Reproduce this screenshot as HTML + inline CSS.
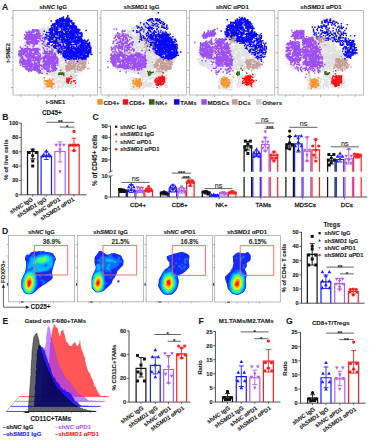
<!DOCTYPE html>
<html><head><meta charset="utf-8"><style>
html,body{margin:0;padding:0;background:#fff;width:373px;height:440px;overflow:hidden}
svg{display:block}
text{font-family:"Liberation Sans", sans-serif}
</style></head><body>
<svg width="373" height="440" viewBox="0 0 373 440">
<rect width="373" height="440" fill="#fff"/>
<text x="2.00" y="10.20" font-size="8.6" text-anchor="start" font-weight="bold" fill="#1a1a1a" stroke="#1a1a1a" stroke-width="0.1">A</text>
<text x="53.10" y="8.70" font-size="6.1" text-anchor="middle" font-weight="bold" fill="#1a1a1a" stroke="#1a1a1a" stroke-width="0.1">sh<tspan font-style="italic">NC</tspan> IgG</text>
<text x="141.50" y="8.70" font-size="6.1" text-anchor="middle" font-weight="bold" fill="#1a1a1a" stroke="#1a1a1a" stroke-width="0.1">sh<tspan font-style="italic">SMD1</tspan> IgG</text>
<text x="232.30" y="8.70" font-size="6.1" text-anchor="middle" font-weight="bold" fill="#1a1a1a" stroke="#1a1a1a" stroke-width="0.1">sh<tspan font-style="italic">NC</tspan> αPD1</text>
<text x="321.00" y="8.70" font-size="6.1" text-anchor="middle" font-weight="bold" fill="#1a1a1a" stroke="#1a1a1a" stroke-width="0.1">sh<tspan font-style="italic">SMD1</tspan> αPD1</text>
<rect x="13.00" y="10.50" width="84.60" height="84.50" fill="none" stroke="#a0a0a0" stroke-width="0.7"/>
<line x1="10.80" y1="18.00" x2="13.00" y2="18.00" stroke="#666" stroke-width="0.5"/>
<line x1="11.90" y1="22.35" x2="13.00" y2="22.35" stroke="#999" stroke-width="0.4"/>
<line x1="11.90" y1="26.70" x2="13.00" y2="26.70" stroke="#999" stroke-width="0.4"/>
<line x1="11.90" y1="31.05" x2="13.00" y2="31.05" stroke="#999" stroke-width="0.4"/>
<line x1="10.80" y1="35.40" x2="13.00" y2="35.40" stroke="#666" stroke-width="0.5"/>
<line x1="11.90" y1="39.75" x2="13.00" y2="39.75" stroke="#999" stroke-width="0.4"/>
<line x1="11.90" y1="44.10" x2="13.00" y2="44.10" stroke="#999" stroke-width="0.4"/>
<line x1="11.90" y1="48.45" x2="13.00" y2="48.45" stroke="#999" stroke-width="0.4"/>
<line x1="10.80" y1="52.80" x2="13.00" y2="52.80" stroke="#666" stroke-width="0.5"/>
<line x1="11.90" y1="57.15" x2="13.00" y2="57.15" stroke="#999" stroke-width="0.4"/>
<line x1="11.90" y1="61.50" x2="13.00" y2="61.50" stroke="#999" stroke-width="0.4"/>
<line x1="11.90" y1="65.85" x2="13.00" y2="65.85" stroke="#999" stroke-width="0.4"/>
<line x1="10.80" y1="70.20" x2="13.00" y2="70.20" stroke="#666" stroke-width="0.5"/>
<line x1="11.90" y1="74.55" x2="13.00" y2="74.55" stroke="#999" stroke-width="0.4"/>
<line x1="11.90" y1="78.90" x2="13.00" y2="78.90" stroke="#999" stroke-width="0.4"/>
<line x1="11.90" y1="83.25" x2="13.00" y2="83.25" stroke="#999" stroke-width="0.4"/>
<line x1="10.80" y1="87.60" x2="13.00" y2="87.60" stroke="#666" stroke-width="0.5"/>
<line x1="11.90" y1="91.95" x2="13.00" y2="91.95" stroke="#999" stroke-width="0.4"/>
<line x1="20.70" y1="95.00" x2="20.70" y2="97.00" stroke="#666" stroke-width="0.5"/>
<line x1="25.05" y1="95.00" x2="25.05" y2="96.00" stroke="#999" stroke-width="0.4"/>
<line x1="29.40" y1="95.00" x2="29.40" y2="96.00" stroke="#999" stroke-width="0.4"/>
<line x1="33.75" y1="95.00" x2="33.75" y2="96.00" stroke="#999" stroke-width="0.4"/>
<line x1="38.10" y1="95.00" x2="38.10" y2="97.00" stroke="#666" stroke-width="0.5"/>
<line x1="42.45" y1="95.00" x2="42.45" y2="96.00" stroke="#999" stroke-width="0.4"/>
<line x1="46.80" y1="95.00" x2="46.80" y2="96.00" stroke="#999" stroke-width="0.4"/>
<line x1="51.15" y1="95.00" x2="51.15" y2="96.00" stroke="#999" stroke-width="0.4"/>
<line x1="55.50" y1="95.00" x2="55.50" y2="97.00" stroke="#666" stroke-width="0.5"/>
<line x1="59.85" y1="95.00" x2="59.85" y2="96.00" stroke="#999" stroke-width="0.4"/>
<line x1="64.20" y1="95.00" x2="64.20" y2="96.00" stroke="#999" stroke-width="0.4"/>
<line x1="68.55" y1="95.00" x2="68.55" y2="96.00" stroke="#999" stroke-width="0.4"/>
<line x1="72.90" y1="95.00" x2="72.90" y2="97.00" stroke="#666" stroke-width="0.5"/>
<line x1="77.25" y1="95.00" x2="77.25" y2="96.00" stroke="#999" stroke-width="0.4"/>
<line x1="81.60" y1="95.00" x2="81.60" y2="96.00" stroke="#999" stroke-width="0.4"/>
<line x1="85.95" y1="95.00" x2="85.95" y2="96.00" stroke="#999" stroke-width="0.4"/>
<line x1="90.30" y1="95.00" x2="90.30" y2="97.00" stroke="#666" stroke-width="0.5"/>
<line x1="94.65" y1="95.00" x2="94.65" y2="96.00" stroke="#999" stroke-width="0.4"/>
<rect x="101.00" y="10.50" width="85.40" height="84.50" fill="none" stroke="#a0a0a0" stroke-width="0.7"/>
<line x1="98.80" y1="18.00" x2="101.00" y2="18.00" stroke="#666" stroke-width="0.5"/>
<line x1="99.90" y1="22.35" x2="101.00" y2="22.35" stroke="#999" stroke-width="0.4"/>
<line x1="99.90" y1="26.70" x2="101.00" y2="26.70" stroke="#999" stroke-width="0.4"/>
<line x1="99.90" y1="31.05" x2="101.00" y2="31.05" stroke="#999" stroke-width="0.4"/>
<line x1="98.80" y1="35.40" x2="101.00" y2="35.40" stroke="#666" stroke-width="0.5"/>
<line x1="99.90" y1="39.75" x2="101.00" y2="39.75" stroke="#999" stroke-width="0.4"/>
<line x1="99.90" y1="44.10" x2="101.00" y2="44.10" stroke="#999" stroke-width="0.4"/>
<line x1="99.90" y1="48.45" x2="101.00" y2="48.45" stroke="#999" stroke-width="0.4"/>
<line x1="98.80" y1="52.80" x2="101.00" y2="52.80" stroke="#666" stroke-width="0.5"/>
<line x1="99.90" y1="57.15" x2="101.00" y2="57.15" stroke="#999" stroke-width="0.4"/>
<line x1="99.90" y1="61.50" x2="101.00" y2="61.50" stroke="#999" stroke-width="0.4"/>
<line x1="99.90" y1="65.85" x2="101.00" y2="65.85" stroke="#999" stroke-width="0.4"/>
<line x1="98.80" y1="70.20" x2="101.00" y2="70.20" stroke="#666" stroke-width="0.5"/>
<line x1="99.90" y1="74.55" x2="101.00" y2="74.55" stroke="#999" stroke-width="0.4"/>
<line x1="99.90" y1="78.90" x2="101.00" y2="78.90" stroke="#999" stroke-width="0.4"/>
<line x1="99.90" y1="83.25" x2="101.00" y2="83.25" stroke="#999" stroke-width="0.4"/>
<line x1="98.80" y1="87.60" x2="101.00" y2="87.60" stroke="#666" stroke-width="0.5"/>
<line x1="99.90" y1="91.95" x2="101.00" y2="91.95" stroke="#999" stroke-width="0.4"/>
<line x1="108.70" y1="95.00" x2="108.70" y2="97.00" stroke="#666" stroke-width="0.5"/>
<line x1="113.05" y1="95.00" x2="113.05" y2="96.00" stroke="#999" stroke-width="0.4"/>
<line x1="117.40" y1="95.00" x2="117.40" y2="96.00" stroke="#999" stroke-width="0.4"/>
<line x1="121.75" y1="95.00" x2="121.75" y2="96.00" stroke="#999" stroke-width="0.4"/>
<line x1="126.10" y1="95.00" x2="126.10" y2="97.00" stroke="#666" stroke-width="0.5"/>
<line x1="130.45" y1="95.00" x2="130.45" y2="96.00" stroke="#999" stroke-width="0.4"/>
<line x1="134.80" y1="95.00" x2="134.80" y2="96.00" stroke="#999" stroke-width="0.4"/>
<line x1="139.15" y1="95.00" x2="139.15" y2="96.00" stroke="#999" stroke-width="0.4"/>
<line x1="143.50" y1="95.00" x2="143.50" y2="97.00" stroke="#666" stroke-width="0.5"/>
<line x1="147.85" y1="95.00" x2="147.85" y2="96.00" stroke="#999" stroke-width="0.4"/>
<line x1="152.20" y1="95.00" x2="152.20" y2="96.00" stroke="#999" stroke-width="0.4"/>
<line x1="156.55" y1="95.00" x2="156.55" y2="96.00" stroke="#999" stroke-width="0.4"/>
<line x1="160.90" y1="95.00" x2="160.90" y2="97.00" stroke="#666" stroke-width="0.5"/>
<line x1="165.25" y1="95.00" x2="165.25" y2="96.00" stroke="#999" stroke-width="0.4"/>
<line x1="169.60" y1="95.00" x2="169.60" y2="96.00" stroke="#999" stroke-width="0.4"/>
<line x1="173.95" y1="95.00" x2="173.95" y2="96.00" stroke="#999" stroke-width="0.4"/>
<line x1="178.30" y1="95.00" x2="178.30" y2="97.00" stroke="#666" stroke-width="0.5"/>
<line x1="182.65" y1="95.00" x2="182.65" y2="96.00" stroke="#999" stroke-width="0.4"/>
<rect x="189.40" y="10.50" width="85.40" height="84.50" fill="none" stroke="#a0a0a0" stroke-width="0.7"/>
<line x1="187.20" y1="18.00" x2="189.40" y2="18.00" stroke="#666" stroke-width="0.5"/>
<line x1="188.30" y1="22.35" x2="189.40" y2="22.35" stroke="#999" stroke-width="0.4"/>
<line x1="188.30" y1="26.70" x2="189.40" y2="26.70" stroke="#999" stroke-width="0.4"/>
<line x1="188.30" y1="31.05" x2="189.40" y2="31.05" stroke="#999" stroke-width="0.4"/>
<line x1="187.20" y1="35.40" x2="189.40" y2="35.40" stroke="#666" stroke-width="0.5"/>
<line x1="188.30" y1="39.75" x2="189.40" y2="39.75" stroke="#999" stroke-width="0.4"/>
<line x1="188.30" y1="44.10" x2="189.40" y2="44.10" stroke="#999" stroke-width="0.4"/>
<line x1="188.30" y1="48.45" x2="189.40" y2="48.45" stroke="#999" stroke-width="0.4"/>
<line x1="187.20" y1="52.80" x2="189.40" y2="52.80" stroke="#666" stroke-width="0.5"/>
<line x1="188.30" y1="57.15" x2="189.40" y2="57.15" stroke="#999" stroke-width="0.4"/>
<line x1="188.30" y1="61.50" x2="189.40" y2="61.50" stroke="#999" stroke-width="0.4"/>
<line x1="188.30" y1="65.85" x2="189.40" y2="65.85" stroke="#999" stroke-width="0.4"/>
<line x1="187.20" y1="70.20" x2="189.40" y2="70.20" stroke="#666" stroke-width="0.5"/>
<line x1="188.30" y1="74.55" x2="189.40" y2="74.55" stroke="#999" stroke-width="0.4"/>
<line x1="188.30" y1="78.90" x2="189.40" y2="78.90" stroke="#999" stroke-width="0.4"/>
<line x1="188.30" y1="83.25" x2="189.40" y2="83.25" stroke="#999" stroke-width="0.4"/>
<line x1="187.20" y1="87.60" x2="189.40" y2="87.60" stroke="#666" stroke-width="0.5"/>
<line x1="188.30" y1="91.95" x2="189.40" y2="91.95" stroke="#999" stroke-width="0.4"/>
<line x1="197.10" y1="95.00" x2="197.10" y2="97.00" stroke="#666" stroke-width="0.5"/>
<line x1="201.45" y1="95.00" x2="201.45" y2="96.00" stroke="#999" stroke-width="0.4"/>
<line x1="205.80" y1="95.00" x2="205.80" y2="96.00" stroke="#999" stroke-width="0.4"/>
<line x1="210.15" y1="95.00" x2="210.15" y2="96.00" stroke="#999" stroke-width="0.4"/>
<line x1="214.50" y1="95.00" x2="214.50" y2="97.00" stroke="#666" stroke-width="0.5"/>
<line x1="218.85" y1="95.00" x2="218.85" y2="96.00" stroke="#999" stroke-width="0.4"/>
<line x1="223.20" y1="95.00" x2="223.20" y2="96.00" stroke="#999" stroke-width="0.4"/>
<line x1="227.55" y1="95.00" x2="227.55" y2="96.00" stroke="#999" stroke-width="0.4"/>
<line x1="231.90" y1="95.00" x2="231.90" y2="97.00" stroke="#666" stroke-width="0.5"/>
<line x1="236.25" y1="95.00" x2="236.25" y2="96.00" stroke="#999" stroke-width="0.4"/>
<line x1="240.60" y1="95.00" x2="240.60" y2="96.00" stroke="#999" stroke-width="0.4"/>
<line x1="244.95" y1="95.00" x2="244.95" y2="96.00" stroke="#999" stroke-width="0.4"/>
<line x1="249.30" y1="95.00" x2="249.30" y2="97.00" stroke="#666" stroke-width="0.5"/>
<line x1="253.65" y1="95.00" x2="253.65" y2="96.00" stroke="#999" stroke-width="0.4"/>
<line x1="258.00" y1="95.00" x2="258.00" y2="96.00" stroke="#999" stroke-width="0.4"/>
<line x1="262.35" y1="95.00" x2="262.35" y2="96.00" stroke="#999" stroke-width="0.4"/>
<line x1="266.70" y1="95.00" x2="266.70" y2="97.00" stroke="#666" stroke-width="0.5"/>
<line x1="271.05" y1="95.00" x2="271.05" y2="96.00" stroke="#999" stroke-width="0.4"/>
<rect x="278.00" y="10.50" width="85.50" height="84.50" fill="none" stroke="#a0a0a0" stroke-width="0.7"/>
<line x1="275.80" y1="18.00" x2="278.00" y2="18.00" stroke="#666" stroke-width="0.5"/>
<line x1="276.90" y1="22.35" x2="278.00" y2="22.35" stroke="#999" stroke-width="0.4"/>
<line x1="276.90" y1="26.70" x2="278.00" y2="26.70" stroke="#999" stroke-width="0.4"/>
<line x1="276.90" y1="31.05" x2="278.00" y2="31.05" stroke="#999" stroke-width="0.4"/>
<line x1="275.80" y1="35.40" x2="278.00" y2="35.40" stroke="#666" stroke-width="0.5"/>
<line x1="276.90" y1="39.75" x2="278.00" y2="39.75" stroke="#999" stroke-width="0.4"/>
<line x1="276.90" y1="44.10" x2="278.00" y2="44.10" stroke="#999" stroke-width="0.4"/>
<line x1="276.90" y1="48.45" x2="278.00" y2="48.45" stroke="#999" stroke-width="0.4"/>
<line x1="275.80" y1="52.80" x2="278.00" y2="52.80" stroke="#666" stroke-width="0.5"/>
<line x1="276.90" y1="57.15" x2="278.00" y2="57.15" stroke="#999" stroke-width="0.4"/>
<line x1="276.90" y1="61.50" x2="278.00" y2="61.50" stroke="#999" stroke-width="0.4"/>
<line x1="276.90" y1="65.85" x2="278.00" y2="65.85" stroke="#999" stroke-width="0.4"/>
<line x1="275.80" y1="70.20" x2="278.00" y2="70.20" stroke="#666" stroke-width="0.5"/>
<line x1="276.90" y1="74.55" x2="278.00" y2="74.55" stroke="#999" stroke-width="0.4"/>
<line x1="276.90" y1="78.90" x2="278.00" y2="78.90" stroke="#999" stroke-width="0.4"/>
<line x1="276.90" y1="83.25" x2="278.00" y2="83.25" stroke="#999" stroke-width="0.4"/>
<line x1="275.80" y1="87.60" x2="278.00" y2="87.60" stroke="#666" stroke-width="0.5"/>
<line x1="276.90" y1="91.95" x2="278.00" y2="91.95" stroke="#999" stroke-width="0.4"/>
<line x1="285.70" y1="95.00" x2="285.70" y2="97.00" stroke="#666" stroke-width="0.5"/>
<line x1="290.05" y1="95.00" x2="290.05" y2="96.00" stroke="#999" stroke-width="0.4"/>
<line x1="294.40" y1="95.00" x2="294.40" y2="96.00" stroke="#999" stroke-width="0.4"/>
<line x1="298.75" y1="95.00" x2="298.75" y2="96.00" stroke="#999" stroke-width="0.4"/>
<line x1="303.10" y1="95.00" x2="303.10" y2="97.00" stroke="#666" stroke-width="0.5"/>
<line x1="307.45" y1="95.00" x2="307.45" y2="96.00" stroke="#999" stroke-width="0.4"/>
<line x1="311.80" y1="95.00" x2="311.80" y2="96.00" stroke="#999" stroke-width="0.4"/>
<line x1="316.15" y1="95.00" x2="316.15" y2="96.00" stroke="#999" stroke-width="0.4"/>
<line x1="320.50" y1="95.00" x2="320.50" y2="97.00" stroke="#666" stroke-width="0.5"/>
<line x1="324.85" y1="95.00" x2="324.85" y2="96.00" stroke="#999" stroke-width="0.4"/>
<line x1="329.20" y1="95.00" x2="329.20" y2="96.00" stroke="#999" stroke-width="0.4"/>
<line x1="333.55" y1="95.00" x2="333.55" y2="96.00" stroke="#999" stroke-width="0.4"/>
<line x1="337.90" y1="95.00" x2="337.90" y2="97.00" stroke="#666" stroke-width="0.5"/>
<line x1="342.25" y1="95.00" x2="342.25" y2="96.00" stroke="#999" stroke-width="0.4"/>
<line x1="346.60" y1="95.00" x2="346.60" y2="96.00" stroke="#999" stroke-width="0.4"/>
<line x1="350.95" y1="95.00" x2="350.95" y2="96.00" stroke="#999" stroke-width="0.4"/>
<line x1="355.30" y1="95.00" x2="355.30" y2="97.00" stroke="#666" stroke-width="0.5"/>
<line x1="359.65" y1="95.00" x2="359.65" y2="96.00" stroke="#999" stroke-width="0.4"/>
<path transform="scale(0.1)" d="M444 246h14m-35 7h14m71 2h14m-48 12h14m21 -1h14m-3 1h14m-6 1h14m-129 13h14m-4 -1h14m0 -3h14m20 4h14m0 2h14m8 0h14m-5 -4h14m4 4h14m-6 -2h14m-159 12h14m3 0h14m-3 1h14m-3 -3h14m-2 -2h14m-5 2h14m-3 1h14m4 0h14m-4 1h14m-6 -2h14m2 3h14m-3 0h14m-3 -2h14m-183 14h14m0 -2h14m1 3h14m-8 -6h14m2 4h14m-4 0h14m1 0h14m-1 1h14m-7 1h14m3 -5h14m-5 4h14m-4 0h14m-2 -1h14m2 0h14m-2 -4h14m-211 16h14m3 1h14m-1 -3h14m-8 4h14m-1 -6h14m-1 5h14m-1 1h14m-4 -4h14m-3 1h14m3 -2h14m-4 2h14m-2 1h14m22 -3h14m-4 1h14m10 2h14m-253 14h14m-4 0h14m-2 0h14m4 -2h14m-3 -4h14m-7 0h14m-2 0h14m16 6h14m-4 0h14m-3 0h14m-1 -5h14m-1 1h14m-3 -1h14m18 1h14m1 4h14m1 -5h14m-6 1h14m2 -1h14m-8 2h14m-287 15h14m-5 -6h14m-1 5h14m3 1h14m-7 -5h14m-2 2h14m-3 -3h14m1 3h14m0 1h14m-3 -3h14m-5 -1h14m3 6h14m-7 -2h14m-2 -2h14m-3 -2h14m-1 1h14m-2 -1h14m0 2h14m1 4h14m-4 -2h14m-4 -2h14m-4 4h14m-1 -4h14m3 0h14m-6 4h14m-314 11h14m2 -3h14m-2 2h14m7 -2h14m-1 3h14m-3 -1h14m-1 1h14m-3 -4h14m0 2h14m-6 2h14m-2 1h14m-1 -6h14m-4 4h14m1 0h14m-1 -4h14m-2 0h14m-2 1h14m-6 1h14m2 -1h14m-1 1h14m-3 -2h14m-6 6h14m11 -3h14m-1 0h14m-315 15h14m2 -5h14m-3 0h14m-2 0h14m-3 3h14m1 -1h14m-4 2h14m-3 -2h14m10 0h14m-2 3h14m-2 -6h14m-1 2h14m-6 2h14m1 -4h14m8 0h14m-1 2h14m1 3h14m-6 -4h14m0 1h14m0 0h14m-5 2h14m2 -3h14m7 4h14m-324 9h14m9 -1h14m-6 2h14m-1 0h14m-2 -3h14m-3 0h14m2 5h14m-5 -1h14m-1 -4h14m2 0h14m-4 5h14m0 0h14m-4 0h14m-4 1h14m-4 -4h14m15 -1h14m7 1h14m0 4h14m0 -2h14m-4 1h14m-6 -1h14m1 0h14m-3 -1h14m-3 0h14m2 3h14m-340 10h14m1 -1h14m-2 -3h14m-3 6h14m-7 -2h14m-1 2h14m10 -4h14m0 -1h14m8 1h14m-1 -1h14m2 4h14m-4 -4h14m0 3h14m4 0h14m3 -2h14m-3 1h14m-3 1h14m-1 -1h14m11 3h14m-7 0h14m2 -1h14m11 -4h14m-1 1h14m-351 13h14m-4 2h14m-2 0h14m-3 1h14m1 -1h14m-5 -5h14m9 3h14m25 -1h14m-4 1h14m-2 -3h14m0 6h14m-2 -6h14m-4 3h14m0 2h14m6 -4h14m14 1h14m-5 -1h14m3 -1h14m-2 5h14m21 0h14m-6 0h14m0 -2h14m-5 -3h14m-361 15h14m3 2h14m-7 -5h14m-3 5h14m-1 0h14m11 -1h14m32 -2h14m-1 3h14m-1 -5h14m0 1h14m0 4h14m-3 -4h14m-6 4h14m-2 1h14m1 -6h14m0 0h14m-6 0h14m-4 6h14m25 -1h14m-4 -1h14m-3 -1h14m2 -2h14m-2 5h14m-364 9h14m0 0h14m-3 -3h14m-4 1h14m0 5h14m-1 0h14m-5 -1h14m0 -3h14m1 2h14m6 1h14m9 0h14m26 -3h14m-6 4h14m1 0h14m-2 -4h14m-1 1h14m-1 1h14m4 -3h14m2 4h14m8 0h14m-4 -2h14m1 1h14m-1 -2h14m0 4h14m-376 12h14m-4 -3h14m-3 1h14m0 2h14m-1 -5h14m-6 0h14m-2 5h14m3 -1h14m-2 -4h14m5 4h14m-2 -3h14m3 2h14m-4 -1h14m-2 -1h14m-5 3h14m0 -5h14m1 2h14m-5 4h14m-4 -4h14m13 -1h14m22 4h14m-4 1h14m-3 -6h14m1 0h14m1 0h14m-7 4h14m3 -2h14m4 -1h14m-395 15h14m-4 -4h14m1 5h14m-4 1h14m0 -5h14m-1 -1h14m-7 5h14m-2 1h14m-2 -2h14m15 -4h14m9 3h14m-1 2h14m-2 -5h14m-5 3h14m1 -3h14m-6 2h14m11 0h14m-4 1h14m-2 1h14m4 2h14m-3 -2h14m-6 1h14m2 -2h14m-1 1h14m-7 2h14m9 0h14m2 -2h14m-6 -4h14m-384 12h14m-4 3h14m0 -3h14m-1 6h14m-5 -1h14m-2 -4h14m-2 3h14m-1 -1h14m2 3h14m-3 -6h14m-1 4h14m21 0h14m-6 -1h14m1 2h14m1 0h14m-6 -4h14m-4 0h14m1 -1h14m0 5h14m-6 1h14m0 -4h14m-4 4h14m-3 -5h14m2 2h14m-5 2h14m2 -1h14m-4 -2h14m-2 -1h14m1 5h14m-6 -1h14m-396 12h14m-1 -1h14m21 -2h14m-6 3h14m-2 -4h14m-1 5h14m-2 -6h14m-3 1h14m-2 1h14m3 4h14m-1 -5h14m4 5h14m1 -6h14m1 5h14m-3 -3h14m-7 0h14m1 -2h14m0 3h14m8 0h14m1 -2h14m-5 4h14m-2 -3h14m-4 -2h14m-2 5h14m15 1h14m-8 -3h14m2 1h14m-1 -2h14m-5 3h14m-2 -3h14m-419 14h14m-7 -4h14m0 5h14m26 -3h14m-6 -1h14m-4 3h14m3 -1h14m-2 1h14m-1 -3h14m-6 2h14m-1 -1h14m-1 2h14m0 -3h14m34 2h14m-3 2h14m-5 -5h14m2 6h14m-6 -2h14m-4 2h14m0 -3h14m0 3h14m-4 -4h14m20 1h14m4 -2h14m-5 5h14m1 -2h14m-5 -1h14m-5 3h14m-419 8h14m-2 -2h14m-5 2h14m3 3h14m-4 -4h14m-2 2h14m-4 -1h14m-3 -2h14m0 4h14m0 -1h14m-3 -3h14m-2 3h14m-1 3h14m-5 -2h14m-3 0h14m2 -2h14m45 -1h14m-5 2h14m0 3h14m-3 -2h14m2 -4h14m-7 5h14m-2 1h14m1 0h14m-5 -5h14m-2 1h14m16 -2h14m-5 6h14m-4 -1h14m0 0h14m-1 -1h14m-448 8h14m-2 3h14m-4 1h14m0 2h14m8 -3h14m-2 2h14m-2 -4h14m-1 2h14m0 2h14m-1 -4h14m-4 3h14m2 -4h14m-3 2h14m18 1h14m15 -2h14m-2 -1h14m8 5h14m-1 -4h14m-1 0h14m-7 0h14m-2 5h14m3 -6h14m-4 6h14m-4 -3h14m-4 -1h14m1 1h14m-4 0h14m24 -3h14m1 2h14m-8 0h14m-445 11h14m2 -1h14m-4 0h14m-2 5h14m7 1h14m3 -1h14m-4 -2h14m1 3h14m-2 -5h14m-2 0h14m-3 4h14m-7 0h14m3 -2h14m46 -2h14m-7 2h14m-1 -1h14m-2 -1h14m-2 2h14m1 -3h14m-3 2h14m-4 2h14m-3 -2h14m-2 -2h14m-1 1h14m-1 3h14m-4 2h14m1 -6h14m1 0h14m-5 4h14m12 1h14m-2 -4h14m-445 13h14m-6 1h14m1 -2h14m-6 5h14m-3 -4h14m4 0h14m-7 2h14m-1 -4h14m-3 0h14m-3 2h14m3 1h14m11 3h14m-7 -1h14m-3 -3h14m-2 3h14m2 -1h14m7 -1h14m3 -3h14m-5 5h14m-2 -4h14m1 5h14m-7 -4h14m1 0h14m-5 2h14m0 -2h14m-1 1h14m-2 0h14m-5 1h14m3 -3h14m-2 4h14m-2 1h14m-2 -2h14m-2 -3h14m6 1h14m-4 1h14m-469 14h14m3 1h14m-4 -5h14m-1 2h14m-6 -1h14m1 -2h14m0 0h14m6 5h14m-3 1h14m3 -3h14m-8 -1h14m4 2h14m-4 2h14m-3 -4h14m0 4h14m-6 0h14m-3 -4h14m13 0h14m-1 3h14m-2 -3h14m7 3h14m-2 1h14m3 -2h14m-5 2h14m-3 -6h14m0 5h14m-1 1h14m-2 -6h14m6 4h14m3 -1h14m-3 1h14m-2 -3h14m-1 1h14m-5 -1h14m0 4h14m-3 -4h14m-483 11h14m-2 1h14m0 5h14m-3 0h14m-4 -6h14m-2 5h14m-3 -5h14m-3 0h14m3 4h14m7 1h14m0 -1h14m-1 2h14m-4 -3h14m-5 3h14m-1 -3h14m-1 0h14m1 1h14m-6 2h14m-1 -2h14m0 -3h14m-5 4h14m24 0h14m0 -3h14m-2 3h14m-2 -5h14m-4 4h14m-2 0h14m-3 2h14m11 0h14m-1 -4h14m-6 0h14m14 0h14m-6 1h14m1 1h14m-5 -1h14m0 -1h14m-2 0h14m44 3h14m-549 13h14m11 -5h14m-5 3h14m-5 2h14m-1 -2h14m-1 0h14m-1 -3h14m12 3h14m-3 2h14m-5 -4h14m0 0h14m11 0h14m-5 0h14m-3 1h14m-2 -2h14m4 0h14m-5 2h14m-2 0h14m-1 -2h14m-1 3h14m-6 -3h14m-2 1h14m0 -2h14m0 0h14m-7 0h14m3 3h14m-6 -3h14m45 5h14m4 -2h14m-6 -3h14m-2 6h14m-2 0h14m-1 -6h14m-1 3h14m-3 -3h14m-2 5h14m-3 -1h14m0 0h14m-558 13h14m12 -5h14m2 3h14m-2 2h14m-3 -2h14m-7 3h14m0 0h14m9 -3h14m9 -2h14m0 0h14m-1 4h14m-4 -1h14m-2 0h14m3 -3h14m-8 1h14m4 2h14m-5 -1h14m-3 -2h14m2 -1h14m-6 0h14m-4 6h14m-2 -4h14m2 1h14m-3 -1h14m1 -2h14m-6 0h14m13 2h14m-7 -2h14m1 2h14m-3 -1h14m0 2h14m-6 3h14m4 -4h14m-5 3h14m-3 -4h14m24 3h14m-5 -3h14m-3 3h14m-1 -1h14m3 3h14m-8 0h14m2 -2h14m-2 2h14m69 0h14m-663 12h14m9 -3h14m2 3h14m-2 -6h14m-2 5h14m-5 -3h14m-3 3h14m-1 -1h14m-4 0h14m2 -2h14m-2 -1h14m-2 2h14m6 3h14m14 -2h14m-3 0h14m-4 2h14m3 -4h14m-4 0h14m10 3h14m12 -3h14m-6 4h14m-3 -4h14m11 3h14m13 -1h14m-5 0h14m1 -3h14m-2 4h14m-5 0h14m8 -3h14m0 1h14m-4 3h14m10 -4h14m-1 -1h14m3 0h14m-4 0h14m-5 0h14m-3 3h14m4 -2h14m-4 -1h14m-3 -1h14m23 3h14m-4 -1h14m-2 -2h14m1 1h14m-7 2h14m-661 14h14m1 -2h14m-6 -3h14m1 6h14m-4 0h14m0 -3h14m8 -3h14m1 1h14m-4 5h14m26 -4h14m6 4h14m2 -5h14m-8 5h14m-2 -1h14m-1 -2h14m-3 -2h14m-2 0h14m1 5h14m1 -5h14m-3 3h14m-3 -1h14m-6 0h14m0 3h14m-1 -6h14m11 1h14m-6 0h14m2 1h14m-4 2h14m-3 -1h14m-2 -2h14m1 2h14m-6 0h14m-2 -3h14m28 1h14m10 2h14m-7 2h14m-1 -3h14m14 0h14m-3 1h14m5 1h14m16 0h14m-7 2h14m1 -1h14m6 1h14m-661 8h14m2 2h14m-1 -2h14m-2 3h14m7 -1h14m20 2h14m-3 -4h14m15 2h14m-7 1h14m2 -1h14m-3 2h14m-1 0h14m-3 -3h14m-2 2h14m1 0h14m-3 0h14m19 -4h14m-3 4h14m-1 -1h14m-2 -3h14m2 5h14m7 -6h14m9 4h14m-2 -4h14m1 0h14m11 6h14m-7 0h14m0 -4h14m-2 1h14m-3 -3h14m-3 2h14m0 2h14m0 -4h14m8 4h14m-3 2h14m-4 -5h14m0 5h14m-4 -1h14m-2 -3h14m4 1h14m-8 -1h14m-2 0h14m2 1h14m-617 11h14m2 4h14m-4 -6h14m-5 4h14m0 0h14m2 0h14m-5 -4h14m0 2h14m8 -2h14m-4 4h14m0 -1h14m1 1h14m-5 -1h14m1 -2h14m-6 2h14m-1 3h14m-4 -5h14m-1 1h14m13 0h14m-2 2h14m-6 -1h14m-1 -3h14m-2 4h14m14 -3h14m-4 3h14m-2 2h14m18 -1h14m3 1h14m-1 -4h14m-5 -2h14m-3 1h14m-1 -1h14m-1 4h14m-3 0h14m9 -4h14m-4 0h14m1 3h14m-1 -1h14m-5 -2h14m2 5h14m-4 -4h14m9 4h14m1 -4h14m-3 4h14m-662 8h14m-6 3h14m15 -1h14m-5 0h14m0 -3h14m-3 0h14m0 5h14m-3 -3h14m9 4h14m8 -4h14m2 -1h14m-2 5h14m-4 -3h14m-4 -2h14m-1 -1h14m14 3h14m-4 0h14m0 3h14m-3 -4h14m-6 2h14m3 -3h14m-2 5h14m-3 -6h14m22 5h14m-2 -5h14m-3 3h14m-5 2h14m15 -2h14m31 2h14m1 -4h14m-2 2h14m-2 -1h14m-4 2h14m9 -3h14m-1 3h14m-5 -3h14m3 1h14m-6 2h14m1 -3h14m18 -1h14m11 0h14m-627 13h14m-1 4h14m1 -1h14m-7 -3h14m-1 2h14m1 1h14m-6 -1h14m3 0h14m-1 0h14m-8 -2h14m-1 3h14m0 0h14m-1 1h14m0 -5h14m-8 3h14m4 3h14m-7 -4h14m-1 -1h14m-2 2h14m2 -2h14m-8 4h14m11 -4h14m0 3h14m-1 2h14m0 -6h14m-4 6h14m8 0h14m1 -3h14m-1 1h14m10 -4h14m-7 1h14m3 2h14m6 -2h14m20 2h14m12 0h14m2 0h14m-5 -2h14m-1 2h14m-6 -1h14m3 0h14m-3 3h14m0 1h14m-6 -6h14m0 3h14m-2 2h14m-617 7h14m2 5h14m-2 -4h14m-5 4h14m0 1h14m6 -6h14m3 2h14m-1 -2h14m-5 1h14m-4 4h14m10 1h14m-1 -4h14m10 3h14m9 0h14m-2 -3h14m2 4h14m-7 -2h14m-2 -1h14m3 2h14m-5 -5h14m-2 1h14m-1 -1h14m12 6h14m-4 -5h14m11 5h14m-5 -2h14m3 -4h14m-7 6h14m-2 -5h14m0 -1h14m-4 0h14m-1 5h14m-2 -2h14m2 -3h14m-8 4h14m0 0h14m-4 1h14m-2 -4h14m-1 2h14m3 3h14m-8 -6h14m4 2h14m-7 0h14m-1 2h14m-2 0h14m-567 14h14m1 -5h14m-4 -1h14m1 5h14m-1 -1h14m-3 2h14m6 -6h14m2 4h14m-5 2h14m2 -1h14m-3 -4h14m-6 1h14m0 4h14m-2 -5h14m-3 1h14m-1 -2h14m-1 0h14m-5 6h14m3 0h14m-3 -5h14m-7 2h14m15 0h14m-1 1h14m-6 -3h14m-4 1h14m-1 1h14m-2 3h14m-1 -1h14m1 -4h14m-5 2h14m0 -2h14m-3 2h14m-5 -2h14m10 -1h14m2 2h14m-5 -2h14m0 0h14m-4 6h14m3 -1h14m-7 -1h14m-2 2h14m-1 -1h14m-1 -4h14m-540 14h14m-4 1h14m0 1h14m-4 -1h14m1 -3h14m-6 4h14m2 1h14m7 -2h14m-4 0h14m1 2h14m-4 -3h14m9 2h14m2 -2h14m-2 2h14m-7 -2h14m3 0h14m5 -3h14m-2 6h14m4 0h14m19 -5h14m0 0h14m-5 0h14m-4 3h14m1 -3h14m-2 3h14m0 0h14m-7 1h14m3 -5h14m-1 5h14m-6 -2h14m-4 -2h14m1 5h14m-3 -3h14m2 1h14m-4 -1h14m-2 3h14m0 -1h14m-3 1h14m-3 -3h14m-495 13h14m-2 -2h14m-2 3h14m-1 -3h14m-5 -1h14m-2 3h14m-2 -2h14m0 -2h14m1 3h14m-2 2h14m-7 -3h14m-1 -1h14m-4 1h14m-2 -1h14m4 1h14m-7 4h14m2 -6h14m8 3h14m-4 2h14m10 -2h14m3 2h14m-2 -5h14m-8 5h14m-2 -1h14m1 1h14m0 0h14m-1 -2h14m-8 -3h14m-2 1h14m2 0h14m-3 -1h14m-5 5h14m-2 -2h14m-1 1h14m-2 -4h14m-1 0h14m-2 6h14m-2 -4h14m-482 10h14m-1 1h14m-1 1h14m-3 1h14m-1 3h14m-6 -6h14m0 0h14m-1 4h14m13 1h14m-8 -4h14m-1 5h14m0 -5h14m1 -1h14m-8 4h14m3 -2h14m-2 3h14m-7 -2h14m28 2h14m-4 1h14m0 -1h14m-6 0h14m12 1h14m-6 -1h14m14 -2h14m-5 1h14m2 -1h14m-5 0h14m-3 3h14m2 -3h14m-2 0h14m-7 1h14m4 0h14m-5 -3h14m-5 1h14m-2 0h14m-422 11h14m4 3h14m-4 0h14m7 -3h14m2 4h14m5 -4h14m2 -1h14m-4 5h14m-2 1h14m-4 -3h14m3 3h14m21 -1h14m-3 1h14m-4 -3h14m12 3h14m-3 0h14m9 -3h14m14 -2h14m-6 2h14m12 3h14m-2 -6h14m-5 1h14m0 0h14m9 3h14m-385 10h14m10 4h14m-3 -5h14m15 3h14m7 -1h14m-1 2h14m0 -2h14m-2 -2h14m-6 5h14m11 -4h14m-4 3h14m3 0h14m-3 -3h14m-7 -1h14m24 4h14m0 -4h14m6 4h14m2 -3h14m-5 4h14m-2 -5h14m-273 14h14m-2 -2h14m-7 5h14m0 -3h14m0 -1h14m-5 -1h14m1 0h14m-4 0h14m11 4h14m-5 -1h14m13 0h14m-4 0h14m-3 0h14m2 1h14m-3 -2h14m-5 -3h14m3 1h14m-3 1h14m-1 0h14m-4 4h14m8 -4h14m-251 11h14m-5 -1h14m0 1h14m-5 5h14m14 -3h14m6 -3h14m2 4h14m-3 -3h14m-1 3h14m-7 -3h14m-2 -1h14m3 4h14m6 1h14m3 -4h14m-135 12h14m-2 -1h14m-3 0h14m-1 4h14m-1 0h14m30 1h14" stroke="#e0e0e0" stroke-width="14" fill="none"/>
<path transform="scale(0.1)" d="M457 753h14m79 15h14m-121 8h14m36 3h14m9 -2h14m7 4h14m12 -6h14m-161 16h14m11 -1h14m14 3h14m-4 0h14m0 -1h14m-6 -1h14m-3 -3h14m3 5h14m-5 -1h14m-2 -2h14m-4 -1h14m-111 14h14m3 -2h14m-6 3h14m-1 0h14m1 -1h14m-3 2h14m-3 -2h14m-121 10h14m9 3h14m11 -3h14m8 -2h14m-1 6h14m10 -4h14m7 1h14m-142 12h14m22 -1h14m12 -1h14m22 0h14m5 3h14m-3 2h14m-129 12h14m5 -3h14m25 -3h14m1 1h14m6 3h14m21 -4h14m-147 17h14m46 1h14m58 -3h14m-93 10h14m-3 1h14m-3 4h14m19 -5h14m-129 15h14m-7 1h14m-1 -3h14m13 -1h14m0 -1h14m-7 1h14m12 0h14m-2 1h14m-5 0h14m22 -2h14m-168 12h14m2 3h14m52 0h14m0 1h14m36 -4h14m-97 14h14m45 1h14m6 -1h14" stroke="#e0e0e0" stroke-width="14" fill="none"/>
<path transform="scale(0.1)" d="M570 747h14m22 4h14m19 0h14m-2 -5h14m24 4h14m21 0h14m-1 0h14m7 -3h14m-189 13h14m-5 2h14m1 -4h14m-3 0h14m-4 3h14m-1 -1h14m-5 -1h14m12 -2h14m31 4h14m0 0h14m-4 1h14m-2 -1h14m-1 -2h14m-202 11h14m-2 1h14m-7 -2h14m14 2h14m-4 4h14m0 0h14m31 -5h14m9 5h14m-2 -5h14m-2 4h14m-167 12h14m-4 -2h14m3 -1h14m-3 -1h14m10 1h14m-4 3h14m10 -1h14m1 1h14m21 -4h14m-7 2h14m0 -3h14m-180 17h14m10 0h14m7 0h14m0 -3h14m0 -1h14m-2 3h14m-7 2h14m3 -5h14m9 -1h14m24 3h14m-212 12h14m4 0h14m-2 -2h14m-8 2h14m14 3h14m12 -4h14m6 2h14m20 -3h14m-145 17h14m3 -2h14m-8 -2h14m4 1h14m9 0h14m-2 2h14m-1 -3h14m40 -2h14m-2 4h14m16 -1h14m-199 15h14m12 -1h14m-5 1h14m3 -6h14m-6 5h14m34 1h14m25 -6h14m6 3h14m-1 -3h14m-155 13h14m-2 3h14m20 0h14m-4 1h14m13 -1h14m1 0h14m-8 -1h14m3 0h14m-1 0h14m-182 12h14m5 3h14m-1 0h14m-1 0h14m25 0h14m-6 -1h14m-4 -2h14m0 0h14m-4 2h14m14 -3h14m-3 4h14m24 -1h14m-229 11h14m-2 1h14m8 -3h14m31 4h14m12 -2h14m1 1h14m17 -5h14m13 5h14m-5 -2h14m-201 9h14m18 2h14m2 1h14m93 -2h14" stroke="#e0e0e0" stroke-width="14" fill="none"/>
<path transform="scale(0.1)" d="M783 575h14m-81 9h14m6 1h14m-35 16h14m-3 -2h14m-1 1h14m22 -1h14m5 0h14m-118 11h14m-2 -3h14m-2 6h14m7 -4h14m14 3h14m-6 -5h14m9 3h14m11 -2h14m3 5h14m-4 -4h14m-5 2h14m-215 13h14m11 -4h14m-7 3h14m3 1h14m9 -1h14m-2 -4h14m20 3h14m-3 3h14m3 -4h14m-2 4h14m-7 -6h14m1 0h14m-4 5h14m-192 11h14m0 -1h14m-3 3h14m-3 -1h14m-6 0h14m3 0h14m8 1h14m-4 -3h14m9 3h14m2 -2h14m-4 -3h14m-3 2h14m-3 1h14m4 -2h14m18 -2h14m-218 14h14m-2 3h14m-4 -1h14m13 1h14m-3 -5h14m-3 5h14m12 1h14m-5 -3h14m11 -1h14m-3 2h14m11 -4h14m-206 18h14m-1 -5h14m-2 5h14m-4 -3h14m-1 0h14m-2 -2h14m0 2h14m-5 -3h14m3 4h14m7 0h14m-4 -3h14m28 -1h14m-7 4h14m-3 -4h14m-202 17h14m-6 -3h14m-2 3h14m0 -5h14m2 0h14m-2 1h14m-2 5h14m-4 -1h14m-6 -3h14m4 1h14m-6 1h14m2 2h14m-8 -4h14m3 4h14m-1 -5h14m-6 2h14m2 2h14m-207 7h14m-4 5h14m0 -5h14m-4 5h14m0 -1h14m-4 -2h14m-3 -1h14m-3 4h14m21 1h14m16 -1h14m10 -4h14m-4 1h14m23 3h14m-2 0h14m-242 11h14m-3 -3h14m-5 1h14m-3 0h14m0 1h14m1 -1h14m10 4h14m-6 -6h14m2 0h14m-7 1h14m2 5h14m-5 -6h14m-3 0h14m13 0h14m-244 12h14m45 6h14m1 -5h14m-4 2h14m75 -3h14m4 0h14m3 0h14m-160 12h14m67 5h14" stroke="#c59c92" stroke-width="14" fill="none"/>
<path transform="scale(0.1)" d="M363 310h14m4 25h14m-2 0h14m-42 8h14m0 2h14m33 -4h14m-36 16h14m-6 2h14m-38 6h14m15 17h14m-4 -4h14m-3 3h14m-15 13h14m-1 -1h14m-61 13h14m-1 -1h14m-4 11h14m-2 -3h14m-23 15h14m-26 9h14m-8 4h14m48 1h14m-61 10h14m12 -3h14m-30 13h14m2 2h14m-3 2h14m-6 1h14m-73 10h14m50 -1h14m-74 13h14m22 1h14m33 0h14" stroke="#9c4ef2" stroke-width="14" fill="none"/>
<path transform="scale(0.1)" d="M320 298h15m-3 3h15m-1 -2h15m-3 0h15m-2 -2h15m-104 13h15m15 2h15m-8 -2h15m-3 -3h15m-4 3h15m1 -3h15m-2 4h15m-5 -1h15m-144 10h15m-3 5h15m-6 0h15m-3 0h15m-4 -5h15m-1 0h15m-1 2h15m-8 1h15m14 -3h15m5 5h15m-136 7h15m14 5h15m-5 0h15m-5 -5h15m34 5h15m-1 -3h15m-147 14h15m7 -1h15m-2 -3h15m-1 2h15m-7 -1h15m-4 1h15m-2 -1h15m1 0h15m-3 0h15m-5 4h15m-3 -6h15m-4 4h15m-148 12h15m-1 -4h15m-5 4h15m-2 2h15m-1 -4h15m-6 0h15m-2 3h15m-4 0h15m-5 0h15m1 -2h15m-1 1h15m-6 -3h15m-2 0h15m-162 12h15m-4 0h15m3 3h15m-7 0h15m0 1h15m-5 -3h15m-5 -2h15m2 4h15m-6 0h15m-3 0h15m0 0h15m3 -1h15m-169 15h15m-4 -5h15m-2 -1h15m1 3h15m-6 -2h15m-4 1h15m-3 4h15m-3 -5h15m-4 2h15m1 0h15m-2 0h15m-6 0h15m-6 0h15m-1 1h15m-155 9h15m-8 5h15m-1 -6h15m0 1h15m-9 4h15m-2 1h15m-1 -5h15m-4 4h15m-3 1h15m-4 -5h15m25 1h15m-138 13h15m21 1h15m-2 -1h15m-4 2h15m1 -5h15m-9 0h15m0 1h15m-5 5h15m-136 11h15m-1 -1h15m1 -3h15m-8 5h15m-3 0h15m0 -3h15m-3 -2h15m-2 1h15m-2 -1h15m-9 1h15m-1 -2h15m-131 18h15m-4 -1h15m-7 -5h15m-3 3h15m-2 -1h15m-4 2h15m2 2h15m-7 -2h15m0 -3h15m-8 5h15m-111 8h15m2 3h15m20 -4h15m-5 5h15m-3 -4h15m0 -2h15m-126 17h15m70 -2h15m-25 13h15" stroke="#9c4ef2" stroke-width="15" fill="none"/>
<path transform="scale(0.1)" d="M195 470h15m56 0h15m-76 12h15m-5 4h15m12 2h15m-5 -3h15m0 -2h15m-3 5h15m-1 -1h15m17 0h15m-2 1h15m-6 -1h15m1 1h15m-6 -3h15m-179 12h15m-7 -3h15m0 0h15m-3 5h15m-7 0h15m-1 -5h15m-1 0h15m-2 1h15m-4 0h15m-2 0h15m-2 2h15m-8 2h15m-1 -4h15m-3 2h15m-1 -1h15m-2 -2h15m-221 18h15m-6 -4h15m0 3h15m-5 1h15m0 -4h15m-6 -2h15m-4 2h15m0 4h15m6 -3h15m1 1h15m-5 -2h15m-1 -2h15m-2 2h15m-4 -1h15m-4 3h15m-3 2h15m-195 7h15m-4 1h15m7 2h15m-2 -3h15m-4 0h15m-4 2h15m14 0h15m-2 3h15m19 0h15m-7 -4h15m-2 3h15m0 -1h15m-207 11h15m-7 -2h15m3 4h15m-4 -1h15m-7 0h15m-2 0h15m8 -2h15m-2 3h15m-1 -3h15m7 3h15m-4 0h15m-3 -3h15m-2 -2h15m9 1h15m0 2h15m-224 10h15m1 3h15m-2 -4h15m-2 4h15m-8 2h15m8 -1h15m-3 -1h15m3 -2h15m-9 0h15m-1 -2h15m13 6h15m-4 -6h15m-3 0h15m-4 0h15m-6 5h15m10 1h15m-228 9h15m-8 2h15m0 -5h15m24 3h15m-9 0h15m-2 1h15m2 -3h15m-5 -1h15m-2 3h15m-5 0h15m0 2h15m-8 1h15m25 -5h15m-2 4h15m-201 13h15m-1 -4h15m24 1h15m-6 0h15m-2 1h15m-6 -4h15m2 1h15m-4 3h15m-7 0h15m-1 -3h15m1 4h15m-7 0h15m-2 -2h15m0 2h15m-8 -5h15m-202 18h15m-3 -5h15m41 -1h15m-5 1h15m-2 5h15m-2 -5h15m-1 1h15m-5 4h15m0 -1h15m-6 1h15m-1 -5h15m-6 4h15m1 1h15m-2 -3h15m-231 15h15m8 0h15m-5 -1h15m-6 0h15m12 -3h15m-4 4h15m-2 -4h15m-4 -1h15m11 0h15m8 0h15m-6 0h15m-3 2h15m-3 1h15m2 2h15m-223 8h15m11 2h15m-6 0h15m1 -1h15m-4 2h15m-1 1h15m-6 0h15m-2 -4h15m-1 3h15m-2 -3h15m-5 2h15m-3 2h15m-3 -2h15m-5 -3h15m-1 2h15m-3 3h15m-211 11h15m-2 -4h15m-1 0h15m-2 2h15m-7 1h15m3 0h15m-5 -4h15m-2 6h15m-6 -2h15m-4 2h15m23 -3h15m20 -3h15m1 0h15m-212 17h15m1 -4h15m-2 3h15m-4 0h15m-4 1h15m-5 -2h15m-3 3h15m0 -5h15m-8 4h15m3 0h15m-9 1h15m13 0h15m-3 -3h15m-5 3h15m0 -4h15m-7 -2h15m-181 17h15m-1 -1h15m-7 2h15m-1 -2h15m-1 -4h15m-6 4h15m1 2h15m-4 -1h15m-5 -2h15m-1 1h15m-7 -1h15m2 -2h15m-7 3h15m7 -3h15m-201 11h15m6 0h15m12 0h15m-7 1h15m1 4h15m-9 0h15m-3 0h15m1 0h15m-4 -5h15m9 4h15m-2 0h15m-4 -1h15m-4 1h15m-2 -2h15m0 0h15m-9 1h15m-203 12h15m-5 -1h15m-1 4h15m-7 -1h15m-1 -5h15m0 4h15m-2 -3h15m-3 5h15m-6 -4h15m-4 0h15m-1 -1h15m-1 2h15m-3 -2h15m-3 3h15m-7 -4h15m11 0h15m-183 13h15m7 0h15m11 -1h15m-4 6h15m11 -6h15m-2 6h15m-9 -6h15m2 5h15m-8 0h15m2 1h15m-152 10h15m0 1h15m0 0h15m-3 -3h15m-6 -2h15m-3 6h15m-4 -6h15m-2 6h15m-3 0h15m-2 0h15m34 -3h15m-164 9h15m-2 1h15m-4 3h15m0 1h15m-5 0h15m2 -5h15m-5 5h15m-3 -2h15m-3 0h15m-97 13h15m9 -3h15m45 4h15m-5 -2h15m-2 3h15" stroke="#9c4ef2" stroke-width="15" fill="none"/>
<path transform="scale(0.1)" d="M435 499h15m72 1h15m-98 12h15m-5 2h15m0 0h15m6 -1h15m-3 -1h15m-2 -1h15m-87 9h15m0 0h15m-4 5h15m10 -2h15m-9 1h15m-2 0h15m-4 -3h15m-110 14h15m1 -2h15m-4 -1h15m-4 4h15m-4 2h15m-4 -2h15m-4 -4h15m3 1h15m9 -1h15m-4 2h15m-113 10h15m8 4h15m1 2h15m3 -4h15m1 -2h15m-3 1h15m-1 4h15m-124 13h15m-6 -6h15m-4 1h15m2 0h15m-7 2h15m10 3h15m-5 0h15m0 -5h15m-4 5h15m-135 8h15m-3 4h15m0 -3h15m-9 2h15m-3 0h15m1 -5h15m-3 2h15m-2 4h15m-6 -3h15m-3 0h15m0 -1h15m-2 -1h15m-149 16h15m-2 0h15m-2 -5h15m-9 1h15m1 -1h15m-3 4h15m-5 2h15m-5 -3h15m1 0h15m-3 0h15m-1 3h15m-4 -5h15m-8 4h15m-154 12h15m-6 -2h15m11 -2h15m-7 0h15m-2 -1h15m-4 0h15m1 1h15m-5 1h15m-4 2h15m2 1h15m7 -1h15m-157 13h15m-6 -2h15m-2 3h15m-3 -3h15m-2 -3h15m-4 6h15m-1 -2h15m-7 -4h15m-1 6h15m-4 0h15m7 -5h15m-1 3h15m-162 9h15m-2 4h15m2 -1h15m-7 0h15m1 -4h15m-6 5h15m-6 -2h15m-2 -1h15m-1 -1h15m-5 -1h15m-2 3h15m-4 2h15m-1 0h15m-145 7h15m-6 6h15m-1 -3h15m-3 -1h15m-3 -1h15m-3 2h15m-4 3h15m-4 -2h15m-3 2h15m-5 -4h15m-3 1h15m-3 2h15m-155 10h15m-2 2h15m-2 -2h15m-4 -2h15m-8 3h15m2 -1h15m-7 0h15m11 -3h15m-1 3h15m-5 2h15m-135 13h15m-6 -6h15m-3 5h15m-2 1h15m-2 -5h15m-3 4h15m9 -5h15m-3 2h15m0 0h15m-8 -2h15m9 0h15m-158 13h15m-2 0h15m9 1h15m1 3h15m-5 -1h15m6 0h15m1 -3h15m-6 3h15m-3 -2h15m-136 15h15m-1 -3h15m-5 1h15m2 -3h15m-5 0h15m-6 2h15m14 4h15m-9 -3h15m-3 0h15m0 0h15m-2 3h15m-134 8h15m-2 -1h15m-7 3h15m-3 -3h15m36 5h15m-3 -5h15m-3 5h15m-5 -3h15m-110 11h15m-1 3h15m-9 -5h15m9 6h15m3 -5h15m-3 3h15m-3 -2h15m32 4h15m-146 9h15m-9 0h15m-3 -1h15m-2 4h15m10 -6h15m-157 16h15m70 10h15" stroke="#9c4ef2" stroke-width="15" fill="none"/>
<path transform="scale(0.1)" d="M349 656h15m-4 4h15m-36 9h15m-5 0h15m1 4h15m-17 8h15m-16 12h15m-2 1h15m-5 -2h15m-29 11h15m3 4h15m-9 0h15m-12 11h15m-29 11h15m-2 -2h15m1 5h15" stroke="#9c4ef2" stroke-width="15" fill="none"/>
<path transform="scale(0.1)" d="M495 286h14m-24 14h14m-64 13h14m51 0h14m-55 12h14m2 1h14m-4 -2h14m-1 -2h14m-1 2h14m-29 9h14m36 3h14m-111 9h14m-4 2h14m-11 16h14m0 -3h14m-5 3h14m13 -6h14m-75 18h14m44 -5h14m-64 11h14m2 4h14m-14 13h14m-3 0h14m1 -4h14m-5 -1h14m-5 0h14m-49 13h14m3 5h14m20 -2h14m-3 -4h14m-71 17h14m-5 -4h14m-1 4h14m-53 8h14m-2 3h14m37 -1h14m-85 12h14m-6 2h14m-3 -5h14m10 15h14" stroke="#0808f8" stroke-width="14" fill="none"/>
<path transform="scale(0.1)" d="M671 157h15m-59 12h15m28 -1h15m-98 18h15m-1 0h15m-4 -6h15m-3 3h15m21 -3h15m-2 4h15m-4 2h15m-132 11h15m4 0h15m0 -2h15m-4 0h15m-4 0h15m-4 0h15m-1 -3h15m1 1h15m-8 2h15m-1 2h15m-195 13h15m33 -2h15m-5 -2h15m1 -1h15m-7 3h15m-4 -2h15m2 2h15m-5 -3h15m0 5h15m-4 -3h15m-8 3h15m1 -1h15m-6 -4h15m0 1h15m-3 1h15m-170 9h15m-8 5h15m-3 -3h15m2 0h15m-5 -2h15m-4 5h15m-4 -5h15m-1 0h15m0 3h15m-3 -3h15m-3 0h15m-7 5h15m-5 -1h15m0 -4h15m-182 18h15m-2 -4h15m-3 -1h15m-5 2h15m-3 -2h15m0 5h15m-4 0h15m-4 -2h15m-7 2h15m-2 0h15m0 -3h15m-1 0h15m-9 -2h15m14 3h15m-5 -3h15m-4 4h15m-227 9h15m-7 -2h15m-5 0h15m3 2h15m-7 0h15m-5 3h15m3 -5h15m-4 5h15m-8 0h15m-2 0h15m0 -5h15m-4 6h15m-1 -6h15m-7 4h15m-2 -2h15m22 -2h15m-5 5h15m-240 12h15m-4 -4h15m-5 0h15m1 2h15m10 2h15m-4 -4h15m-4 2h15m-4 -2h15m-2 1h15m-4 0h15m-3 3h15m-5 0h15m-4 -5h15m-3 6h15m-3 -1h15m-3 -3h15m0 1h15m-6 -3h15m-1 3h15m-5 2h15m-226 7h15m-2 2h15m-9 -2h15m3 5h15m-7 0h15m-3 0h15m-1 -4h15m-4 2h15m-1 -3h15m-6 0h15m1 4h15m-7 -3h15m0 3h15m-4 0h15m-2 0h15m-7 2h15m0 -3h15m-7 2h15m1 -1h15m-5 -4h15m-265 15h15m-7 -3h15m2 4h15m-7 2h15m1 -4h15m-5 1h15m23 0h15m5 -2h15m0 3h15m-3 -1h15m-3 3h15m10 -3h15m-8 3h15m-1 -5h15m-5 2h15m-3 -3h15m-3 4h15m0 0h15m-277 14h15m-2 0h15m-6 -5h15m7 -1h15m1 2h15m-3 -1h15m-2 0h15m15 4h15m3 0h15m-9 0h15m0 -4h15m-3 5h15m0 -5h15m-8 5h15m13 -3h15m-7 0h15m-3 1h15m-4 2h15m-2 -5h15m-2 3h15m-3 1h15m-300 13h15m-8 -4h15m2 -1h15m-3 1h15m-8 -2h15m2 2h15m-6 1h15m24 1h15m4 1h15m2 0h15m-8 -5h15m14 6h15m10 -4h15m-3 0h15m-6 4h15m-2 -3h15m-6 0h15m-4 2h15m-1 -3h15m-4 2h15m-4 -3h15m47 4h15m-359 9h15m-9 -1h15m12 3h15m-4 0h15m-2 -1h15m-1 1h15m-5 1h15m-4 1h15m0 -1h15m16 -5h15m-2 2h15m-1 -1h15m0 3h15m-3 2h15m-9 0h15m1 -5h15m-3 2h15m-5 0h15m1 2h15m-3 -1h15m-6 2h15m-301 6h15m-5 4h15m-2 -4h15m11 1h15m-4 5h15m-5 -4h15m-4 -1h15m-4 -1h15m2 3h15m-4 -2h15m-4 5h15m8 -4h15m-3 -1h15m-6 5h15m2 -3h15m-5 -1h15m0 -2h15m-5 5h15m-3 -1h15m-5 1h15m-4 -2h15m-2 2h15m-4 -2h15m2 2h15m-5 -3h15m-326 13h15m-6 -1h15m-5 2h15m-2 0h15m-4 -3h15m1 3h15m-3 -2h15m5 1h15m3 3h15m-8 -3h15m1 1h15m-4 -2h15m-1 1h15m-6 2h15m-3 -1h15m-1 2h15m-6 -3h15m0 -3h15m-5 2h15m-3 4h15m11 -1h15m9 -4h15m-3 0h15m-8 3h15m-3 1h15m-338 7h15m8 3h15m-2 -2h15m-1 5h15m-2 -2h15m-2 -3h15m5 2h15m-3 3h15m2 -1h15m-5 -5h15m-7 0h15m0 0h15m-3 1h15m-3 1h15m-6 2h15m0 1h15m-3 -2h15m-1 2h15m-8 -3h15m-3 -2h15m12 0h15m24 6h15m-317 6h15m9 2h15m-2 3h15m-6 -2h15m0 -2h15m-2 -1h15m-9 4h15m-2 2h15m-1 -4h15m-6 0h15m3 4h15m-6 0h15m-5 -4h15m-3 2h15m-4 0h15m3 1h15m-9 -1h15m-1 -3h15m-5 3h15m3 -3h15m-8 5h15m1 -6h15m-3 3h15m-4 3h15m-4 0h15m-6 -6h15m-385 16h15m32 -3h15m-1 1h15m-4 2h15m-4 -1h15m-4 1h15m-1 -3h15m1 -1h15m-3 1h15m-4 2h15m-6 -1h15m1 0h15m-6 2h15m-6 -4h15m10 1h15m0 1h15m-4 1h15m-4 0h15m-1 -3h15m-2 0h15m-2 0h15m-4 3h15m-3 -1h15m-2 4h15m-6 -6h15m-2 0h15m-3 4h15m-328 11h15m12 1h15m4 -4h15m1 0h15m-6 4h15m1 -1h15m-6 -3h15m-3 0h15m-3 5h15m-3 -3h15m-6 1h15m-2 2h15m2 0h15m-9 -5h15m3 5h15m-4 0h15m-3 -4h15m-3 2h15m-4 -2h15m-2 3h15m9 2h15m-5 -4h15m0 0h15m-3 4h15m-327 11h15m-3 -5h15m20 1h15m-6 3h15m-4 -3h15m9 -1h15m0 5h15m-6 -4h15m-1 -1h15m-1 2h15m-2 1h15m-6 -1h15m-2 3h15m-6 -4h15m12 3h15m-2 -4h15m5 2h15m-2 4h15m-3 -6h15m-2 6h15m-4 -3h15m0 2h15m-5 -2h15m6 0h15m21 0h15m-371 15h15m-1 -4h15m-3 0h15m-3 3h15m-5 -5h15m-4 5h15m10 -1h15m-3 1h15m-7 -4h15m3 1h15m-4 0h15m-2 -1h15m-3 -1h15m-9 4h15m0 0h15m-4 -4h15m-1 4h15m-1 -1h15m-6 2h15m-3 -3h15m-4 0h15m-1 -2h15m-7 5h15m2 -1h15m-3 0h15m-3 -4h15m-3 1h15m-2 5h15m-6 -3h15m-375 12h15m-1 -3h15m-4 1h15m-1 4h15m-9 0h15m-2 -1h15m0 -4h15m-1 4h15m-7 -4h15m-1 1h15m-5 -1h15m-5 4h15m0 1h15m-5 -4h15m-1 4h15m-4 0h15m-1 -1h15m-2 0h15m5 -2h15m1 1h15m-2 -1h15m-6 0h15m-2 -2h15m-5 1h15m0 3h15m-7 -2h15m-4 2h15m2 -1h15m29 2h15m-371 7h15m-6 3h15m1 1h15m-7 -3h15m-4 5h15m-4 0h15m14 -6h15m-7 4h15m0 -2h15m-4 2h15m0 1h15m-4 -1h15m-4 -1h15m-4 0h15m31 3h15m1 0h15m-5 -3h15m-4 2h15m13 -4h15m-6 4h15m-1 -2h15m-4 -3h15m-2 1h15m-5 0h15m-5 2h15m-3 2h15m-385 12h15m8 -5h15m1 6h15m-8 -6h15m-1 2h15m-2 1h15m-6 2h15m10 -1h15m19 -4h15m1 4h15m-3 0h15m-3 -2h15m-7 -2h15m1 3h15m-5 -2h15m0 1h15m-2 -2h15m20 6h15m-8 -4h15m-1 1h15m1 3h15m-6 0h15m-6 0h15m3 -2h15m-7 1h15m-2 -4h15m-376 17h15m0 -1h15m-7 -5h15m-1 6h15m-2 -3h15m-1 -2h15m-9 -1h15m-3 5h15m-1 0h15m0 1h15m4 -4h15m2 2h15m-6 0h15m9 -3h15m36 1h15m7 3h15m-1 -3h15m-8 0h15m0 1h15m-1 -1h15m-7 3h15m-1 0h15m-3 -2h15m-3 -3h15m-2 3h15m-376 12h15m-3 -2h15m-5 2h15m0 -1h15m-4 4h15m-6 -3h15m2 2h15m-5 0h15m-6 -5h15m3 2h15m-8 3h15m1 -1h15m-8 -3h15m-2 2h15m8 2h15m2 -5h15m-2 3h15m-9 3h15m3 -6h15m-4 6h15m-8 -1h15m3 0h15m-6 -4h15m-2 3h15m-7 1h15m2 -4h15m-3 1h15m-6 2h15m1 -1h15m-9 2h15m-1 0h15m-377 8h15m1 1h15m-5 2h15m0 -4h15m-8 0h15m1 0h15m-2 1h15m-7 2h15m-1 -3h15m-4 6h15m-3 -1h15m-5 1h15m0 -3h15m-5 -2h15m-1 5h15m-6 -1h15m-1 1h15m-2 -5h15m-1 4h15m-8 -1h15m-3 -2h15m-2 4h15m1 -4h15m-5 -1h15m-2 2h15m-3 -2h15m-6 4h15m0 1h15m11 0h15m-5 -2h15m-351 9h15m-3 4h15m-2 -4h15m-6 4h15m-2 -2h15m-2 3h15m-2 -4h15m-7 0h15m-3 0h15m-2 0h15m-5 -2h15m1 6h15m-1 -1h15m7 -5h15m-5 3h15m0 -1h15m-4 2h15m-1 1h15m-9 -5h15m-3 1h15m0 2h15m-2 -1h15m-1 -1h15m-6 4h15m-5 -1h15m2 -3h15m-5 4h15m-7 0h15m-346 13h15m-4 -5h15m-2 4h15m9 0h15m-4 0h15m-1 -1h15m-8 0h15m-3 -4h15m2 2h15m-9 2h15m2 1h15m-4 1h15m-3 -3h15m10 0h15m-2 -3h15m-7 3h15m-4 2h15m-4 -2h15m-2 -3h15m-1 6h15m-2 -3h15m-5 -2h15m-4 4h15m-3 -5h15m2 2h15m-7 0h15m-4 4h15m-337 11h15m-3 -1h15m-3 -2h15m-5 -2h15m-3 4h15m-4 1h15m2 -2h15m-4 -1h15m-2 0h15m-5 -1h15m-2 4h15m-7 -1h15m-2 2h15m0 -6h15m-2 1h15m-4 -1h15m-4 2h15m-2 -1h15m-5 5h15m0 -4h15m-8 4h15m-2 -2h15m-1 -2h15m-6 0h15m-1 2h15m-2 -3h15m-4 4h15m-2 1h15m-340 7h15m10 2h15m0 -2h15m-4 0h15m-8 2h15m1 0h15m-6 -2h15m-1 -1h15m-5 4h15m-4 2h15m2 -6h15m-4 3h15m-1 -3h15m-9 4h15m-1 -2h15m-1 3h15m-6 -3h15m1 0h15m-6 0h15m0 1h15m9 -3h15m-3 3h15m-7 1h15m-2 -3h15m-1 -1h15m-291 13h15m-3 4h15m-4 -2h15m-4 -2h15m-5 0h15m-3 4h15m3 -1h15m-8 -3h15m1 0h15m-4 4h15m-5 -3h15m-4 2h15m1 -2h15m-8 1h15m3 1h15m-9 1h15m-2 -5h15m-4 3h15m1 -3h15m-2 0h15m7 5h15m-1 -4h15m7 0h15m-5 5h15m-303 10h15m-4 -4h15m2 4h15m-4 1h15m-4 -2h15m-5 1h15m2 -3h15m-9 3h15m0 0h15m-2 -4h15m-1 1h15m-9 4h15m-2 -3h15m1 0h15m-6 2h15m-4 -3h15m2 0h15m-3 1h15m-8 2h15m-1 1h15m-4 0h15m-5 -3h15m-264 14h15m-5 -4h15m-1 3h15m-1 -2h15m-5 1h15m-1 1h15m-7 0h15m-2 -1h15m-2 2h15m-4 -3h15m0 1h15m-2 -1h15m-5 5h15m-7 -1h15m2 0h15m-6 0h15m-4 0h15m-1 -2h15m-3 -2h15m0 1h15m-7 1h15m-5 1h15m-250 10h15m-4 3h15m-7 -3h15m1 4h15m-3 -6h15m-1 5h15m-8 -2h15m-3 -1h15m-1 4h15m-2 0h15m-2 -5h15m10 4h15m-3 -2h15m-4 -3h15m-7 5h15m-3 -1h15m-1 -2h15m-4 -1h15m-203 13h15m-6 1h15m0 1h15m-4 -2h15m-8 -2h15m3 0h15m-6 3h15m-6 0h15m1 -1h15m6 -1h15m13 2h15m-6 3h15m1 -3h15m-6 -1h15m-4 -1h15m-218 16h15m103 9h15" stroke="#0808f8" stroke-width="15" fill="none"/>
<path transform="scale(0.1)" d="M549 359h13m-3 1h13m1 5h13m-46 19h13m46 3h13m-72 8h13m19 3h13m-9 15h13m10 -1h13m-23 20h13m-1 2h13m-1 2h13m11 -3h13m-113 10h13m12 2h13m38 11h13m-63 17h13m-4 0h13m2 -2h13m-28 12h13m39 -4h13m-73 16h13m19 -1h13m23 3h13m1 -3h13m-47 11h13m-6 16h13m-32 23h13m-2 -2h13" stroke="#c59c92" stroke-width="13" fill="none"/>
<path transform="scale(0.1)" d="M584 730h14m-4 0h14m-4 1h14m-1 -4h14m0 6h14m-66 11h14m0 -2h14m1 0h14m-5 -2h14m0 5h14" stroke="#2d6914" stroke-width="14" fill="none"/>
<path transform="scale(0.1)" d="M435 778h14m38 17h14m21 0h14m-97 9h14m-4 4h14m0 -2h14m-5 0h14m-3 0h14m3 -2h14m-6 3h14m-75 8h14m1 -1h14m-5 2h14m3 2h14m-1 1h14m-5 -3h14m-59 13h14m-3 2h14m-6 -2h14m2 3h14m-5 -3h14m-3 3h14m-87 6h14m4 2h14m4 0h14m0 -1h14m0 0h14m-2 5h14m-1 -6h14m-91 13h14m0 5h14m-2 -6h14m2 0h14m4 0h14m-71 17h14m0 -2h14m-3 -3h14m-1 3h14m-2 -3h14m-15 15h14" stroke="#f7922a" stroke-width="14" fill="none"/>
<path transform="scale(0.1)" d="M661 781h14m8 -2h14m15 2h14m-64 16h14m-2 7h14m-5 0h14m34 2h14m-2 0h14m-84 14h14m20 -4h14m12 -1h14m-75 14h14m15 3h14m33 0h14" stroke="#f81010" stroke-width="14" fill="none"/>
<path transform="scale(0.1)" d="M630 754h14m59 10h14m-53 25h14m-4 2h14m2 -4h14m-3 2h14m-49 9h14m-5 4h14m-2 -4h14m-40 14h14m1 0h14m-2 -2h14m-39 11h14m-4 1h14m-11 12h14" stroke="#f81010" stroke-width="14" fill="none"/>
<path transform="scale(0.1)" d="M1495 190h14m-4 -3h14m-1 4h14m-78 12h14m26 -3h14m-2 -2h14m-4 -1h14m-4 0h14m14 1h14m-136 17h14m-3 -1h14m1 -1h14m-6 1h14m1 1h14m-3 -6h14m-5 4h14m2 -1h14m-2 0h14m-2 0h14m-5 3h14m-3 -2h14m-158 8h14m0 6h14m1 -6h14m-5 2h14m-3 3h14m-2 -5h14m12 2h14m-5 4h14m1 -1h14m-2 -5h14m-5 2h14m-1 3h14m-1 1h14m-4 -1h14m4 -4h14m-8 0h14m-212 13h14m-7 -2h14m0 3h14m-1 -1h14m-5 3h14m3 -4h14m-6 5h14m0 -4h14m-4 0h14m1 3h14m-3 1h14m-1 -6h14m-4 0h14m-5 4h14m13 -4h14m1 0h14m-6 2h14m-250 16h14m-6 -5h14m-2 1h14m-2 4h14m11 -1h14m9 1h14m11 -2h14m-2 -2h14m-2 -1h14m-3 -1h14m33 0h14m12 0h14m-1 4h14m-2 2h14m-5 -6h14m0 4h14m-299 9h14m-3 0h14m-7 3h14m1 2h14m-2 -3h14m-3 -1h14m-1 2h14m19 1h14m-1 1h14m11 -5h14m0 -1h14m7 3h14m-2 1h14m1 0h14m8 2h14m2 -6h14m5 0h14m1 1h14m-2 5h14m-326 12h14m-3 -2h14m0 -2h14m-4 3h14m-4 -1h14m3 -3h14m-5 2h14m-1 -2h14m-2 5h14m-4 0h14m-1 -5h14m-1 4h14m6 -3h14m4 -1h14m-5 3h14m0 1h14m6 -1h14m2 0h14m-7 -2h14m3 0h14m-1 2h14m7 2h14m-2 -3h14m-5 -3h14m2 4h14m-352 8h14m-3 4h14m-1 2h14m0 -1h14m-3 -3h14m11 2h14m-4 0h14m-2 0h14m-2 0h14m-4 1h14m-1 -4h14m0 5h14m-2 -1h14m-4 -4h14m-1 -1h14m2 1h14m-8 3h14m4 0h14m5 -3h14m3 5h14m6 -1h14m-1 -1h14m-5 -4h14m-1 2h14m1 -1h14m-3 1h14m-348 10h14m-4 6h14m1 -4h14m-3 4h14m35 -5h14m-5 1h14m0 3h14m-6 -4h14m1 3h14m-6 -3h14m0 5h14m-1 -2h14m24 -4h14m-5 0h14m-4 6h14m1 0h14m13 -2h14m-4 -4h14m-6 6h14m13 -6h14m-1 5h14m21 -2h14m-409 9h14m-1 6h14m-3 -6h14m6 0h14m3 5h14m-5 -3h14m-3 1h14m-2 0h14m1 0h14m0 3h14m-3 -5h14m-3 3h14m-6 2h14m1 -6h14m-4 5h14m-3 -3h14m-1 4h14m1 -1h14m9 -2h14m-1 0h14m-3 1h14m-4 -3h14m-3 -1h14m1 6h14m-4 -3h14m2 3h14m11 -4h14m8 3h14m-4 -2h14m1 3h14m-422 12h14m-3 -6h14m-5 4h14m3 -2h14m-5 0h14m22 -2h14m10 0h14m11 6h14m8 -2h14m1 1h14m-3 0h14m-4 -1h14m-1 -1h14m-3 1h14m1 -3h14m-2 -1h14m-2 0h14m-5 5h14m2 0h14m-6 -1h14m0 -1h14m-1 3h14m-5 -2h14m1 2h14m-4 -5h14m-2 1h14m0 0h14m-4 -1h14m-2 0h14m11 1h14m-436 15h14m-3 0h14m-2 -3h14m2 1h14m-7 0h14m14 -3h14m-2 5h14m9 -3h14m0 1h14m23 1h14m-8 -2h14m0 -1h14m2 4h14m-5 -2h14m-1 1h14m-6 2h14m4 -5h14m-8 2h14m0 -1h14m2 3h14m-5 -3h14m0 3h14m-7 1h14m11 -3h14m-1 -1h14m-4 2h14m1 -3h14m1 2h14m-5 -2h14m-3 5h14m0 -4h14m-5 4h14m-470 10h14m-3 -2h14m3 1h14m-3 1h14m10 0h14m0 2h14m-8 -1h14m11 -2h14m2 -1h14m-1 3h14m-6 0h14m12 -1h14m-4 2h14m2 -1h14m-8 0h14m-2 1h14m-2 -5h14m4 3h14m-8 -2h14m16 3h14m-7 -3h14m1 -1h14m11 -1h14m-4 1h14m11 0h14m-4 1h14m-4 3h14m0 1h14m2 0h14m-8 -3h14m2 2h14m-1 -4h14m-5 1h14m-493 15h14m1 -1h14m-3 2h14m-7 -1h14m1 -3h14m-2 4h14m-1 0h14m-1 -4h14m-6 4h14m1 -1h14m31 -1h14m3 1h14m-3 1h14m-6 -2h14m14 0h14m9 -1h14m-5 -1h14m0 1h14m-2 2h14m-4 -4h14m0 5h14m0 -5h14m-1 4h14m9 0h14m-4 1h14m-1 -3h14m0 -1h14m18 0h14m-1 4h14m-4 -3h14m-2 3h14m-2 -4h14m-2 3h14m-550 7h14m19 3h14m2 -2h14m-7 4h14m-3 1h14m4 -6h14m-6 6h14m0 -1h14m11 0h14m-7 0h14m1 -3h14m-1 -1h14m-5 -1h14m-2 4h14m-1 -1h14m2 0h14m-3 0h14m-6 -3h14m-3 6h14m3 -4h14m-6 -1h14m3 5h14m-8 -5h14m1 2h14m-4 -1h14m-2 1h14m-2 2h14m-2 -5h14m-1 2h14m-1 -1h14m10 4h14m13 -2h14m-3 -1h14m-7 0h14m2 3h14m-2 0h14m-5 -3h14m14 3h14m-7 -3h14m4 2h14m-2 0h14m-7 2h14m-576 10h14m12 -3h14m-1 0h14m-6 -1h14m-4 3h14m0 1h14m-1 1h14m-2 -2h14m11 -1h14m6 0h14m2 -1h14m-6 0h14m0 5h14m-1 -6h14m-1 4h14m-6 0h14m1 -1h14m-3 -2h14m-1 -1h14m-4 1h14m1 5h14m-6 -4h14m3 2h14m-1 -3h14m7 5h14m1 -6h14m-3 2h14m-5 1h14m1 0h14m-2 -1h14m8 0h14m-2 -1h14m0 4h14m-5 -5h14m-1 6h14m-1 -1h14m-3 -5h14m8 0h14m0 4h14m1 0h14m-3 -3h14m-6 0h14m-552 14h14m-3 2h14m-4 -3h14m3 -1h14m9 4h14m-3 -3h14m0 4h14m-4 -3h14m-1 1h14m0 1h14m-6 -1h14m2 2h14m-8 -3h14m0 -1h14m1 2h14m-1 -1h14m-8 -1h14m2 -2h14m-1 2h14m-4 -1h14m-5 4h14m11 -3h14m24 1h14m-2 2h14m7 -1h14m2 -3h14m23 4h14m-5 -5h14m1 2h14m-2 -1h14m-2 5h14m-3 -6h14m-5 6h14m34 -2h14m-1 2h14m0 -3h14m-1 -2h14m-593 13h14m1 1h14m-5 -3h14m10 6h14m-4 -1h14m16 -1h14m-6 -1h14m-1 -1h14m1 -1h14m-4 0h14m-5 4h14m33 -2h14m-1 -2h14m15 5h14m-3 -6h14m-1 0h14m-3 3h14m-4 2h14m13 -2h14m-8 3h14m4 -3h14m-2 3h14m-5 -3h14m-3 0h14m-4 -3h14m-1 6h14m14 -1h14m-4 1h14m-3 0h14m-1 -1h14m-3 -2h14m2 -1h14m-8 3h14m1 -1h14m25 1h14m-6 -1h14m-4 -3h14m-1 3h14m-3 -2h14m-611 15h14m0 -2h14m-3 1h14m10 -2h14m-1 1h14m-1 3h14m32 -6h14m6 1h14m10 3h14m13 1h14m-4 -4h14m2 -1h14m-3 1h14m-6 4h14m-1 -2h14m1 1h14m-2 1h14m-2 -2h14m-6 2h14m-1 -5h14m0 1h14m-3 0h14m13 5h14m-3 -5h14m-4 1h14m0 4h14m8 -2h14m13 2h14m-1 -5h14m-4 2h14m-3 2h14m-3 -4h14m13 1h14m-2 2h14m-1 -4h14m-4 6h14m-5 -2h14m13 -1h14m-6 3h14m-610 10h14m22 0h14m0 1h14m-5 -2h14m0 0h14m-1 1h14m6 0h14m1 -3h14m-3 1h14m-2 0h14m0 1h14m-6 2h14m8 -4h14m4 1h14m-6 0h14m2 0h14m-6 3h14m1 1h14m-2 -4h14m-5 -2h14m-4 3h14m-2 1h14m4 -3h14m-4 -1h14m-4 4h14m10 2h14m-3 -4h14m3 0h14m-2 1h14m-7 -3h14m-3 1h14m-2 4h14m2 -2h14m0 3h14m-8 -6h14m-2 5h14m3 -3h14m-1 1h14m-3 3h14m-4 -5h14m-1 0h14m-1 2h14m-2 0h14m-7 -3h14m-1 1h14m-2 5h14m-611 6h14m-1 3h14m-6 -3h14m2 6h14m-2 -6h14m-6 2h14m0 1h14m1 -2h14m-8 4h14m-1 -3h14m-2 1h14m-2 0h14m0 -1h14m-3 1h14m-2 -3h14m-2 4h14m-4 2h14m-1 -3h14m1 2h14m-4 -3h14m-3 2h14m-3 -3h14m2 5h14m-4 -1h14m-2 -3h14m-3 0h14m1 4h14m-4 0h14m0 -6h14m-6 1h14m-1 0h14m0 3h14m8 -2h14m-2 0h14m2 0h14m-6 2h14m2 -4h14m-4 5h14m-2 -2h14m-2 3h14m1 -3h14m-8 -1h14m2 4h14m-4 -2h14m-2 -2h14m1 0h14m11 4h14m-6 -2h14m-4 0h14m14 -1h14m-627 11h14m1 -2h14m-6 0h14m-1 5h14m-2 1h14m0 -6h14m-4 5h14m-4 -3h14m15 -1h14m6 4h14m0 -3h14m6 3h14m4 0h14m-6 -1h14m-2 -1h14m-3 3h14m25 -1h14m-4 -2h14m-3 -2h14m2 3h14m-7 1h14m4 -5h14m-6 4h14m1 -3h14m7 4h14m-3 -5h14m-2 4h14m27 2h14m-4 -3h14m-3 0h14m-2 2h14m-1 -2h14m-2 -2h14m-2 1h14m-3 2h14m0 -4h14m-1 1h14m-5 2h14m-5 -2h14m1 1h14m-5 0h14m0 1h14m1 0h14m-4 2h14m-626 8h14m-3 1h14m-3 0h14m-1 2h14m2 -4h14m-8 4h14m2 0h14m-2 1h14m-5 0h14m1 1h14m8 -3h14m2 3h14m-6 -1h14m-4 -3h14m1 -2h14m-2 2h14m-5 -1h14m1 3h14m-5 0h14m-1 2h14m0 0h14m-2 -2h14m-3 -1h14m-3 -1h14m-3 1h14m-2 -3h14m1 1h14m-1 5h14m43 -5h14m10 -1h14m12 2h14m1 -1h14m-6 5h14m-2 -1h14m-2 -2h14m-1 3h14m9 -1h14m2 -1h14m-6 2h14m-1 -2h14m0 -3h14m-7 3h14m3 0h14m-4 1h14m-3 -1h14m-673 9h14m1 -1h14m-8 2h14m4 2h14m-4 2h14m-3 -5h14m-3 4h14m0 -3h14m-5 -2h14m-2 3h14m13 2h14m-4 1h14m12 -6h14m9 0h14m-3 1h14m-4 1h14m-2 3h14m3 1h14m-5 -1h14m1 -1h14m-3 1h14m-4 -5h14m-1 4h14m-2 1h14m-5 -3h14m1 -1h14m-5 4h14m-1 1h14m3 -2h14m-2 -4h14m-5 5h14m-1 -1h14m7 -2h14m-3 -2h14m22 3h14m-2 1h14m-2 -4h14m2 1h14m-2 5h14m12 -1h14m-7 1h14m-1 -1h14m0 -3h14m-2 3h14m-1 -2h14m10 2h14m-6 -4h14m0 1h14m-674 14h14m-2 -4h14m-3 2h14m-3 0h14m-2 4h14m-1 -2h14m-1 -4h14m0 5h14m-7 -2h14m-2 -2h14m-1 3h14m-2 -3h14m0 5h14m-3 -1h14m34 -3h14m2 1h14m-4 1h14m-6 -4h14m-1 0h14m3 6h14m-8 -2h14m2 -4h14m-3 3h14m-4 -1h14m1 1h14m-4 1h14m1 2h14m-4 -6h14m-2 6h14m-1 -4h14m9 4h14m13 -5h14m-5 4h14m10 0h14m0 -5h14m-3 5h14m-2 -5h14m-5 2h14m-3 3h14m3 -5h14m6 4h14m1 2h14m-3 -5h14m-3 3h14m13 -3h14m-7 4h14m11 -3h14m-672 16h14m-1 -3h14m8 -3h14m2 1h14m-8 4h14m14 -5h14m-2 4h14m12 0h14m-5 -4h14m-3 5h14m2 -2h14m-2 2h14m-5 -2h14m-3 0h14m-1 -1h14m-5 1h14m1 -1h14m-2 4h14m-2 -3h14m1 -1h14m-3 4h14m-2 0h14m7 -3h14m-1 1h14m-5 2h14m4 -4h14m-7 -2h14m3 5h14m10 1h14m-4 -6h14m-2 1h14m-3 2h14m-1 -3h14m0 4h14m-5 -1h14m-2 3h14m1 -3h14m-6 -1h14m8 1h14m-2 -2h14m4 3h14m-4 0h14m-1 -3h14m-4 4h14m-5 -4h14m2 4h14m-2 -5h14m6 1h14m-657 13h14m-1 2h14m-4 2h14m7 -1h14m9 -3h14m0 2h14m1 -2h14m-7 4h14m12 -3h14m-1 -2h14m-2 2h14m1 1h14m-4 -3h14m6 5h14m3 -5h14m-6 0h14m3 -1h14m-6 3h14m-4 -1h14m1 4h14m-2 -5h14m-3 -1h14m1 3h14m11 -2h14m-7 1h14m-1 4h14m-4 -1h14m0 -4h14m-4 5h14m4 0h14m-7 -2h14m0 -1h14m-4 3h14m3 -2h14m-4 2h14m-3 0h14m-3 -2h14m-3 1h14m-1 1h14m2 -5h14m-3 5h14m-1 -5h14m9 1h14m-2 4h14m23 -6h14m-8 4h14m4 0h14m-7 2h14m-669 7h14m-4 2h14m-5 3h14m1 -2h14m9 1h14m-1 0h14m7 1h14m-2 -2h14m-2 -3h14m3 2h14m-2 1h14m-8 0h14m2 2h14m-5 -4h14m-3 -2h14m-2 3h14m1 -3h14m-3 3h14m21 -1h14m10 -1h14m2 2h14m11 3h14m-3 -2h14m-2 2h14m-2 -2h14m-1 -2h14m-2 0h14m-7 0h14m1 4h14m0 -4h14m-2 3h14m-8 -1h14m2 -4h14m0 6h14m-5 -2h14m-2 0h14m-2 -1h14m-1 3h14m-3 -5h14m-1 4h14m-2 -5h14m20 2h14m-3 2h14m-1 -1h14m0 0h14m-3 3h14m7 0h14m-662 12h14m15 -5h14m-3 1h14m-4 3h14m-2 1h14m8 -5h14m1 -1h14m-1 2h14m-5 -1h14m-1 2h14m-3 -2h14m-3 4h14m1 -1h14m1 1h14m-7 1h14m-3 -5h14m0 3h14m-4 -2h14m2 1h14m21 0h14m13 -2h14m-4 4h14m-6 -3h14m4 0h14m-2 -2h14m-3 4h14m-7 0h14m0 -3h14m-3 4h14m-2 -4h14m-1 5h14m11 -1h14m-2 1h14m-3 0h14m12 -4h14m0 2h14m-7 1h14m3 -2h14m20 -2h14m-4 0h14m-4 -1h14m4 1h14m-4 0h14m-5 2h14m-3 -3h14m-661 15h14m0 -3h14m-5 2h14m2 -1h14m-5 -1h14m1 5h14m-1 0h14m-7 -5h14m3 5h14m-6 0h14m12 -5h14m-5 5h14m14 1h14m-4 -5h14m-3 4h14m1 -5h14m6 3h14m37 1h14m-1 -4h14m-4 2h14m1 4h14m-6 -4h14m-1 1h14m-3 -1h14m-2 2h14m2 -1h14m-1 3h14m-8 0h14m4 -1h14m-6 -2h14m-1 1h14m0 -3h14m-5 5h14m2 -3h14m-5 2h14m-1 1h14m0 -3h14m22 1h14m9 -3h14m-3 2h14m-2 -1h14m-5 3h14m1 -2h14m0 0h14m-8 2h14m-1 -3h14m-657 11h14m-4 3h14m8 1h14m1 -3h14m-1 3h14m-2 -5h14m-7 3h14m0 2h14m-4 0h14m2 0h14m-1 0h14m-4 -4h14m0 -1h14m-5 2h14m-4 1h14m2 -2h14m-6 2h14m-2 0h14m14 2h14m-1 -4h14m18 5h14m9 0h14m-1 -1h14m14 0h14m-3 -1h14m-2 -2h14m-5 2h14m1 0h14m-4 -1h14m10 2h14m1 -5h14m-4 2h14m-6 2h14m-1 -2h14m3 -1h14m-7 0h14m0 2h14m1 3h14m6 -4h14m2 0h14m-4 -1h14m-6 4h14m-1 -5h14m2 1h14m-2 3h14m-3 0h14m-2 2h14m-660 9h14m-5 -2h14m-1 4h14m23 -5h14m-3 0h14m-1 0h14m-1 0h14m22 3h14m-6 2h14m2 -3h14m-2 4h14m-5 0h14m-5 -6h14m3 1h14m-1 1h14m-5 0h14m1 -1h14m-7 3h14m23 -1h14m-1 2h14m0 1h14m-3 -4h14m-5 -1h14m1 -1h14m0 3h14m-3 3h14m-3 0h14m-1 -1h14m7 0h14m11 1h14m7 -4h14m4 3h14m-6 1h14m0 -4h14m-5 -1h14m22 1h14m-3 1h14m4 -3h14m-4 0h14m19 0h14m3 2h14m-653 16h14m-5 -6h14m-2 0h14m2 6h14m-3 -4h14m-4 4h14m3 -6h14m-5 1h14m-2 2h14m7 -3h14m1 2h14m-1 0h14m-5 3h14m-1 -1h14m-1 2h14m-1 -3h14m-3 0h14m-3 2h14m2 -5h14m-7 0h14m0 0h14m-5 6h14m22 -6h14m3 6h14m-4 0h14m-2 -2h14m-3 -2h14m0 -1h14m0 4h14m-7 0h14m3 1h14m-5 -2h14m0 -2h14m-5 3h14m0 -1h14m-5 -3h14m21 5h14m10 -6h14m3 2h14m-2 3h14m-4 -5h14m-5 1h14m3 3h14m-2 1h14m-1 1h14m-7 -2h14m12 0h14m-648 8h14m-7 1h14m16 1h14m-7 3h14m2 -1h14m-1 -4h14m-3 6h14m-1 -3h14m-4 -1h14m-1 1h14m-2 3h14m-5 -6h14m20 5h14m2 -5h14m-1 4h14m-2 -3h14m-5 -1h14m13 3h14m-7 -1h14m-1 4h14m0 -4h14m0 1h14m-3 3h14m-2 -2h14m-1 2h14m-5 -1h14m-2 -4h14m-2 4h14m-2 -3h14m-2 0h14m2 2h14m-6 -1h14m-1 1h14m-5 0h14m26 -4h14m11 0h14m8 0h14m-1 0h14m-5 1h14m-1 3h14m1 -4h14m-1 5h14m-5 -3h14m0 4h14m-3 0h14m-5 -6h14m-633 16h14m-2 2h14m-3 0h14m-7 -6h14m14 5h14m-6 -5h14m1 6h14m-5 0h14m4 0h14m-8 -3h14m-1 -2h14m2 -1h14m-1 1h14m7 4h14m1 -2h14m-6 3h14m-2 -5h14m21 1h14m0 4h14m-3 -2h14m-4 0h14m-2 2h14m1 -6h14m-3 2h14m11 3h14m0 1h14m-7 -1h14m-2 -1h14m12 2h14m0 0h14m0 -1h14m-5 1h14m12 -2h14m9 2h14m-5 -2h14m0 -4h14m1 2h14m-4 -2h14m-4 2h14m0 -1h14m0 3h14m-7 1h14m1 0h14m-3 -5h14m-636 12h14m-3 6h14m-2 -6h14m-1 4h14m-2 1h14m-6 -5h14m1 6h14m-3 -4h14m-2 4h14m-5 -2h14m2 1h14m-5 1h14m1 -5h14m-5 0h14m3 4h14m-2 -5h14m9 3h14m-4 -1h14m-1 0h14m0 4h14m-6 -2h14m-2 0h14m11 -1h14m-2 -3h14m-2 6h14m-3 -4h14m1 4h14m-7 -2h14m1 0h14m-4 -1h14m1 -1h14m-3 -1h14m-2 3h14m9 -2h14m-2 -2h14m2 1h14m-8 5h14m0 -3h14m0 3h14m9 0h14m-3 -2h14m0 0h14m-2 2h14m-2 -4h14m0 -1h14m-8 -1h14m3 4h14m-3 0h14m-3 -3h14m-614 16h14m13 -3h14m30 2h14m-2 1h14m-2 -5h14m2 0h14m-8 3h14m-1 -3h14m-2 0h14m1 5h14m10 -5h14m-4 1h14m13 3h14m-3 -2h14m-2 3h14m-3 -1h14m-4 0h14m0 -2h14m0 -1h14m-7 -1h14m40 5h14m-4 1h14m-6 0h14m27 -6h14m-5 0h14m1 4h14m-4 -2h14m19 4h14m3 0h14m-6 -5h14m-2 5h14m-2 -2h14m3 -1h14m-4 3h14m-2 -1h14m-1 -3h14m-603 14h14m-1 -2h14m-5 0h14m-4 2h14m3 1h14m10 -4h14m-6 0h14m36 0h14m-1 4h14m-2 -3h14m-4 4h14m-1 -5h14m-2 4h14m-1 0h14m-4 -1h14m2 0h14m-4 -3h14m-2 1h14m-5 0h14m-3 4h14m2 0h14m-4 -3h14m-3 -2h14m-3 1h14m0 4h14m-2 -6h14m11 1h14m-2 0h14m1 0h14m-4 0h14m0 5h14m-4 -2h14m-2 1h14m36 -1h14m-5 -1h14m-4 1h14m0 2h14m13 -5h14m-3 1h14m8 4h14m-577 11h14m-4 -4h14m14 2h14m-5 -3h14m-1 0h14m-4 0h14m0 2h14m0 0h14m-2 2h14m-7 0h14m-3 -1h14m3 -2h14m-3 5h14m-4 -2h14m-3 -1h14m0 -2h14m-3 4h14m11 -4h14m-5 3h14m-2 -3h14m14 0h14m-6 0h14m3 5h14m-3 -4h14m-3 1h14m-4 3h14m-3 0h14m1 -1h14m-1 -2h14m-2 3h14m-6 -1h14m-1 -3h14m0 4h14m9 -1h14m12 1h14m-5 -1h14m-2 0h14m1 0h14m-5 -5h14m0 4h14m7 -4h14m-2 4h14m-578 10h14m2 3h14m-5 -3h14m2 3h14m-1 -4h14m-2 5h14m8 -2h14m20 1h14m0 -2h14m-6 2h14m1 -4h14m24 1h14m-7 1h14m4 0h14m-3 -2h14m-4 3h14m-1 0h14m-6 0h14m-1 -2h14m9 -2h14m2 2h14m-6 1h14m0 1h14m2 -1h14m-4 -3h14m-1 3h14m-4 3h14m-5 -6h14m-2 5h14m4 0h14m6 -3h14m-4 1h14m1 3h14m-2 0h14m-5 0h14m1 -1h14m-1 -5h14m-2 5h14m-543 8h14m1 -1h14m-8 4h14m-1 1h14m-1 0h14m-2 0h14m-1 1h14m-5 -4h14m10 1h14m15 -1h14m23 1h14m-2 -1h14m-5 -2h14m-4 1h14m1 4h14m-3 -4h14m1 -1h14m-2 3h14m-2 3h14m-2 -1h14m5 -2h14m1 -2h14m-6 4h14m-1 0h14m3 0h14m-8 -5h14m4 0h14m-6 4h14m-1 0h14m-3 -4h14m2 4h14m-8 -3h14m4 1h14m7 3h14m1 -3h14m-8 0h14m16 4h14m-6 -5h14m0 1h14m-6 -2h14m-540 17h14m2 -1h14m-4 -2h14m-1 4h14m-6 -4h14m2 0h14m-3 2h14m12 2h14m-3 -6h14m-3 0h14m11 0h14m-4 1h14m-2 5h14m-5 -1h14m3 -2h14m-5 0h14m-2 2h14m-4 -4h14m13 1h14m-2 1h14m10 -3h14m-4 1h14m11 1h14m-2 2h14m-1 -4h14m-2 2h14m20 -2h14m-2 0h14m-3 3h14m2 3h14m-2 -5h14m-1 3h14m-7 -1h14m0 3h14m1 -2h14m-4 0h14m24 -4h14m-507 12h14m11 0h14m7 1h14m-3 5h14m-1 0h14m50 -5h14m-8 3h14m3 -4h14m8 2h14m0 0h14m-1 -2h14m-4 0h14m8 6h14m-2 -6h14m9 3h14m-3 -3h14m11 6h14m15 -2h14m7 0h14m-3 -3h14m-4 0h14m-1 -1h14m22 6h14m3 -4h14m-8 4h14m-441 8h14m19 -2h14m-4 4h14m4 1h14m10 0h14m-3 -5h14m-7 1h14m4 1h14m-2 2h14m-5 -1h14m1 -2h14m-3 -1h14m-2 4h14m-4 0h14m-3 1h14m-1 1h14m10 -6h14m-2 4h14m-4 2h14m11 -5h14m-2 1h14m-2 -1h14m0 4h14m-1 -1h14m-1 -4h14m-3 2h14m-2 2h14m-2 1h14m8 -4h14m-4 5h14m-358 7h14m5 4h14m3 -3h14m9 4h14m-1 -3h14m-6 -1h14m0 -2h14m-3 3h14m1 1h14m17 2h14m-1 -6h14m1 0h14m12 4h14m-7 1h14m-1 -3h14m-2 3h14m0 -2h14m-5 -1h14m2 3h14m-2 1h14m-3 -4h14m-5 3h14m-3 0h14m-394 7h14m105 1h14m0 3h14m-1 -1h14m-6 0h14m2 3h14m-5 -4h14m-1 1h14m-2 -1h14m-3 2h14m11 -4h14m0 5h14m-2 -1h14m-3 0h14m5 -1h14m2 -2h14m-5 0h14m1 2h14m0 1h14m-210 13h14m2 -2h14m-5 -3h14m-1 0h14m8 1h14m2 5h14m-7 -5h14m-1 -1h14m-1 0h14m21 6h14m-1 -3h14m-123 10h14m8 -1h14m-217 25h14" stroke="#e0e0e0" stroke-width="14" fill="none"/>
<path transform="scale(0.1)" d="M1408 766h14m-1 3h14m-7 1h14m0 -5h14m-143 12h14m-2 5h14m-8 -3h14m40 3h14m-5 -5h14m-5 0h14m16 5h14m-149 8h14m22 0h14m35 0h14m-3 2h14m10 1h14m0 -1h14m-139 12h14m15 2h14m44 -3h14m-4 4h14m-1 -1h14m-111 7h14m9 1h14m1 5h14m-3 -5h14m21 3h14m-96 8h14m9 4h14m38 0h14m10 -1h14m-6 2h14m0 -4h14m-160 15h14m9 -2h14m10 1h14m-3 -1h14m-1 2h14m12 -3h14m24 4h14m-103 7h14m-1 2h14m38 3h14m-4 -5h14m-5 1h14m0 4h14m-147 7h14m3 2h14m-5 -1h14m-5 4h14m3 -3h14m-6 2h14m3 1h14m-3 -2h14m-1 0h14m8 -1h14m-136 16h14m9 -5h14m0 3h14m-4 -3h14m-1 5h14m-1 -3h14m-4 0h14m13 1h14m-3 1h14m-147 11h14m-4 2h14m-2 0h14m0 -2h14m-3 -4h14m2 5h14m-6 -3h14m-2 1h14m-1 1h14m-2 2h14m2 -2h14m-104 10h14m11 -2h14m-87 29h14" stroke="#e0e0e0" stroke-width="14" fill="none"/>
<path transform="scale(0.1)" d="M1473 722h14m-13 28h14m10 -3h14m-6 -2h14m10 4h14m-3 0h14m24 1h14m2 0h14m4 -4h14m24 4h14m-214 9h14m-3 4h14m9 -3h14m-3 2h14m44 -1h14m3 -4h14m5 6h14m-2 -2h14m3 2h14m21 -5h14m-217 14h14m9 3h14m-1 -2h14m-8 -2h14m3 2h14m-2 -3h14m-3 1h14m36 1h14m42 0h14m1 1h14m-195 10h14m9 2h14m-5 1h14m11 -4h14m0 -1h14m8 3h14m14 -2h14m-7 5h14m4 0h14m8 -4h14m-4 -2h14m0 1h14m-228 14h14m-4 2h14m7 -3h14m0 0h14m23 0h14m-3 0h14m-1 0h14m-4 1h14m34 1h14m2 -2h14m-7 3h14m0 -2h14m-4 3h14m-217 9h14m61 0h14m-6 3h14m11 -2h14m34 -1h14m-4 0h14m-193 11h14m-2 2h14m21 2h14m24 -1h14m0 -1h14m-5 -4h14m-3 2h14m1 2h14m-2 -1h14m25 0h14m-8 2h14m3 -3h14m-5 4h14m-266 8h14m32 4h14m2 -3h14m-2 -1h14m-2 1h14m-3 -2h14m-5 0h14m22 4h14m2 -2h14m-6 1h14m40 1h14m7 -1h14m-220 12h14m2 -3h14m-2 -1h14m-5 1h14m-1 3h14m1 -1h14m41 -1h14m10 -2h14m9 1h14m23 2h14m-230 15h14m0 -3h14m1 2h14m-4 0h14m7 -1h14m-3 1h14m14 -3h14m8 1h14m36 1h14m-2 -4h14m11 6h14m-3 -4h14m-5 1h14m-230 15h14m12 -5h14m0 2h14m-4 0h14m8 3h14m-3 -1h14m38 -5h14m-5 3h14m-2 0h14m21 -1h14m13 0h14m-86 12h14m47 -1h14" stroke="#e0e0e0" stroke-width="14" fill="none"/>
<path transform="scale(0.1)" d="M1646 535h14m-27 30h14m-51 7h14m-2 5h14m-36 12h14m-3 -2h14m1 -1h14m-2 -2h14m-2 4h14m-2 -5h14m-3 0h14m-3 2h14m-3 -1h14m-4 4h14m1 -1h14m-158 14h14m-2 -6h14m-4 2h14m3 4h14m20 -5h14m-2 1h14m-6 4h14m-2 0h14m-2 -5h14m-2 -1h14m-131 15h14m-5 -3h14m4 3h14m-7 3h14m33 -2h14m0 -1h14m14 -2h14m-7 3h14m-201 13h14m22 1h14m-6 -6h14m-3 5h14m3 -4h14m-7 -1h14m1 4h14m-1 -1h14m-5 0h14m25 2h14m-3 -5h14m-3 0h14m-2 4h14m-3 1h14m-181 11h14m-1 -2h14m22 3h14m-1 -3h14m-2 2h14m-1 -4h14m-2 5h14m-8 -5h14m2 1h14m-4 2h14m2 3h14m-3 -3h14m-186 10h14m3 2h14m-6 3h14m-1 -4h14m10 -2h14m-5 6h14m10 -4h14m-2 4h14m4 0h14m-7 0h14m1 -1h14m-1 -5h14m-6 6h14m-1 -5h14m-196 12h14m0 4h14m-2 -5h14m-1 4h14m0 1h14m-4 -5h14m1 5h14m-5 -3h14m-2 0h14m-3 0h14m0 4h14m-4 0h14m12 -5h14m-170 17h14m-5 -4h14m-1 4h14m23 0h14m-1 -4h14m-2 3h14m-1 -5h14m-3 5h14m0 -2h14m-7 -3h14m-1 3h14m0 -1h14m-4 4h14m-156 12h14m8 -2h14m2 1h14m-4 -2h14m-3 -1h14m1 0h14m-2 -1h14m-5 3h14m1 -3h14m-7 2h14m-2 -2h14m-1 -1h14m-148 15h14m3 -3h14m11 0h14m-6 1h14m0 4h14m-2 -5h14m-2 0h14m-3 0h14m1 2h14m-7 -1h14m-147 16h14m14 -2h14m11 0h14m22 0h14m-7 -3h14m-93 13h14m7 -1h14m9 15h14" stroke="#c59c92" stroke-width="14" fill="none"/>
<path transform="scale(0.1)" d="M1132 291h14m12 1h14m47 13h14m10 0h14m-43 9h14m2 0h14m-6 -1h14m-82 14h14m32 2h14m-64 9h14m2 0h14m-4 3h14m9 -3h14m1 -3h14m8 6h14m-112 11h14m14 0h14m18 -2h14m1 3h14m1 -1h14m9 -2h14m-3 2h14m-145 10h14m6 -2h14m1 -1h14m0 4h14m-2 -3h14m-2 1h14m-3 3h14m-2 -4h14m-1 -1h14m7 6h14m-145 11h14m11 -1h14m-4 0h14m-5 2h14m27 -3h14m-3 -3h14m-1 4h14m23 -4h14m-6 3h14m-179 9h14m30 2h14m0 1h14m-5 -1h14m3 4h14m-6 -2h14m9 0h14m0 -4h14m32 0h14m-177 18h14m-2 -3h14m22 3h14m6 -1h14m-3 -5h14m2 4h14m10 -1h14m9 0h14m-171 15h14m49 -5h14m8 0h14m-5 1h14m15 2h14m-2 -1h14m-6 3h14m-165 6h14m33 3h14m-1 1h14m-4 0h14m-4 -4h14m-4 5h14m11 -5h14m-2 3h14m0 0h14m-156 13h14m23 -1h14m-5 0h14m22 1h14m-3 1h14m1 -4h14m-2 4h14m-1 -5h14m-7 4h14m13 0h14m-120 10h14m9 -2h14m-1 0h14m-4 2h14m31 3h14m-1 1h14m-158 12h14m0 -5h14m8 -1h14m-1 4h14m-1 2h14m-4 -2h14m-2 0h14m8 -1h14m-2 -3h14m0 4h14m-4 -2h14m-193 14h14m11 0h14m8 -3h14m1 5h14m1 -4h14m-5 3h14m-3 0h14m-1 0h14m12 -1h14m-2 -2h14m-1 2h14m-5 -2h14m-183 11h14m0 4h14m8 -2h14m11 -3h14m-5 0h14m2 3h14m-4 -3h14m2 6h14m4 -6h14m11 4h14m-2 -4h14m-1 1h14m-195 17h14m-1 -3h14m11 -1h14m20 -2h14m15 0h14m-2 5h14m7 -2h14m7 3h14m1 -5h14m-146 13h14m23 0h14m45 -1h14m0 4h14m-3 -1h14m-160 13h14m2 -3h14m5 3h14m15 -1h14m-8 2h14m-1 -6h14m22 0h14m-98 13h14m3 2h14m17 1h14m0 0h14m13 0h14m17 2h14m-108 12h14m-2 -4h14m-3 4h14m-4 0h14m4 -1h14m-56 7h14m10 3h14m-44 11h14" stroke="#9c4ef2" stroke-width="14" fill="none"/>
<path transform="scale(0.1)" d="M1413 505h15m-234 13h15m-12 11h15m3 2h15m123 -2h15m-6 2h15m-6 1h15m0 0h15m44 -5h15m-353 14h15m14 0h15m-4 4h15m7 0h15m7 -4h15m99 2h15m3 2h15m3 -1h15m-5 -4h15m-7 1h15m0 1h15m-4 1h15m-4 -2h15m0 4h15m-325 8h15m-7 3h15m0 1h15m-8 -5h15m2 3h15m-2 -2h15m-6 -2h15m-6 1h15m-1 0h15m-1 1h15m-7 2h15m1 -4h15m-3 5h15m-6 -5h15m-4 3h15m14 3h15m-6 -1h15m-4 1h15m2 -3h15m-3 3h15m-4 -5h15m-8 3h15m2 -4h15m-3 1h15m-4 1h15m-1 -2h15m7 1h15m-4 1h15m-349 12h15m-7 -2h15m-2 2h15m-5 3h15m1 -3h15m-2 -1h15m-2 2h15m7 -3h15m-2 3h15m-2 -1h15m-6 3h15m12 1h15m-8 -6h15m-4 6h15m-2 0h15m-1 -3h15m-2 1h15m-3 -4h15m7 6h15m-5 -4h15m-3 1h15m-1 1h15m-2 1h15m0 -1h15m-5 2h15m-5 -6h15m-361 16h15m-2 -4h15m-2 0h15m-3 2h15m3 2h15m0 -4h15m-5 5h15m26 0h15m-5 -2h15m-3 3h15m7 -2h15m-1 -2h15m-7 2h15m3 -1h15m-6 0h15m-2 0h15m-2 3h15m9 -3h15m-4 -3h15m-5 2h15m-4 4h15m1 -6h15m-7 6h15m-4 -2h15m-3 -3h15m-359 15h15m-2 0h15m-3 2h15m-6 -6h15m0 3h15m-6 1h15m0 0h15m-3 -3h15m-8 4h15m27 -4h15m-6 5h15m-1 -3h15m-3 0h15m-2 2h15m-8 -4h15m-2 5h15m-1 -1h15m-5 1h15m-4 0h15m1 -6h15m8 6h15m8 -1h15m-4 -4h15m1 0h15m-8 -1h15m0 4h15m-351 9h15m-7 5h15m-3 -1h15m-1 -3h15m8 4h15m0 -4h15m5 2h15m-2 -2h15m-4 -2h15m-1 3h15m-2 0h15m-4 2h15m-3 -5h15m-4 4h15m-4 2h15m-3 0h15m-1 -5h15m-1 3h15m-5 -4h15m-5 0h15m10 4h15m0 2h15m-7 -1h15m0 0h15m-3 -2h15m-4 2h15m-2 1h15m-402 9h15m14 0h15m-8 2h15m1 -2h15m-7 1h15m2 1h15m-2 -5h15m-4 3h15m-3 3h15m-4 0h15m-2 -6h15m-7 2h15m-2 2h15m11 0h15m-7 -1h15m1 0h15m-6 -1h15m-1 -2h15m-3 5h15m-4 -3h15m1 1h15m-4 -1h15m6 3h15m-3 0h15m-4 -3h15m2 -1h15m-8 0h15m-2 4h15m1 0h15m-352 9h15m-5 -1h15m-6 4h15m0 -4h15m-4 4h15m10 -5h15m0 3h15m9 2h15m-5 -1h15m-2 -2h15m-2 -2h15m-8 4h15m2 1h15m8 -1h15m-6 2h15m1 -1h15m-8 -3h15m-4 0h15m3 4h15m-3 0h15m-5 -5h15m-6 5h15m2 0h15m-8 -3h15m-4 2h15m0 1h15m-341 7h15m-1 3h15m-5 0h15m36 -1h15m8 -1h15m-5 -2h15m-2 5h15m13 -3h15m-6 3h15m-3 -4h15m-1 2h15m7 -2h15m-5 5h15m-4 -5h15m-2 -1h15m-3 2h15m-2 1h15m1 0h15m-9 1h15m-2 0h15m0 -3h15m-1 4h15m-7 -5h15m-348 15h15m-8 -1h15m1 -1h15m-4 4h15m11 -4h15m-8 3h15m1 -2h15m-5 3h15m-1 -5h15m-7 5h15m3 -4h15m-8 4h15m-4 -3h15m10 1h15m11 -3h15m-2 4h15m-4 -1h15m-6 3h15m2 -2h15m-4 0h15m-2 -4h15m-6 0h15m0 5h15m-5 -1h15m-6 2h15m-324 6h15m0 5h15m6 -2h15m0 -2h15m-4 0h15m-6 5h15m-5 -4h15m0 2h15m-4 0h15m1 -3h15m-4 4h15m-6 -4h15m-4 5h15m14 -6h15m-3 0h15m-9 0h15m0 3h15m-1 -2h15m-4 2h15m-4 3h15m0 -4h15m-5 3h15m6 -1h15m2 0h15m-393 10h15m81 2h15m-2 -4h15m-2 2h15m-1 0h15m-7 1h15m-3 3h15m1 -6h15m-4 3h15m-6 -2h15m-3 2h15m3 -2h15m-8 3h15m0 1h15m-1 -2h15m-8 -2h15m1 2h15m-6 -1h15m-5 3h15m9 0h15m-2 -4h15m0 1h15m-4 -1h15m-3 0h15m-229 14h15m-8 2h15m1 0h15m-6 -5h15m-3 3h15m2 2h15m9 -2h15m-8 -3h15m-3 4h15m14 -3h15m-7 2h15m1 1h15m5 -3h15m-112 13h15m10 4h15m12 -2h15m-4 2h15m-1 -1h15m7 -4h15m-232 17h15m45 8h15m106 11h15" stroke="#9c4ef2" stroke-width="15" fill="none"/>
<path transform="scale(0.1)" d="M1315 419h14m-3 -3h14m-38 16h14m0 -1h14m-6 -5h14m-33 14h14m-7 1h14m-37 13h14m14 -1h14m-40 21h14m-1 0h14m0 13h14m-2 5h14m-54 8h14m1 1h14m8 1h14m-5 1h14m-20 8h14m-52 14h14m8 33h14" stroke="#9c4ef2" stroke-width="14" fill="none"/>
<path transform="scale(0.1)" d="M1576 127h14m-97 62h14m-3 1h14m-2 -2h14m20 -1h14m3 -1h14m8 5h14m-133 12h14m-1 -5h14m-5 5h14m-4 -5h14m2 2h14m21 3h14m-1 -4h14m-7 1h14m1 3h14m-119 6h14m34 3h14m18 -2h14m1 0h14m6 -1h14m-2 6h14m-226 12h14m45 0h14m36 -6h14m68 3h14m-1 2h14m10 -4h14m-207 17h14m20 -1h14m37 -5h14m-6 6h14m11 -2h14m-4 -3h14m24 -1h14m8 5h14m4 -3h14m-222 11h14m33 2h14m21 3h14m13 -6h14m20 0h14m37 1h14m-3 2h14m13 3h14m-316 10h14m69 0h14m35 0h14m20 -3h14m12 3h14m-1 -1h14m31 -1h14m35 -2h14m-300 12h14m-7 3h14m15 0h14m29 3h14m10 -3h14m1 -2h14m-5 4h14m-1 0h14m51 -1h14m18 -1h14m0 0h14m-4 1h14m11 0h14m-304 8h14m9 0h14m11 3h14m37 -1h14m-1 -1h14m-4 5h14m1 -2h14m-8 1h14m2 -2h14m22 3h14m57 -3h14m-2 0h14m10 -3h14m-287 18h14m-2 -1h14m8 1h14m34 -2h14m19 -1h14m33 0h14m86 -2h14m-349 14h14m20 -2h14m19 3h14m75 -4h14m-3 1h14m32 1h14m23 3h14m13 -5h14m-257 17h14m-5 1h14m1 -4h14m32 0h14m26 4h14m11 -6h14m-8 1h14m15 1h14m-3 -2h14m-1 5h14m29 -1h14m10 -1h14m13 0h14m-267 11h14m50 3h14m4 -2h14m23 0h14m0 -3h14m37 4h14m22 -3h14m4 5h14m10 -5h14m-272 13h14m41 -2h14m12 5h14m8 1h14m15 -4h14m-3 4h14m8 -3h14m-1 1h14m23 -1h14m8 -3h14m-5 0h14m1 2h14m1 1h14m5 -1h14m-309 11h14m9 2h14m23 1h14m-3 -4h14m8 6h14m23 -1h14m9 -5h14m13 6h14m-4 -5h14m-3 -1h14m32 6h14m14 -1h14m-4 -4h14m-303 16h14m-3 0h14m11 -3h14m34 -1h14m0 0h14m12 -1h14m21 0h14m33 0h14m18 5h14m1 1h14m-5 -4h14m50 0h14m-324 10h14m4 4h14m1 1h14m13 -1h14m-8 -2h14m3 4h14m35 -4h14m5 3h14m11 -1h14m2 -3h14m9 0h14m-7 0h14m3 1h14m31 1h14m-315 15h14m-2 -4h14m21 3h14m1 1h14m-5 -2h14m1 -4h14m0 5h14m43 -3h14m23 0h14m24 0h14m-1 -2h14m-8 1h14m1 -1h14m0 2h14m33 4h14m6 0h14m-344 8h14m21 1h14m-2 -1h14m8 0h14m20 0h14m38 0h14m-6 -2h14m15 0h14m7 1h14m34 3h14m21 -3h14m23 3h14m-372 12h14m78 1h14m14 -4h14m11 0h14m10 3h14m92 -2h14m56 2h14m12 -4h14m-316 17h14m26 -5h14m-3 2h14m31 -1h14m10 4h14m8 1h14m25 -3h14m31 0h14m15 3h14m18 -6h14m-254 17h14m-1 -5h14m-4 4h14m40 -4h14m10 1h14m-8 4h14m0 -2h14m-3 -3h14m13 2h14m12 -2h14m22 4h14m22 2h14m-245 8h14m48 1h14m-5 -1h14m9 4h14m13 0h14m21 0h14m31 -3h14m24 -2h14m-314 13h14m12 4h14m44 -5h14m11 4h14m10 -1h14m25 0h14m5 -2h14m9 1h14m3 -2h14m-7 5h14m2 -2h14m-4 -2h14m2 1h14m-234 11h14m21 1h14m-1 -2h14m14 3h14m81 1h14m7 -1h14m2 0h14m-224 13h14m1 -4h14m12 -1h14m-5 5h14m0 -4h14m0 3h14m6 -3h14m10 2h14m35 2h14m-4 0h14m3 -1h14m-8 2h14m10 -1h14m-237 7h14m23 1h14m-8 0h14m4 4h14m-2 -5h14m-4 4h14m42 -2h14m4 3h14m-7 -3h14m26 -2h14m-183 16h14m-3 2h14m-2 -6h14m19 2h14m22 2h14m-92 13h14m-8 -3h14m12 3h14m59 -4h14m36 4h14m22 -5h14m-199 13h14m-1 4h14m22 -2h14m-2 2h14m22 -3h14m13 4h14m9 -3h14m24 -2h14m-199 14h14m1 0h14m-3 2h14m-2 -5h14m26 5h14m31 -5h14m-5 0h14m24 0h14m-166 16h14m33 0h14m6 1h14m12 1h14m31 0h14m-141 7h14m19 3h14m38 -4h14m-65 14h14m8 0h14m24 4h14m-97 12h14m43 -2h14" stroke="#0808f8" stroke-width="14" fill="none"/>
<path transform="scale(0.1)" d="M1534 335h15m32 1h15m32 -2h15m-2 0h15m-158 17h15m-5 -5h15m11 1h15m31 3h15m-4 0h15m1 -1h15m-3 -1h15m-5 0h15m-2 2h15m-5 -2h15m0 -2h15m-184 15h15m-7 -2h15m1 -2h15m9 3h15m-1 -1h15m-9 0h15m-1 3h15m-2 -1h15m-3 1h15m-2 -1h15m-1 -2h15m-3 2h15m-5 2h15m-3 -5h15m-5 -1h15m-195 14h15m-1 3h15m-7 -1h15m3 0h15m-9 2h15m-2 -3h15m13 -1h15m-8 1h15m-2 1h15m1 -3h15m-8 4h15m3 -2h15m4 -3h15m-4 1h15m-3 4h15m-2 0h15m-216 11h15m-7 -2h15m0 3h15m-3 -3h15m-6 -2h15m1 4h15m-5 0h15m24 -4h15m-8 5h15m2 -3h15m-6 2h15m0 0h15m-8 1h15m-1 1h15m1 -4h15m-4 3h15m-222 13h15m-1 0h15m-5 -3h15m-1 3h15m-5 -1h15m1 -3h15m-7 2h15m-2 -2h15m6 1h15m3 -1h15m-6 0h15m-5 -2h15m-1 3h15m-5 1h15m-4 1h15m3 -2h15m-8 2h15m-3 -3h15m21 -1h15m-302 14h15m37 1h15m8 -1h15m-2 -2h15m-7 3h15m-4 -4h15m-2 6h15m0 -3h15m-7 -3h15m-3 3h15m-1 3h15m-5 -5h15m-2 5h15m0 -3h15m-2 -3h15m-6 1h15m-3 5h15m-4 -6h15m-227 15h15m-6 -3h15m-6 6h15m2 -3h15m-6 3h15m-4 -4h15m2 -1h15m-4 3h15m-2 -3h15m-4 0h15m-5 3h15m-6 -2h15m1 2h15m-1 -2h15m-8 -2h15m1 4h15m-5 0h15m-4 2h15m-2 -2h15m-5 1h15m-229 9h15m-2 1h15m-4 -1h15m-3 2h15m-6 2h15m13 -5h15m-7 -1h15m-2 1h15m-1 5h15m0 -4h15m-5 3h15m-2 0h15m-8 -1h15m2 -1h15m-5 1h15m12 -1h15m-8 -2h15m-243 17h15m2 -3h15m-7 -1h15m1 -1h15m-3 4h15m-3 1h15m-9 0h15m-2 -3h15m1 -2h15m-7 0h15m-2 2h15m1 3h15m-5 0h15m-2 -2h15m-3 -4h15m-5 2h15m-1 0h15m-6 2h15m-2 -1h15m-4 3h15m-5 -3h15m1 2h15m-266 8h15m-5 -1h15m0 4h15m-8 -3h15m-4 3h15m-1 -1h15m-4 0h15m-2 -1h15m0 3h15m-2 -1h15m-9 0h15m2 -2h15m-7 2h15m-4 -4h15m-2 0h15m-2 2h15m-3 -2h15m-4 4h15m1 0h15m-5 -1h15m0 -3h15m-3 6h15m-244 12h15m8 -5h15m-7 2h15m-3 -3h15m-3 5h15m1 -4h15m7 4h15m0 -1h15m-7 -4h15m2 0h15m-7 2h15m-5 3h15m3 -4h15m-6 2h15m-5 -2h15m-2 0h15m-2 5h15m-4 -5h15m-1 3h15m-255 11h15m-4 -1h15m-5 1h15m13 3h15m-3 -5h15m-2 2h15m-3 3h15m-4 -1h15m-7 -5h15m0 4h15m-5 -1h15m-3 -3h15m1 2h15m-4 2h15m-2 -2h15m-5 -1h15m-6 5h15m2 -4h15m-9 1h15m3 -1h15m-258 14h15m-1 2h15m-7 -1h15m-3 -3h15m2 3h15m-3 -3h15m7 3h15m-5 1h15m1 -4h15m-5 4h15m-6 -5h15m-2 4h15m-3 -5h15m-2 4h15m-6 0h15m2 -1h15m-2 0h15m9 2h15m-7 -4h15m-289 13h15m30 4h15m-2 -4h15m0 1h15m9 3h15m-7 -5h15m-2 -1h15m-2 6h15m-5 0h15m11 -2h15m-5 -3h15m2 4h15m-7 1h15m-2 -2h15m10 -3h15m-5 -1h15m-4 0h15m-4 5h15m-225 13h15m-6 0h15m-6 -2h15m14 -1h15m-3 0h15m-2 -3h15m-4 3h15m-5 -1h15m-4 -2h15m0 1h15m-8 5h15m0 -4h15m-3 2h15m-5 1h15m2 1h15m-7 -3h15m1 2h15m-5 1h15m22 0h15m-269 8h15m-5 0h15m-3 -1h15m8 1h15m1 -1h15m-5 5h15m-1 -2h15m-6 -1h15m-1 3h15m-3 -2h15m-1 -2h15m-2 1h15m-8 0h15m-1 1h15m-1 -2h15m-7 1h15m0 -2h15m-4 3h15m-219 8h15m-6 5h15m3 0h15m-4 -5h15m-3 4h15m16 -3h15m22 2h15m-4 3h15m-3 -3h15m3 -1h15m-5 1h15m-4 -3h15m-2 4h15m-7 1h15m-191 7h15m-7 6h15m1 -1h15m29 -4h15m2 -1h15m-7 1h15m0 5h15m-1 0h15m-5 -3h15m-6 0h15m-2 1h15m1 -2h15m-7 1h15m1 1h15m-186 14h15m7 -1h15m11 -3h15m-2 4h15m-1 -3h15m-8 2h15m-4 0h15m2 -2h15m-4 2h15m-3 -1h15m-3 0h15m-150 9h15m-3 0h15m0 5h15m-5 -1h15m-3 -1h15m1 2h15m-9 -3h15m0 -1h15m0 -1h15m-5 3h15m-4 -4h15m-85 15h15m-6 -3h15m-1 0h15m-1 2h15m-3 -1h15" stroke="#0808f8" stroke-width="15" fill="none"/>
<path transform="scale(0.1)" d="M1538 375h13m-73 14h13m-61 14h13m-2 -3h13m-2 -1h13m11 -1h13m2 1h13m-62 16h13m48 -1h13m-2 -4h13m8 4h13m-105 22h13m19 -2h13m35 4h13m-96 8h13m11 4h13m1 -2h13m-5 -3h13m23 6h13m-80 8h13m11 0h13m-54 14h13m10 -2h13m47 -1h13m-80 14h13m46 -2h13m-64 17h13m47 0h13m24 -5h13m-117 11h13m-3 3h13m55 -3h13m-46 16h13" stroke="#c59c92" stroke-width="13" fill="none"/>
<path transform="scale(0.1)" d="M1470 714h14m6 1h14m-27 11h14m2 1h14m-3 -2h14m-5 0h14m-3 -3h14m-61 16h14m2 2h14m-7 -2h14m-32 14h14m-7 -1h14" stroke="#2d6914" stroke-width="14" fill="none"/>
<path transform="scale(0.1)" d="M1348 788h14m1 -1h14m6 4h14m-1 0h14m-85 9h14m18 1h14m10 0h14m3 2h14m-87 10h14m-4 -3h14m1 2h14m-3 -2h14m-1 0h14m-2 2h14m-7 0h14m-83 14h14m13 -5h14m-7 6h14m-2 -4h14m0 0h14m-2 3h14m-3 0h14m-95 12h14m-1 -4h14m-7 -1h14m1 3h14m-5 3h14m2 -5h14m-3 0h14m-3 2h14m-84 13h14m-1 0h14m-5 -2h14m0 -1h14m-4 0h14m-1 4h14m-5 -2h14m-59 13h14m-6 2h14m-1 -6h14m-3 2h14m-80 11h14m46 2h14" stroke="#f7922a" stroke-width="14" fill="none"/>
<path transform="scale(0.1)" d="M1624 725h14m-22 33h14m-54 13h14m1 -2h14m-2 4h14m-1 -1h14m-1 -2h14m-7 3h14m-95 10h14m-5 2h14m4 -3h14m-3 1h14m-5 -2h14m-1 3h14m-4 -2h14m1 2h14m-108 13h14m5 -3h14m3 1h14m-6 -2h14m-4 -1h14m1 -1h14m0 2h14m-4 0h14m-109 15h14m-3 -4h14m-2 3h14m-4 2h14m1 -5h14m-6 4h14m1 -3h14m-1 4h14m-5 -1h14m-107 11h14m-5 1h14m1 -1h14m-1 -2h14m-6 2h14m2 -1h14m-4 -3h14m0 5h14m-5 1h14m-98 7h14m-3 -1h14m2 0h14m-1 4h14m-5 -2h14m-5 2h14m3 0h14m-90 13h14m1 -1h14m-1 0h14m-4 -1h14m-3 -3h14m-3 4h14m-3 1h14m-74 10h14m-2 -2h14m13 -1h14m-53 25h14" stroke="#f81010" stroke-width="14" fill="none"/>
<path transform="scale(0.1)" d="M2292 360h14m-5 -1h14m-2 2h14m-2 0h14m2 -5h14m-121 15h14m-4 3h14m-4 0h14m3 0h14m-7 0h14m2 -4h14m9 2h14m7 -4h14m-1 3h14m-118 9h14m-7 5h14m-2 -2h14m0 -1h14m-2 -1h14m-2 2h14m-5 1h14m-1 -1h14m-1 1h14m-1 -4h14m1 6h14m-164 9h14m10 -2h14m2 -1h14m-1 2h14m-7 4h14m3 -2h14m-3 -3h14m-5 1h14m-1 1h14m-4 -3h14m2 3h14m-1 -2h14m-2 5h14m-4 -6h14m-171 18h14m-1 -4h14m-4 -2h14m3 0h14m-3 1h14m-7 5h14m13 -6h14m-5 5h14m0 0h14m-4 1h14m0 -4h14m-1 -1h14m0 4h14m-1 -1h14m-218 13h14m-7 0h14m1 -3h14m-1 -1h14m-6 2h14m3 3h14m-8 -2h14m12 0h14m-4 -1h14m0 -1h14m2 1h14m-4 2h14m-4 -3h14m0 2h14m-2 1h14m0 -4h14m-3 -1h14m-235 16h14m-2 -1h14m3 0h14m-3 -2h14m0 4h14m-3 1h14m-1 0h14m-4 -3h14m0 -2h14m-3 1h14m-2 4h14m-1 0h14m-5 -2h14m-2 -4h14m-3 1h14m-2 3h14m-2 -3h14m11 0h14m-229 16h14m-4 -2h14m-1 -2h14m-2 3h14m-3 -2h14m-2 4h14m1 -1h14m-1 0h14m-2 -2h14m-5 3h14m49 -3h14m-4 -2h14m-2 -1h14m18 2h14m2 1h14m-4 -2h14m-274 14h14m-2 0h14m-8 3h14m-1 -6h14m0 1h14m-2 3h14m-2 1h14m-5 -2h14m2 -3h14m-6 5h14m22 0h14m13 -2h14m1 3h14m-7 -6h14m-2 5h14m3 0h14m21 -4h14m-4 3h14m-1 -2h14m-316 16h14m10 0h14m1 -2h14m-2 -2h14m-7 2h14m-2 0h14m3 -1h14m-5 3h14m2 -5h14m-4 3h14m-3 -2h14m1 -1h14m-5 0h14m-2 3h14m-1 1h14m-4 -4h14m-1 0h14m-5 5h14m-1 -1h14m3 -5h14m-7 1h14m3 2h14m-7 3h14m3 -6h14m-8 4h14m-2 -2h14m-325 13h14m1 3h14m21 -6h14m-5 1h14m1 1h14m7 3h14m3 -5h14m-7 4h14m4 2h14m-4 -3h14m-5 3h14m-1 -5h14m14 2h14m-6 1h14m0 -4h14m-6 4h14m4 1h14m-6 1h14m1 -5h14m-2 1h14m-6 1h14m0 -3h14m0 2h14m-7 0h14m-344 15h14m-8 0h14m-1 -5h14m-2 0h14m2 3h14m-1 -1h14m-8 4h14m3 -4h14m42 4h14m3 -3h14m-3 -3h14m-5 4h14m-3 -2h14m3 0h14m-3 3h14m-1 -2h14m-5 2h14m-4 -4h14m-3 4h14m4 -1h14m-7 2h14m0 -4h14m-1 2h14m-1 -1h14m-5 1h14m-4 1h14m-356 8h14m-3 4h14m-3 1h14m-2 -2h14m-6 -1h14m2 2h14m-5 -1h14m14 -2h14m17 2h14m1 0h14m12 2h14m-4 -3h14m-4 2h14m2 -4h14m-7 3h14m-2 -2h14m26 2h14m-5 -1h14m3 2h14m-7 0h14m3 -5h14m-2 5h14m-4 -3h14m-1 4h14m-3 -4h14m-373 15h14m-6 -5h14m-2 5h14m-2 0h14m3 -5h14m6 4h14m-3 2h14m15 -6h14m-6 5h14m-1 1h14m-4 -5h14m0 0h14m0 -1h14m-3 4h14m-1 -4h14m-4 3h14m11 0h14m-4 2h14m0 -4h14m10 -1h14m0 6h14m-8 -5h14m1 2h14m1 -1h14m-3 4h14m-2 -6h14m-7 5h14m1 -1h14m-424 12h14m-1 2h14m-4 -6h14m3 5h14m5 0h14m1 -5h14m1 0h14m-4 5h14m10 -4h14m-4 -1h14m2 5h14m5 -3h14m-2 1h14m-2 2h14m0 -2h14m1 -3h14m-4 6h14m-1 -5h14m20 4h14m-1 -4h14m9 -1h14m-3 3h14m-3 0h14m3 -3h14m-7 4h14m-1 -1h14m-4 1h14m2 -1h14m11 0h14m-4 0h14m-443 14h14m-7 -1h14m3 -3h14m10 3h14m-2 -3h14m5 3h14m-2 -2h14m3 3h14m-2 -3h14m-7 3h14m2 -2h14m-3 3h14m-4 -5h14m2 -1h14m-4 1h14m-5 2h14m-2 1h14m-2 -3h14m1 -1h14m-1 4h14m-5 0h14m-2 -4h14m-3 5h14m3 -1h14m-2 -2h14m-8 0h14m4 -2h14m-3 3h14m-3 -2h14m-4 5h14m0 -4h14m7 1h14m1 1h14m12 2h14m-464 6h14m27 2h14m-4 -2h14m-2 0h14m-5 0h14m4 5h14m-3 -2h14m-6 -3h14m1 1h14m-6 4h14m-1 -2h14m-3 0h14m-2 -1h14m-2 -1h14m3 2h14m-5 -2h14m-1 2h14m-4 2h14m13 0h14m-5 -3h14m-2 2h14m-1 0h14m-2 -1h14m0 1h14m-2 -1h14m0 3h14m-7 -5h14m3 2h14m-6 3h14m-1 -1h14m-4 0h14m33 -3h14m-560 10h14m46 5h14m19 -3h14m25 -2h14m-6 5h14m-3 -5h14m2 3h14m-7 3h14m0 -2h14m-4 -2h14m-2 -2h14m3 6h14m8 -5h14m-4 0h14m-3 1h14m1 -1h14m-1 0h14m-2 5h14m-2 -1h14m0 1h14m-6 -2h14m-3 2h14m3 -5h14m-5 4h14m-5 0h14m2 1h14m11 -2h14m-7 -4h14m4 5h14m-5 -5h14m0 1h14m33 2h14m-5 2h14m3 -3h14m-6 -1h14m0 5h14m-588 10h14m-3 -2h14m10 3h14m21 -3h14m-1 1h14m-2 -2h14m-2 0h14m6 0h14m1 3h14m19 0h14m3 -3h14m-8 4h14m0 0h14m-4 -3h14m-1 3h14m3 1h14m17 -6h14m-2 4h14m3 1h14m-5 -1h14m-2 -3h14m-4 5h14m2 -1h14m-5 0h14m-2 -5h14m0 5h14m-2 -2h14m33 -3h14m-1 5h14m0 1h14m-3 -5h14m-2 5h14m-6 -1h14m-1 -1h14m-2 0h14m-4 0h14m1 -4h14m0 0h14m-615 14h14m-4 3h14m-1 -5h14m0 3h14m34 1h14m-6 -1h14m-2 -2h14m-3 5h14m-1 -1h14m3 -3h14m-6 1h14m8 3h14m-1 -1h14m-2 -5h14m-2 0h14m-3 0h14m3 6h14m-4 -5h14m1 3h14m-7 -2h14m2 0h14m-4 3h14m-5 -3h14m-2 3h14m-1 -2h14m0 3h14m0 -5h14m-7 5h14m-1 -5h14m0 1h14m-4 -1h14m-2 5h14m2 -5h14m19 2h14m-3 0h14m13 -3h14m19 0h14m2 3h14m-7 3h14m-1 0h14m-2 -6h14m-1 1h14m-3 1h14m-2 2h14m-634 12h14m-1 -4h14m17 3h14m3 -1h14m-7 -2h14m2 4h14m-5 0h14m-2 -3h14m-3 0h14m1 3h14m-4 -1h14m-1 2h14m-5 -5h14m27 0h14m-7 1h14m1 1h14m-4 -1h14m0 1h14m-3 -1h14m12 2h14m0 -1h14m-7 4h14m-1 0h14m1 -1h14m-5 -5h14m1 4h14m-1 -4h14m-7 3h14m-2 2h14m1 -2h14m-2 2h14m10 -2h14m20 -3h14m2 2h14m-3 3h14m-3 -5h14m0 5h14m-3 -2h14m7 -1h14m0 2h14m-4 1h14m-1 -1h14m1 2h14m-2 -6h14m-8 6h14m2 -1h14m-639 8h14m8 2h14m-3 0h14m11 -3h14m3 1h14m5 4h14m-3 -4h14m3 3h14m17 0h14m-1 -2h14m0 -1h14m-1 3h14m-6 -1h14m12 3h14m23 -1h14m0 -4h14m-2 1h14m10 -2h14m-3 3h14m-2 -3h14m-2 4h14m-5 0h14m9 -4h14m0 2h14m-3 -2h14m2 2h14m-6 0h14m0 1h14m0 -3h14m-6 4h14m-2 -4h14m-3 2h14m-2 3h14m1 -5h14m0 0h14m-3 4h14m-3 -2h14m-3 1h14m-2 -2h14m-1 5h14m-4 -3h14m-1 1h14m-635 13h14m-1 -4h14m-4 1h14m-1 0h14m-5 4h14m0 -2h14m6 2h14m2 0h14m-4 -2h14m-2 0h14m-1 -4h14m1 0h14m-7 0h14m-1 2h14m2 1h14m-7 0h14m3 1h14m4 -2h14m-2 -2h14m16 4h14m-4 2h14m8 -1h14m1 0h14m7 1h14m13 -3h14m-5 2h14m1 0h14m-5 0h14m-4 -1h14m-2 -1h14m-1 -2h14m-2 1h14m2 1h14m-7 2h14m3 -5h14m11 3h14m-6 2h14m2 -5h14m-7 6h14m2 -1h14m-4 -1h14m-1 0h14m0 0h14m-8 0h14m2 -2h14m-3 -2h14m-625 16h14m0 -2h14m-4 -2h14m-4 4h14m1 1h14m-4 -2h14m-2 0h14m0 -1h14m31 3h14m2 -3h14m-5 1h14m-3 3h14m-3 -6h14m0 3h14m-1 -2h14m-1 3h14m-1 2h14m-2 -2h14m20 0h14m-6 -4h14m2 3h14m-4 -2h14m13 1h14m11 -1h14m-5 4h14m-5 1h14m4 -2h14m-3 -1h14m-6 -3h14m1 1h14m7 2h14m9 2h14m-1 -3h14m-2 -2h14m-3 1h14m12 -1h14m-4 4h14m-2 0h14m-2 0h14m2 -1h14m-2 0h14m-6 -3h14m-620 13h14m-3 5h14m-1 -3h14m-7 -3h14m-1 2h14m14 2h14m-2 0h14m-7 -2h14m0 4h14m31 -2h14m0 -2h14m0 -2h14m-1 3h14m-7 0h14m0 1h14m13 -4h14m-1 6h14m-7 0h14m1 -3h14m-4 1h14m-1 -1h14m0 -1h14m-4 0h14m0 2h14m-4 -2h14m-1 3h14m-2 -1h14m-2 -4h14m-3 5h14m0 -1h14m-4 -2h14m-2 -1h14m-4 2h14m15 2h14m-6 -3h14m-2 2h14m0 -4h14m-5 1h14m-3 2h14m1 -3h14m-2 6h14m-1 -2h14m0 -3h14m-3 2h14m-2 0h14m-1 0h14m-603 9h14m-4 5h14m0 -3h14m-3 4h14m-3 0h14m1 0h14m-3 0h14m-2 -2h14m7 0h14m0 -1h14m-6 2h14m13 -1h14m7 -3h14m3 -1h14m-3 3h14m-3 3h14m-1 -1h14m-5 -2h14m-2 3h14m0 -4h14m0 -2h14m-4 5h14m-3 -2h14m-1 3h14m8 -5h14m-3 2h14m3 -1h14m-5 2h14m0 2h14m-2 -3h14m-6 -3h14m3 1h14m-5 1h14m-4 2h14m1 -1h14m0 3h14m-5 0h14m2 0h14m-7 0h14m9 -5h14m0 0h14m-4 2h14m-2 -1h14m-1 1h14m-538 12h14m-2 -2h14m11 5h14m-2 -4h14m-5 4h14m12 -5h14m9 0h14m-2 -1h14m-6 0h14m2 3h14m0 -1h14m-2 0h14m-4 2h14m-6 -1h14m4 1h14m-4 -2h14m-2 -2h14m0 6h14m-6 -2h14m-2 0h14m0 -3h14m-4 2h14m38 0h14m-8 3h14m0 -4h14m2 -2h14m7 4h14m-1 1h14m-6 -4h14m1 0h14m-3 4h14m-4 -5h14m0 4h14m8 -2h14m4 -1h14m-7 4h14m-1 -3h14m-531 13h14m1 -2h14m-5 2h14m0 1h14m-3 1h14m12 -4h14m0 0h14m-4 2h14m22 2h14m-3 -5h14m-5 1h14m-2 1h14m0 4h14m-2 -3h14m-2 2h14m-3 -2h14m15 0h14m-7 -1h14m-3 2h14m4 2h14m-8 -3h14m3 2h14m8 -1h14m12 -2h14m-6 -2h14m-1 6h14m1 -2h14m-6 -3h14m-2 0h14m0 0h14m-3 2h14m1 -1h14m-7 3h14m3 -2h14m-5 2h14m-2 -3h14m-4 2h14m4 -1h14m-494 9h14m16 0h14m15 2h14m-6 -2h14m-1 1h14m-3 0h14m10 3h14m0 -2h14m11 1h14m7 -3h14m21 0h14m3 1h14m7 2h14m-1 0h14m-5 3h14m13 -4h14m-1 4h14m-1 -2h14m6 2h14m3 -2h14m-2 -3h14m8 0h14m-3 4h14m1 -4h14m18 -1h14m-432 15h14m371 -2h14m-97 14h14" stroke="#e0e0e0" stroke-width="14" fill="none"/>
<path transform="scale(0.1)" d="M2227 770h14m7 -3h14m14 4h14m-2 0h14m10 -5h14m-133 15h14m-8 -4h14m3 2h14m-7 -2h14m-2 5h14m16 -4h14m-8 1h14m-96 11h14m-3 1h14m9 3h14m3 -5h14m-6 1h14m-3 5h14m10 0h14m0 -3h14m2 3h14m-124 8h14m-5 0h14m14 2h14m21 -3h14m-6 4h14m2 -1h14m-4 -3h14m24 3h14m-180 8h14m6 5h14m-1 -5h14m23 4h14m-4 1h14m12 -4h14m8 0h14m-2 2h14m-158 9h14m13 6h14m-5 -1h14m13 -4h14m35 3h14m-3 -3h14m-4 0h14m-122 11h14m23 2h14m-5 2h14m13 -3h14m-5 1h14m14 2h14m-148 12h14m-4 -2h14m-2 -2h14m2 5h14m-4 -2h14m-4 -2h14m1 -1h14m-6 2h14m-1 2h14m-2 -3h14m2 1h14m-102 15h14m-3 0h14m0 -5h14m2 5h14m-2 -1h14m7 1h14m11 -1h14m-138 11h14m4 -2h14m9 4h14m7 0h14m0 -2h14m8 2h14m-4 -2h14m1 3h14m-143 8h14m-7 -1h14m0 -1h14m7 2h14m-2 -2h14m-2 3h14m-1 -1h14m-27 13h14m12 -2h14m-2 0h14m-1 -1h14m-1 0h14m-138 24h14" stroke="#e0e0e0" stroke-width="14" fill="none"/>
<path transform="scale(0.1)" d="M2406 748h14m-2 1h14m22 0h14m10 2h14m11 -1h14m4 0h14m15 -1h14m-195 13h14m-5 -4h14m-2 -1h14m-3 5h14m4 -1h14m-4 -3h14m21 -1h14m-3 1h14m13 2h14m7 0h14m8 3h14m-193 10h14m-1 -3h14m-1 4h14m-2 -1h14m-1 -4h14m18 3h14m-2 3h14m3 -2h14m11 -2h14m18 1h14m-183 13h14m9 -1h14m-2 -2h14m4 3h14m-3 -1h14m-1 2h14m-8 -3h14m10 -2h14m4 4h14m-126 14h14m-3 -6h14m13 0h14m-5 2h14m3 0h14m7 0h14m1 -2h14m34 1h14m-161 11h14m12 2h14m-4 3h14m20 -1h14m2 -1h14m-1 -1h14m22 2h14m-8 1h14m-156 7h14m-1 2h14m-5 -2h14m4 0h14m20 6h14m0 -2h14m-3 -1h14m19 3h14m24 -6h14m-193 17h14m-7 -4h14m4 1h14m-4 4h14m-6 -3h14m-1 1h14m1 -3h14m-1 0h14m-2 2h14m-3 0h14m-1 0h14m5 0h14m26 -1h14m-198 11h14m3 5h14m-1 0h14m-6 0h14m2 0h14m9 -4h14m-1 -1h14m19 4h14m8 -3h14m-3 3h14m0 -5h14m-180 16h14m19 -2h14m-1 -2h14m11 0h14m21 4h14m-122 14h14m8 -1h14m22 -1h14m1 -3h14m-5 0h14m72 3h14m-82 8h14m40 0h14" stroke="#e0e0e0" stroke-width="14" fill="none"/>
<path transform="scale(0.1)" d="M2541 575h14m-96 24h14m-4 2h14m3 -2h14m-5 -1h14m-5 1h14m-1 -1h14m-3 3h14m28 -6h14m9 4h14m-148 12h14m-1 2h14m-1 0h14m-5 -1h14m-4 -4h14m23 1h14m-107 14h14m0 -1h14m-5 0h14m-2 3h14m23 -6h14m0 1h14m-7 0h14m3 2h14m-4 3h14m-1 -6h14m31 6h14m-182 7h14m2 0h14m-8 -1h14m2 2h14m-6 0h14m40 2h14m-4 -1h14m-5 2h14m1 -1h14m-144 9h14m-8 2h14m-2 -3h14m1 2h14m0 -1h14m-1 5h14m-8 -2h14m-1 -4h14m1 6h14m0 -4h14m-3 0h14m-7 0h14m4 3h14m-7 -3h14m-214 11h14m45 5h14m-2 -2h14m-2 2h14m12 -1h14m-8 0h14m-2 -4h14m2 5h14m-3 -3h14m-1 3h14m-6 -1h14m-140 9h14m10 4h14m-7 0h14m0 -2h14m-4 -2h14m-3 4h14m3 0h14m-4 -1h14m-5 -5h14m-109 12h14m-3 0h14m25 5h14m-2 -1h14m-4 -2h14m10 3h14m-98 8h14m13 16h14" stroke="#c59c92" stroke-width="14" fill="none"/>
<path transform="scale(0.1)" d="M2167 284h15m-47 10h15m-7 4h15m-84 10h15m10 2h15m5 -2h15m-2 -2h15m-111 16h15m23 -6h15m-1 6h15m-4 -4h15m-2 2h15m-4 -2h15m-5 3h15m-113 8h15m12 0h15m-5 2h15m1 -1h15m-3 4h15m-4 -4h15m-8 -1h15m1 1h15m-5 1h15m-131 11h15m-3 -2h15m-9 4h15m-1 -3h15m-1 4h15m-1 -2h15m-8 0h15m0 -1h15m-5 4h15m0 -3h15m-3 -3h15m-146 14h15m-4 3h15m-5 1h15m-3 -1h15m-6 -1h15m-2 -1h15m2 3h15m-7 -4h15m0 -1h15m-5 4h15m-2 1h15m-124 10h15m0 -3h15m-6 -1h15m-6 0h15m-2 2h15m2 -2h15m8 0h15m-99 16h15m-5 -2h15m-1 2h15m-8 -3h15" stroke="#9c4ef2" stroke-width="15" fill="none"/>
<path transform="scale(0.1)" d="M2098 405h15m-8 -4h15m-71 14h15m-4 -2h15m10 4h15m-8 1h15m2 -3h15m32 -1h15m-231 12h15m44 1h15m11 4h15m-3 0h15m-4 -2h15m-1 1h15m-8 0h15m-2 -5h15m0 5h15m-2 1h15m-125 9h15m-6 -1h15m-3 3h15m-3 -4h15m2 1h15m-7 3h15m-4 -4h15m21 5h15m-1 -3h15m-134 15h15m-3 -2h15m-6 -3h15m-3 4h15m-3 -4h15m-4 4h15m3 -1h15m-6 -3h15m-101 17h15m9 -2h15m0 -4h15m-3 6h15m-4 0h15m-3 -3h15m0 0h15m-9 -3h15m11 3h15m19 1h15m2 -4h15m-188 13h15m3 -1h15m7 6h15m-3 -6h15m-4 6h15m-2 -6h15m-3 0h15m-1 3h15m-6 -1h15m-6 0h15m-3 3h15m-146 9h15m-3 0h15m-3 -1h15m0 2h15m-4 0h15m-5 0h15m-3 2h15m-2 1h15m-2 -1h15m-6 0h15m2 -1h15m-146 10h15m-4 0h15m-2 -1h15m-4 0h15m-3 3h15m-8 2h15m2 -6h15m-8 6h15m2 -6h15m-3 6h15m-8 0h15m2 -1h15m-134 9h15m-6 -2h15m-1 4h15m-7 -2h15m1 0h15m-5 -1h15m-2 3h15m-5 1h15m-5 -4h15m2 -1h15m-7 0h15m-144 17h15m-2 -1h15m7 -3h15m0 4h15m-6 1h15m-5 -2h15m-2 -1h15m-3 1h15m1 -3h15m-3 4h15m-3 -4h15m-135 13h15m-8 3h15m0 0h15m-1 -4h15m-7 1h15m-4 2h15m0 0h15m-7 0h15m-1 2h15m0 -5h15m-128 12h15m-3 2h15m-1 0h15m0 -2h15m-2 3h15m-6 -1h15m-2 0h15m-3 -2h15m-2 -1h15m-4 2h15m-3 -1h15m-123 15h15m-1 -4h15m-4 6h15m-8 -4h15m-2 -2h15m0 2h15m-6 -1h15m1 2h15m-2 -1h15m-101 16h15m-7 -4h15m11 4h15m-4 -4h15m2 2h15m-7 -4h15m-2 5h15m-61 7h15m5 4h15m0 -4h15m-7 4h15m0 1h15m-121 19h15m22 4h15" stroke="#9c4ef2" stroke-width="15" fill="none"/>
<path transform="scale(0.1)" d="M2312 350h15m-219 41h15m32 -3h15m14 -1h15m-8 2h15m3 2h15m-9 0h15m2 1h15m-102 8h15m13 -1h15m-5 5h15m-4 -6h15m-3 3h15m0 2h15m-9 -2h15m-1 -1h15m-95 11h15m-5 2h15m-5 3h15m-3 0h15m-2 -6h15m-2 1h15m-1 0h15m-9 0h15m-106 15h15m-4 2h15m-1 -5h15m-7 0h15m-4 -1h15m-4 6h15m-1 -5h15m-5 4h15m22 0h15m-145 11h15m10 -2h15m-5 3h15m-2 -3h15m-3 3h15m-3 1h15m-3 -1h15m-4 -4h15m-3 -1h15m1 5h15m-4 -2h15m-135 15h15m6 -1h15m-3 -5h15m-2 3h15m-2 3h15m19 -2h15m1 -3h15m-4 5h15m-6 -5h15m-149 14h15m2 -1h15m-4 -1h15m-6 2h15m-2 2h15m1 -1h15m4 2h15m0 0h15m-1 -2h15m-9 2h15m-1 -1h15m-160 8h15m12 3h15m-5 1h15m12 -5h15m-2 0h15m-6 4h15m0 -3h15m-7 2h15m-1 -3h15m-2 2h15m-5 -2h15m-150 16h15m-2 -2h15m-2 -1h15m0 2h15m-7 3h15m-1 -5h15m-4 0h15m-3 3h15m-4 2h15m-4 -2h15m-2 -2h15m-4 -2h15m-2 1h15m-148 11h15m9 0h15m14 3h15m-5 2h15m9 -5h15m-5 4h15m1 -2h15m-3 4h15m-163 10h15m-4 -3h15m11 1h15m-4 3h15m8 -5h15m-1 1h15m-2 2h15m11 -3h15m5 6h15m-3 -6h15m-2 4h15m-168 9h15m-7 5h15m9 -2h15m-2 2h15m1 -5h15m-5 1h15m-5 1h15m-1 0h15m-2 -2h15m-4 -1h15m-1 1h15m-9 5h15m-157 12h15m13 -5h15m-8 -1h15m9 0h15m-2 6h15m1 0h15m-9 -3h15m3 -1h15m-3 -2h15m-9 3h15m3 0h15m-148 14h15m-6 0h15m-3 -4h15m-1 0h15m-1 5h15m-7 -2h15m-2 -2h15m-3 0h15m-4 4h15m19 -4h15m-3 -2h15m-154 17h15m-8 1h15m10 0h15m12 -4h15m-6 -1h15m0 4h15m-4 1h15m-1 -2h15m8 -4h15m-6 2h15m-158 16h15m-1 -6h15m-2 2h15m-6 0h15m-3 3h15m-5 0h15m1 -3h15m7 1h15m-1 -2h15m-2 3h15m9 1h15m-8 -5h15m-179 12h15m-3 5h15m-2 -2h15m-2 2h15m-7 -4h15m-3 5h15m0 -6h15m-2 4h15m-3 -1h15m-4 -3h15m-4 1h15m-6 3h15m10 2h15m-160 11h15m1 -1h15m-6 0h15m-5 -1h15m-3 1h15m-1 2h15m-1 -6h15m-6 3h15m0 0h15m-2 0h15m-3 -2h15m-3 -1h15m-6 4h15m-2 2h15m-6 -2h15m-183 10h15m0 1h15m-5 1h15m1 0h15m-6 -1h15m-1 -1h15m-6 -1h15m-1 -1h15m0 4h15m6 1h15m-6 -4h15m1 3h15m-4 1h15m-157 10h15m-4 -1h15m-4 -1h15m-2 1h15m-4 2h15m0 1h15m5 -4h15m-1 1h15m6 -1h15m-2 0h15m-4 1h15m-143 12h15m4 0h15m13 -2h15m-4 1h15m-6 2h15m-1 -1h15m13 3h15m-9 -4h15m-3 1h15m-120 10h15m-6 0h15m3 6h15m-5 -2h15m-2 2h15m-4 -6h15m-7 0h15m3 6h15m-9 -5h15m-3 -1h15m-109 18h15m23 -6h15m-4 4h15m-1 -3h15m-8 1h15m3 3h15m-8 -2h15m-72 10h15m-1 -1h15m3 2h15m3 25h15" stroke="#9c4ef2" stroke-width="15" fill="none"/>
<path transform="scale(0.1)" d="M2107 566h14m18 7h14m-24 17h14m0 -1h14m6 13h14m9 -4h14m13 2h14m0 2h14m-135 12h14m36 0h14m94 -4h14m10 2h14m-4 -1h14m-194 16h14m-2 -5h14m9 1h14m1 1h14m10 -3h14m-8 4h14m59 -1h14m-131 13h14m0 0h14m-3 -2h14m7 2h14m56 1h14m11 -2h14m1 -1h14m-210 11h14m37 3h14m-1 -2h14m-1 -1h14m9 5h14m43 -2h14m-119 10h14m-1 1h14m-6 -2h14m0 3h14m7 0h14m24 -2h14m-118 11h14m125 2h14m-181 11h14m0 1h14m-3 -3h14m33 6h14m60 0h14m-4 -3h14m1 -2h14m-112 12h14m33 1h14m1 4h14m-4 -2h14m-2 2h14m-192 7h14m33 1h14m10 2h14m-6 1h14m58 -3h14m26 3h14m10 -2h14m-171 14h14m-3 0h14m36 -2h14m30 3h14m1 -5h14m-147 12h14m94 2h14m-112 13h14m118 -1h14m-56 37h14" stroke="#9c4ef2" stroke-width="14" fill="none"/>
<path transform="scale(0.1)" d="M2388 176h15m10 0h15m9 3h15m-87 10h15m21 -1h15m-3 2h15m-7 -1h15m1 0h15m-6 2h15m-196 6h15m67 6h15m2 -2h15m-7 -3h15m2 -1h15m-4 6h15m-5 -1h15m0 -5h15m-9 3h15m1 1h15m-4 1h15m-3 -5h15m-137 15h15m2 2h15m-9 -5h15m2 4h15m-4 0h15m-5 1h15m9 1h15m-4 0h15m-4 -2h15m-2 -1h15m-1 3h15m-198 7h15m-2 3h15m0 -1h15m-3 1h15m-2 1h15m-2 -1h15m-8 0h15m-3 1h15m-4 -3h15m-1 0h15m-3 3h15m-4 0h15m1 -1h15m-6 1h15m-1 -1h15m-7 -3h15m2 0h15m-211 16h15m8 0h15m2 -5h15m-7 2h15m-3 0h15m2 0h15m-5 2h15m-3 -1h15m-3 2h15m-7 -4h15m12 4h15m-3 -5h15m-3 0h15m-1 3h15m-3 -3h15m-3 6h15m-245 10h15m-6 0h15m3 2h15m-5 0h15m-7 0h15m11 -4h15m0 4h15m-2 -1h15m-5 1h15m-3 -4h15m-4 4h15m9 0h15m-5 0h15m-4 -4h15m-3 4h15m-3 -5h15m0 5h15m-246 12h15m0 -2h15m-3 0h15m0 0h15m-6 2h15m-6 -4h15m-3 4h15m-2 -6h15m-2 0h15m-4 4h15m-4 -2h15m3 4h15m-5 -5h15m23 2h15m-7 -3h15m-1 5h15m-2 -5h15m-2 1h15m-5 2h15m-7 0h15m-261 9h15m-3 3h15m-9 -3h15m2 0h15m-7 0h15m1 5h15m-2 -4h15m-4 5h15m-5 -6h15m-2 2h15m-5 -1h15m0 5h15m-5 -4h15m-1 2h15m19 -4h15m0 5h15m-7 -1h15m-3 -4h15m-4 5h15m1 -3h15m-278 14h15m-7 1h15m9 1h15m-3 -5h15m-4 1h15m2 3h15m-8 -5h15m1 5h15m-8 -5h15m-3 3h15m1 1h15m-4 -2h15m-6 0h15m1 4h15m11 -6h15m-7 3h15m-5 -2h15m3 1h15m-6 -2h15m-4 4h15m0 -4h15m-2 5h15m-292 9h15m-4 2h15m-5 0h15m-2 -2h15m-4 4h15m1 -2h15m-4 0h15m-7 2h15m1 -3h15m-4 2h15m-6 -1h15m10 -1h15m0 3h15m-3 -1h15m-6 -4h15m22 2h15m-3 -3h15m19 2h15m-327 14h15m38 -4h15m-7 0h15m-3 1h15m0 2h15m-4 -3h15m-5 6h15m-1 -6h15m-5 4h15m1 0h15m-3 -4h15m-9 3h15m1 -2h15m30 0h15m-2 3h15m0 1h15m-7 -4h15m-3 1h15m14 0h15m-7 4h15m-290 9h15m-5 -1h15m-4 0h15m-2 3h15m13 -1h15m-8 0h15m0 2h15m-5 0h15m0 -1h15m-7 1h15m11 -4h15m-2 2h15m-3 1h15m-1 -1h15m-7 1h15m26 -5h15m4 4h15m-3 1h15m0 -2h15m5 -1h15m-297 11h15m-3 5h15m-8 -3h15m2 1h15m-7 2h15m-2 -2h15m-2 -1h15m-3 -3h15m-1 5h15m-8 -1h15m0 -3h15m7 0h15m-2 5h15m-5 -4h15m-4 3h15m13 0h15m-5 1h15m0 -4h15m-7 1h15m0 0h15m-5 -3h15m0 2h15m-7 -2h15m1 5h15m-327 7h15m-4 6h15m-2 -2h15m-5 -3h15m-6 2h15m2 1h15m-7 -2h15m2 -1h15m-6 5h15m-4 -2h15m-5 -3h15m-2 1h15m-3 0h15m2 -2h15m-7 5h15m1 -5h15m4 1h15m2 3h15m-9 2h15m-2 -5h15m0 5h15m-7 -5h15m3 5h15m-3 -1h15m-4 -4h15m-5 2h15m-313 11h15m-8 4h15m-2 -5h15m2 5h15m-8 0h15m-1 -3h15m-1 -3h15m-7 5h15m2 -3h15m-6 3h15m-6 -5h15m15 4h15m-4 -2h15m-8 1h15m25 0h15m8 -3h15m-2 0h15m-5 2h15m-5 -2h15m-3 6h15m-2 -1h15m-1 0h15m-314 9h15m-7 -1h15m-1 2h15m-2 -2h15m-1 2h15m-3 -1h15m-4 0h15m-6 1h15m12 0h15m-7 -3h15m-1 2h15m0 2h15m-5 0h15m20 2h15m-2 -4h15m-3 0h15m-4 4h15m-4 -1h15m-4 -1h15m0 0h15m-2 2h15m-254 12h15m-4 -2h15m-1 -3h15m-7 3h15m25 -4h15m-8 3h15m-2 1h15m1 -4h15m-4 4h15m-6 -3h15m-4 -1h15m10 5h15m13 1h15m-5 -5h15m-3 2h15m-5 -2h15m-280 14h15m23 1h15m-1 -4h15m-2 6h15m-7 -4h15m-2 3h15m-3 -4h15m0 0h15m-7 2h15m-4 1h15m2 1h15m-4 -5h15m-2 4h15m-6 2h15m-4 -6h15m-2 4h15m-3 -2h15m8 2h15m-1 0h15m-7 -4h15m25 2h15m-255 11h15m-6 1h15m1 4h15m-6 -5h15m-5 2h15m-2 0h15m-2 1h15m-4 -3h15m0 -1h15m-5 2h15m-5 2h15m2 -2h15m-4 0h15m-7 0h15m-2 0h15m-4 -2h15m-1 0h15m-155 18h15m-6 -6h15m-1 3h15m-3 -3h15m-7 2h15m-2 4h15m-1 -1h15m-4 -3h15m-5 2h15m8 0h15m12 -1h15m-96 9h15" stroke="#0808f8" stroke-width="15" fill="none"/>
<path transform="scale(0.1)" d="M2605 336h14m-110 14h14m26 -4h14m-5 1h14m-2 0h14m10 2h14m-95 10h14m9 3h14m-4 -2h14m25 0h14m9 -3h14m-139 15h14m11 -2h14m1 4h14m-3 -1h14m9 -5h14m22 4h14m1 -4h14m-158 17h14m-4 0h14m-1 -5h14m-1 5h14m-2 -5h14m-6 5h14m9 1h14m2 0h14m0 -5h14m-4 0h14m-2 0h14m-3 2h14m-227 15h14m20 -5h14m22 1h14m-5 1h14m0 -1h14m1 0h14m46 0h14m-2 3h14m-7 -2h14m2 1h14m-193 10h14m6 -2h14m-1 2h14m-4 -1h14m1 -1h14m19 3h14m12 3h14m-5 -3h14m2 0h14m-5 3h14m10 -3h14m2 2h14m-1 -1h14m-219 12h14m6 -1h14m13 -3h14m12 4h14m-3 -4h14m-3 5h14m-2 -2h14m-2 2h14m22 -1h14m-1 -2h14m-2 -1h14m-2 1h14m-230 16h14m-3 -3h14m0 -1h14m-8 3h14m0 -2h14m13 -2h14m9 0h14m0 3h14m9 -3h14m21 4h14m-2 1h14m-4 -1h14m10 -5h14m9 4h14m10 1h14m-219 9h14m22 1h14m0 2h14m1 -1h14m7 -2h14m10 -1h14m9 -1h14m3 5h14m-5 -5h14m20 5h14m-215 13h14m9 -4h14m-3 -1h14m10 2h14m12 1h14m0 -4h14m-6 3h14m-4 0h14m1 -3h14m-4 5h14m-2 -3h14m3 0h14m-6 2h14m8 -1h14m-194 14h14m12 -3h14m2 1h14m-6 -1h14m-2 3h14m1 0h14m-4 -5h14m-1 1h14m6 3h14m0 -4h14m-1 2h14m-2 -2h14m8 4h14m2 0h14m-222 14h14m-3 -2h14m73 -2h14m-3 2h14m-4 0h14m-1 -4h14m2 1h14m-7 -1h14m2 2h14m0 4h14m10 0h14m-206 8h14m16 2h14m0 -2h14m-4 2h14m2 1h14m-2 -1h14m-2 -3h14m22 0h14m6 4h14m4 -1h14m-8 -3h14m4 1h14m-187 15h14m0 1h14m12 -2h14m-5 -1h14m-2 -2h14m9 0h14m2 4h14m-6 -5h14m0 0h14m1 3h14m8 1h14m-173 8h14m-3 3h14m36 2h14m1 1h14m18 -4h14m1 -2h14m-2 2h14m20 -1h14m-178 11h14m10 1h14m-2 0h14m-2 1h14m-3 3h14m9 -5h14m-6 2h14m-1 0h14m1 0h14m-2 -1h14m-3 2h14m1 -3h14m-8 3h14m-154 14h14m6 0h14m4 -1h14m4 -2h14m-1 0h14m25 1h14m-6 0h14m2 3h14m-121 6h14m-6 6h14m39 0h14m-5 -4h14m-61 16h14m-6 -6h14m2 1h14m6 0h14m2 2h14m8 2h14m-99 10h14m3 -3h14m-7 4h14m1 2h14m-2 0h14m7 -5h14m-71 14h14m19 9h14m-9 16h14" stroke="#0808f8" stroke-width="14" fill="none"/>
<path transform="scale(0.1)" d="M2297 345h14m-63 25h14m23 -2h14m23 2h14m-1 1h14m-62 12h14m-5 2h14m27 -1h14m-40 7h14m0 2h14m-4 -2h14m0 5h14m-66 10h14m-3 3h14m0 -6h14m-3 2h14m-23 10h14m-2 6h14m-48 6h14m-32 16h14m0 2h14" stroke="#c59c92" stroke-width="14" fill="none"/>
<path transform="scale(0.1)" d="M2403 685h14m0 18h14m-62 17h14m2 -1h14m-38 14h14m-5 -2h14m1 2h14m-38 11h14m-6 -4h14m2 5h14m-28 9h14" stroke="#2d6914" stroke-width="14" fill="none"/>
<path transform="scale(0.1)" d="M2233 770h14m82 3h14m-125 9h14m13 -3h14m-2 6h14m-6 -4h14m-68 11h14m-4 3h14m-3 0h14m-1 -3h14m-5 4h14m-3 0h14m2 0h14m-86 12h14m-3 -1h14m-2 -1h14m0 1h14m-7 -3h14m-2 1h14m3 0h14m-90 12h14m3 -2h14m-8 6h14m4 -1h14m-3 -2h14m-7 3h14m4 -2h14m-8 0h14m-98 13h14m-1 0h14m0 -3h14m-4 4h14m9 -5h14m-1 2h14m0 3h14m-99 9h14m-1 1h14m1 2h14m-3 -4h14m-2 -2h14m-2 4h14m-7 -4h14m-69 17h14m-5 -4h14m-1 2h14m0 1h14m-2 -3h14m-1 2h14m-8 0h14m-122 15h14m36 -1h14m-2 1h14m2 -1h14m-2 -3h14m-26 10h14" stroke="#f7922a" stroke-width="14" fill="none"/>
<path transform="scale(0.1)" d="M2461 732h14m46 13h14m-80 16h14m4 -3h14m-4 2h14m0 -5h14m-65 14h14m-4 3h14m0 -1h14m0 -4h14m-1 0h14m-4 0h14m-1 5h14m-114 12h14m-1 -1h14m-1 2h14m-1 0h14m-1 0h14m-4 -6h14m0 4h14m-75 12h14m-6 -3h14m1 1h14m1 3h14m-7 -4h14m-3 2h14m2 0h14m-6 3h14m-97 7h14m3 5h14m-7 -3h14m2 -1h14m-3 -2h14m-2 0h14m-5 0h14m-3 1h14m3 4h14m9 -4h14m-149 11h14m11 4h14m-2 1h14m-3 1h14m3 -2h14m-6 -1h14m-4 2h14m-1 1h14m-1 -4h14m-124 15h14m-2 -5h14m0 0h14m2 5h14m-6 1h14m-3 -5h14m1 5h14m-1 -6h14m-74 17h14m-4 1h14m-5 0h14m0 0h14m-4 -4h14m4 1h14m-63 9h14m-7 0h14m22 0h14m-8 14h14" stroke="#f81010" stroke-width="14" fill="none"/>
<path transform="scale(0.1)" d="M3134 298h14m-18 37h14m-22 16h14m10 -4h14m8 0h14m-62 15h14m-4 -1h14m3 0h14m-7 2h14m-3 -6h14m1 2h14m-3 1h14m-4 -2h14m-105 17h14m-4 0h14m1 -6h14m-4 6h14m0 -1h14m-2 -3h14m30 -2h14m2 6h14m-3 -1h14m-146 7h14m-6 2h14m-1 2h14m1 -3h14m-5 1h14m-2 -2h14m-1 3h14m-1 3h14m-2 -6h14m-4 2h14m2 0h14m-7 0h14m2 2h14m-5 -1h14m-167 14h14m-6 0h14m2 -1h14m-2 -4h14m-3 3h14m-5 2h14m2 0h14m-5 -4h14m-2 5h14m22 -4h14m11 1h14m-3 0h14m-3 -2h14m-1 4h14m-3 -3h14m-204 15h14m-2 -3h14m-4 0h14m-1 1h14m0 3h14m-6 -6h14m-1 4h14m1 -2h14m8 3h14m0 1h14m-2 -4h14m23 -1h14m-3 -1h14m-3 5h14m-241 13h14m10 -4h14m-1 0h14m-2 2h14m7 -2h14m2 0h14m-5 -2h14m-1 3h14m-6 -1h14m0 1h14m-1 -3h14m8 5h14m0 -4h14m1 0h14m-4 4h14m23 0h14m-244 12h14m-1 1h14m-3 -1h14m-1 0h14m-1 -2h14m-5 3h14m-4 -3h14m-1 -1h14m-2 3h14m3 -2h14m-5 -3h14m-3 1h14m-4 2h14m10 0h14m2 0h14m23 -1h14m-5 3h14m2 1h14m-266 12h14m-2 -3h14m-2 -3h14m53 6h14m-1 0h14m-3 -2h14m0 -2h14m1 3h14m-8 -2h14m2 -1h14m-3 0h14m-1 2h14m-3 1h14m10 -1h14m-3 -4h14m0 6h14m-269 7h14m2 -1h14m11 5h14m-7 -5h14m-1 2h14m9 4h14m10 -1h14m-2 -3h14m3 0h14m-5 3h14m1 0h14m-6 0h14m-2 0h14m0 -1h14m-5 2h14m9 -1h14m3 -2h14m-7 -1h14m-262 16h14m0 -2h14m-6 -2h14m0 1h14m-3 -3h14m1 0h14m-7 1h14m-1 4h14m-2 -5h14m-3 4h14m10 -1h14m1 1h14m-1 -2h14m-5 3h14m0 1h14m-1 -2h14m-4 0h14m-2 0h14m1 -1h14m9 2h14m-5 -3h14m-3 4h14m-285 6h14m-5 0h14m-2 3h14m0 -3h14m-5 5h14m-3 -5h14m0 2h14m-3 4h14m-3 -2h14m14 2h14m-1 -3h14m-2 -1h14m-4 0h14m0 1h14m-3 0h14m-6 3h14m3 -4h14m-6 2h14m-4 -1h14m-2 -1h14m-2 -2h14m-1 0h14m12 5h14m-323 12h14m-2 -5h14m-2 5h14m-5 1h14m-4 -4h14m9 3h14m-1 -5h14m-2 1h14m0 1h14m-4 3h14m1 0h14m-1 -3h14m22 -1h14m7 2h14m-3 3h14m0 -4h14m1 4h14m6 -3h14m-4 0h14m4 2h14m-295 11h14m2 -1h14m-2 -3h14m19 4h14m0 -1h14m8 -1h14m-4 0h14m13 -1h14m0 5h14m6 -5h14m-1 1h14m-4 -2h14m-2 2h14m-1 4h14m1 0h14m0 -1h14m-6 -5h14m-2 4h14m-4 -4h14m16 1h14m-7 3h14m1 -1h14m10 -1h14m-374 16h14m-1 -1h14m-2 0h14m-3 0h14m22 1h14m0 -1h14m-2 0h14m-5 -3h14m-3 4h14m0 -6h14m-4 6h14m2 -4h14m-8 0h14m2 1h14m11 -1h14m-4 3h14m0 0h14m-7 -2h14m-1 -2h14m3 0h14m-7 0h14m0 -1h14m-5 2h14m-2 0h14m4 3h14m-3 -2h14m-350 11h14m-3 3h14m-5 -3h14m13 2h14m7 -3h14m2 4h14m-6 -3h14m3 -2h14m-6 4h14m2 -3h14m-8 2h14m1 -1h14m13 3h14m-8 -4h14m4 -1h14m-4 6h14m-3 0h14m13 -1h14m-7 0h14m1 -2h14m-6 1h14m2 -3h14m0 2h14m-3 3h14m-6 0h14m3 -1h14m-8 1h14m-380 12h14m-8 -4h14m4 4h14m-5 -3h14m-5 0h14m3 0h14m21 2h14m-3 1h14m-2 -4h14m-4 0h14m-3 -1h14m2 3h14m0 -3h14m-7 -1h14m1 2h14m-2 1h14m-4 2h14m10 -5h14m11 3h14m-2 -1h14m-2 0h14m-5 1h14m1 3h14m1 -3h14m-6 2h14m-1 1h14m0 -6h14m-6 5h14m-381 7h14m-7 0h14m-1 2h14m-3 0h14m1 -1h14m-3 2h14m-1 1h14m-2 1h14m0 -5h14m-6 3h14m-3 0h14m0 0h14m-3 0h14m-3 3h14m-1 -4h14m-1 1h14m-4 -3h14m2 4h14m-7 1h14m-1 -5h14m-1 5h14m-1 -1h14m-5 2h14m-2 -4h14m-1 0h14m-2 4h14m2 -5h14m-5 4h14m2 -1h14m-6 -2h14m-1 -1h14m0 0h14m-3 3h14m-4 2h14m-412 8h14m0 -1h14m-3 2h14m-1 0h14m0 2h14m0 -5h14m9 6h14m-7 -3h14m1 -2h14m-3 4h14m1 -4h14m-2 5h14m-2 -6h14m-2 0h14m-7 5h14m1 -1h14m1 1h14m-3 -1h14m-3 -3h14m-5 0h14m2 2h14m-2 -2h14m-4 2h14m-4 2h14m1 -1h14m-6 -4h14m0 0h14m-1 1h14m-2 2h14m-1 3h14m-1 -2h14m6 1h14m-410 12h14m2 -3h14m-5 4h14m-2 -2h14m-1 -4h14m-4 2h14m-3 2h14m-2 -3h14m0 1h14m0 0h14m-4 3h14m-2 -5h14m-4 3h14m1 -3h14m-1 5h14m-4 -2h14m-4 -1h14m4 -2h14m-5 4h14m-1 -1h14m-5 3h14m-1 -6h14m-4 1h14m-2 1h14m1 3h14m-1 -2h14m-2 3h14m-3 -6h14m-4 1h14m-3 4h14m1 -2h14m-5 -2h14m0 4h14m1 -1h14m-7 -2h14m-407 11h14m-3 2h14m0 -1h14m-5 1h14m-3 2h14m0 -1h14m0 2h14m-1 -1h14m-3 1h14m-1 -4h14m-3 2h14m-3 -1h14m-2 -3h14m-1 4h14m-6 -1h14m1 0h14m1 2h14m-8 -5h14m-1 1h14m-2 3h14m-1 -3h14m0 2h14m-1 -1h14m-4 0h14m-1 4h14m0 -2h14m-5 -2h14m-2 0h14m-3 -1h14m-1 5h14m11 -4h14m-4 0h14m-2 -2h14m-588 18h14m155 -3h14m-6 0h14m1 -2h14m-4 4h14m1 -3h14m-1 0h14m10 -2h14m-3 6h14m-7 -2h14m4 -1h14m-6 2h14m-3 -3h14m-2 -2h14m1 0h14m-4 3h14m-4 -1h14m-1 0h14m-2 4h14m12 -6h14m1 6h14m-2 -1h14m-3 -1h14m-4 0h14m-4 1h14m-3 -1h14m-2 0h14m4 0h14m-4 2h14m-5 -1h14m-2 -4h14m-1 2h14m-3 3h14m-492 9h14m45 -1h14m-1 2h14m-4 -3h14m-3 1h14m0 2h14m2 0h14m-3 2h14m-2 -2h14m11 2h14m-4 -6h14m-3 4h14m0 -4h14m-6 2h14m2 2h14m-4 2h14m-4 -1h14m-3 -1h14m16 -1h14m-5 -1h14m-2 -2h14m-2 6h14m-2 -1h14m-1 -3h14m-3 0h14m13 3h14m-3 -2h14m-6 3h14m-1 -3h14m0 1h14m7 -4h14m-3 5h14m2 -3h14m-5 -1h14m-575 17h14m-2 0h14m103 -2h14m2 -1h14m-5 0h14m2 -1h14m-8 3h14m3 1h14m-4 0h14m-5 -6h14m3 5h14m9 0h14m-4 -3h14m14 2h14m-3 -4h14m-6 2h14m-3 -1h14m-1 1h14m-1 -2h14m0 0h14m-1 6h14m-4 0h14m-3 0h14m-3 -4h14m-1 0h14m0 1h14m20 2h14m10 1h14m-4 -5h14m-1 -1h14m-1 0h14m0 0h14m-6 5h14m-589 12h14m12 -2h14m1 2h14m-7 -2h14m9 2h14m-1 -2h14m62 -1h14m10 4h14m-2 -3h14m8 1h14m-3 -1h14m0 3h14m-5 -4h14m-3 -2h14m-1 4h14m3 0h14m-4 -1h14m-2 0h14m12 2h14m-7 -3h14m-2 0h14m3 -2h14m-3 5h14m-7 -2h14m3 1h14m-5 -4h14m0 3h14m-3 -2h14m0 1h14m-1 0h14m9 0h14m-4 1h14m-2 -1h14m-3 1h14m-3 2h14m3 -1h14m-7 -2h14m-552 15h14m-3 -3h14m0 0h14m-2 3h14m19 -2h14m3 0h14m-4 -1h14m-5 -2h14m-2 6h14m-1 -1h14m1 1h14m23 -1h14m-5 -4h14m24 2h14m-6 -3h14m2 6h14m-1 -1h14m-8 0h14m1 -1h14m1 2h14m5 0h14m1 -5h14m11 -1h14m-5 1h14m-1 2h14m-1 1h14m-2 0h14m-2 1h14m-1 0h14m-7 -2h14m0 0h14m1 -3h14m-2 0h14m5 5h14m1 1h14m-2 -1h14m-5 -5h14m4 3h14m-560 9h14m0 1h14m-1 -1h14m-4 3h14m2 1h14m-3 -3h14m-5 2h14m14 -2h14m-2 -1h14m-7 0h14m3 2h14m-5 4h14m14 -3h14m-7 2h14m-1 -1h14m12 -2h14m-3 -1h14m-2 -1h14m9 1h14m22 -1h14m-3 6h14m1 -5h14m-3 2h14m-1 0h14m-6 -3h14m2 1h14m-4 0h14m0 2h14m0 0h14m-4 1h14m0 -3h14m31 2h14m-4 -2h14m26 -1h14m-6 0h14m-555 12h14m-1 0h14m2 0h14m-5 2h14m0 4h14m-1 -6h14m11 3h14m-4 0h14m6 -3h14m12 1h14m1 1h14m-2 2h14m-6 2h14m-3 0h14m1 -4h14m-4 -1h14m0 2h14m0 1h14m18 0h14m14 0h14m6 -2h14m14 -1h14m-3 -1h14m-1 4h14m-7 -2h14m-1 3h14m25 -2h14m-4 2h14m1 -5h14m10 1h14m-7 5h14m2 -2h14m-3 -1h14m-4 0h14m-515 13h14m8 -3h14m-4 0h14m-1 4h14m-1 -1h14m-2 -4h14m22 0h14m12 3h14m-3 -2h14m-5 3h14m0 -2h14m-4 4h14m0 -2h14m0 -4h14m9 2h14m11 3h14m-6 -2h14m14 -1h14m-1 2h14m-5 -4h14m-3 2h14m-2 -1h14m-1 0h14m2 3h14m-4 -1h14m10 -2h14m9 0h14m8 5h14m-2 -2h14m3 1h14m-7 -5h14m23 3h14m-532 11h14m75 3h14m-2 -3h14m10 -1h14m-6 0h14m-1 2h14m-1 -1h14m22 -1h14m1 3h14m-5 0h14m1 -2h14m9 1h14m-3 2h14m-2 -1h14m0 -2h14m-8 1h14m-2 -1h14m0 -2h14m2 6h14m6 -1h14m1 -5h14m10 3h14m19 -2h14m-4 4h14m10 0h14m10 -1h14m-361 9h14m-1 2h14m-2 3h14m23 -6h14m-5 5h14m2 -1h14m-3 -4h14m0 2h14m7 0h14m2 -1h14m-2 2h14m-7 -1h14m14 0h14m22 2h14m6 -1h14m-350 24h14" stroke="#e0e0e0" stroke-width="14" fill="none"/>
<path transform="scale(0.1)" d="M3077 770h14m2 -5h14m20 0h14m12 0h14m-84 15h14m-2 0h14m65 -3h14m-2 2h14m-133 16h14m33 -3h14m0 -1h14m0 4h14m9 -4h14m-1 -1h14m7 0h14m-4 4h14m-157 11h14m2 1h14m-1 -1h14m-7 -3h14m-3 4h14m-1 -4h14m13 4h14m0 0h14m-6 -5h14m10 2h14m-111 13h14m1 -2h14m-3 2h14m-2 -1h14m19 0h14m2 -1h14m-2 4h14m-137 7h14m11 3h14m24 1h14m21 1h14m-3 -1h14m-2 -4h14m-134 14h14m9 0h14m-3 2h14m3 0h14m-7 0h14m11 -3h14m3 1h14m-127 12h14m10 0h14m22 0h14m3 4h14m-2 -1h14m-3 -5h14m8 5h14m-123 11h14m9 -3h14m2 5h14m-3 0h14m-6 -2h14m3 -3h14m6 3h14m1 -1h14m-4 -1h14m-135 15h14m0 0h14m-1 -4h14m34 5h14m-3 -1h14m7 1h14m3 0h14m-170 9h14m11 -2h14m-3 -1h14m-3 4h14m-3 -3h14m13 5h14m-4 -5h14m-2 0h14m-1 2h14m9 -1h14m-97 12h14" stroke="#e0e0e0" stroke-width="14" fill="none"/>
<path transform="scale(0.1)" d="M3327 710h14m-112 38h14m-2 3h14m10 -3h14m8 -1h14m-4 2h14m34 -1h14m0 -2h14m21 5h14m15 -3h14m-206 13h14m-4 2h14m9 -4h14m0 1h14m32 2h14m-3 -1h14m35 1h14m-1 -2h14m-5 0h14m-192 10h14m7 -1h14m-2 6h14m3 -3h14m-4 2h14m-5 -2h14m11 0h14m1 -2h14m7 1h14m-1 4h14m-3 -2h14m0 -4h14m-5 1h14m0 3h14m-159 10h14m9 -1h14m36 4h14m2 -3h14m-8 0h14m15 1h14m-7 -2h14m4 3h14m-6 -1h14m-215 10h14m-5 -1h14m-2 6h14m2 -4h14m7 2h14m44 -3h14m0 3h14m7 -4h14m0 6h14m1 -2h14m-4 -4h14m0 3h14m-206 11h14m5 1h14m40 -2h14m8 3h14m-1 -3h14m-3 3h14m0 -2h14m10 -2h14m-6 2h14m0 4h14m-4 -1h14m-4 -3h14m-201 16h14m8 -6h14m8 5h14m15 -2h14m-2 3h14m-7 -4h14m23 -2h14m-1 2h14m13 -2h14m-3 6h14m-7 -5h14m-212 12h14m4 0h14m34 5h14m2 -3h14m-6 -3h14m0 0h14m22 6h14m1 -5h14m-1 1h14m-5 0h14m-5 3h14m3 -4h14m-235 15h14m2 1h14m-4 -1h14m1 1h14m-3 1h14m-4 -4h14m0 -1h14m7 5h14m1 0h14m-2 0h14m-2 0h14m-4 -3h14m1 2h14m-3 -4h14m-2 2h14m-4 -1h14m-206 13h14m12 -2h14m-1 3h14m-1 -2h14m7 4h14m0 -6h14m21 2h14m-1 -1h14m-3 2h14m9 -2h14m-5 4h14m0 -5h14m1 2h14m-4 2h14m-232 13h14m14 -2h14m-2 -3h14m35 2h14m-4 4h14m-6 0h14m-1 -4h14m-1 -2h14m-4 6h14m23 -4h14m-141 10h14m78 0h14m-4 3h14m2 -3h14m21 2h14m-220 11h14m219 16h14" stroke="#e0e0e0" stroke-width="14" fill="none"/>
<path transform="scale(0.1)" d="M3503 542h14m-112 23h14m63 -2h14m-140 21h14m0 3h14m2 -2h14m18 2h14m9 1h14m-107 14h14m-2 -5h14m-1 1h14m-4 -1h14m0 4h14m-1 -1h14m9 -4h14m-6 3h14m3 3h14m-2 -2h14m-126 9h14m-1 4h14m-1 -5h14m-5 6h14m-3 -2h14m2 -1h14m-1 1h14m-6 -3h14m1 2h14m-122 14h14m-3 -1h14m-3 1h14m-2 -3h14m-3 4h14m-1 -5h14m-2 4h14m12 -1h14m-2 -4h14m-97 12h14m-2 1h14m-3 5h14m7 -1h14m0 -3h14m-3 0h14m2 0h14m-5 -2h14m-133 12h14m-1 0h14m-6 1h14m1 4h14m-1 1h14m-4 0h14m-5 -3h14m4 3h14m-6 -4h14m-4 1h14m4 0h14m-2 3h14m-152 7h14m-2 1h14m0 4h14m1 -6h14m-1 4h14m-4 2h14m-2 -3h14m8 0h14m-2 3h14m-132 7h14m8 1h14m2 4h14m-7 -1h14m1 0h14m36 -2h14m-7 -2h14m2 1h14m-7 0h14m12 0h14m-184 12h14m25 2h14m8 2h14m9 -1h14m2 -4h14m10 1h14m-6 0h14m-74 11h14m1 3h14m10 1h14m-76 7h14m-69 13h14" stroke="#c59c92" stroke-width="14" fill="none"/>
<path transform="scale(0.1)" d="M2909 304h15m35 1h15m21 -1h15m-3 1h15m8 -1h15m-102 10h15m1 3h15m-6 -3h15m-6 -3h15m2 1h15m-6 4h15m-2 -4h15m-4 -1h15m-121 13h15m-6 4h15m-1 -2h15m-2 3h15m-1 -5h15m-3 0h15m-4 2h15m-8 0h15m-1 -1h15m1 -1h15m-116 12h15m1 5h15m-4 -2h15m-7 -1h15m1 0h15m-4 -1h15m-3 3h15m0 1h15m-7 -3h15m-124 9h15m-4 1h15m3 -1h15m-5 2h15m-7 3h15m-3 -2h15m3 0h15m-6 -3h15m-3 1h15m-1 -1h15m-139 18h15m-2 -6h15m-2 4h15m-1 -3h15m-6 1h15m1 1h15m-8 -1h15m2 3h15m-8 -3h15m0 3h15m-4 -2h15m-102 12h15m0 1h15m0 -1h15m3 3h15m1 -6h15m-7 4h15m2 -4h15m-111 15h15m-3 1h15m-8 -2h15m-2 2h15m-4 0h15m2 -2h15m-4 0h15m-4 -2h15m-86 17h15m-63 8h15" stroke="#9c4ef2" stroke-width="15" fill="none"/>
<path transform="scale(0.1)" d="M2894 422h15m-5 -3h15m0 -1h15m-6 3h15m-1 1h15m-8 -1h15m2 -3h15m-4 2h15m-6 4h15m-131 8h15m-5 0h15m-4 -2h15m-2 6h15m-4 -4h15m-4 2h15m-2 -1h15m-4 -2h15m1 4h15m-7 1h15m-131 10h15m-8 -3h15m-3 5h15m1 -2h15m-6 1h15m-4 -5h15m0 5h15m-2 -3h15m-5 4h15m13 -4h15m-7 4h15m-123 9h15m22 0h15m-4 -1h15m0 2h15m-2 -1h15m-5 -2h15m-3 3h15m-6 1h15m-135 11h15m14 -1h15m-4 -3h15m-3 0h15m-3 2h15m-7 4h15m0 -2h15m-6 2h15m-2 -3h15m-1 2h15m-149 7h15m0 3h15m-2 -3h15m-9 4h15m3 -4h15m-8 0h15m-1 6h15m-1 -6h15m-5 2h15m-5 -1h15m-2 4h15m-3 -5h15m-134 14h15m-6 0h15m27 -1h15m-3 -1h15m-8 3h15m-2 -3h15m0 4h15m-5 -1h15m-1 0h15m-5 0h15m0 0h15m-171 11h15m-4 4h15m-5 -2h15m-1 -3h15m-3 1h15m10 3h15m-4 0h15m-6 -1h15m-5 -3h15m2 -1h15m-2 2h15m-6 2h15m-162 10h15m-1 0h15m12 3h15m18 -1h15m-1 2h15m-6 0h15m-1 -1h15m0 1h15m-5 -1h15m-1 -4h15m-8 5h15m-3 -2h15m-158 14h15m-1 -1h15m11 0h15m-3 -2h15m-6 1h15m-1 2h15m-7 -2h15m-3 0h15m2 -3h15m-9 0h15m-159 17h15m-1 -4h15m-4 -1h15m0 4h15m7 -5h15m8 6h15m1 -3h15m-6 -1h15m-3 -2h15m-1 3h15m-6 3h15m-159 7h15m1 3h15m-7 -2h15m23 -1h15m-1 0h15m-5 1h15m-4 3h15m-4 -3h15m-1 0h15m-5 -1h15m-3 5h15m-4 -2h15m-168 9h15m-1 5h15m-4 -5h15m-2 4h15m-6 0h15m0 -3h15m-2 1h15m9 -3h15m-8 5h15m0 0h15m-125 12h15m0 -4h15m-5 5h15m-2 -1h15m-3 1h15m19 -3h15m11 -2h15m-5 5h15m1 -5h15m-140 14h15m1 3h15m-5 -5h15m0 2h15m-4 1h15m-6 -4h15m-1 1h15m-3 2h15m-6 3h15m0 -1h15m-4 -4h15m-124 16h15m-3 1h15m-1 0h15m-3 -2h15m-1 -1h15m-8 3h15m-2 -6h15m-5 2h15m-3 -2h15m-2 4h15m-110 10h15m0 3h15m-8 -5h15m1 4h15m-4 -3h15m-2 2h15m6 -2h15m-100 17h15m-3 -5h15m15 3h15m7 0h15m-1 -2h15m-57 12h15" stroke="#9c4ef2" stroke-width="15" fill="none"/>
<path transform="scale(0.1)" d="M3058 368h15m-38 11h15m32 -5h15m0 6h15m-3 -5h15m-5 -1h15m-110 18h15m-3 -5h15m-7 1h15m-2 0h15m-2 2h15m1 -1h15m-5 3h15m-7 0h15m2 -1h15m-116 11h15m0 1h15m-5 -3h15m0 0h15m-1 -1h15m-9 -1h15m-1 0h15m-3 0h15m-5 1h15m-3 2h15m-118 10h15m-5 1h15m0 4h15m-4 -6h15m-4 6h15m-1 -2h15m-5 -3h15m-1 3h15m-7 -2h15m1 2h15m-3 -1h15m-141 9h15m1 4h15m-6 -4h15m-2 3h15m-2 2h15m-3 -4h15m-2 -1h15m-7 6h15m15 -6h15m-9 0h15m-2 4h15m-142 12h15m-3 1h15m-6 -5h15m-4 5h15m-3 -4h15m-1 4h15m-4 -5h15m-3 1h15m-4 5h15m1 -2h15m-6 -1h15m-5 2h15m-148 11h15m-1 -4h15m9 0h15m-3 0h15m-4 1h15m1 3h15m-4 -4h15m-1 3h15m-7 -2h15m12 3h15m-139 14h15m-2 0h15m-3 -6h15m-3 5h15m-5 0h15m-2 -1h15m0 -2h15m-1 4h15m-6 0h15m0 0h15m-3 -4h15m-9 3h15m-156 11h15m-1 0h15m-8 -3h15m3 0h15m4 2h15m-1 -2h15m7 3h15m2 1h15m-7 -3h15m-2 0h15m-1 0h15m8 1h15m-187 14h15m14 -3h15m4 -1h15m15 3h15m-7 -2h15m-1 1h15m-7 0h15m-1 -3h15m-1 3h15m-4 2h15m-2 -3h15m-162 14h15m-4 1h15m2 -3h15m-4 2h15m10 -4h15m-3 4h15m-6 0h15m10 2h15m0 -3h15m-5 1h15m-1 1h15m-6 -2h15m-3 -1h15m-197 10h15m0 3h15m-1 -1h15m-6 0h15m0 2h15m-6 -1h15m0 3h15m-8 0h15m2 -5h15m-3 1h15m-3 -1h15m-7 4h15m-1 -3h15m5 4h15m-179 12h15m-2 -3h15m-6 2h15m1 -2h15m-5 -3h15m-4 3h15m-3 -2h15m-6 1h15m-3 2h15m1 -2h15m-6 -1h15m-1 5h15m-2 -4h15m-2 1h15m-2 3h15m-225 7h15m33 2h15m3 3h15m-9 -3h15m1 1h15m7 -3h15m-1 0h15m-3 5h15m-6 -2h15m-2 -4h15m-1 5h15m19 0h15m-185 11h15m3 -1h15m6 2h15m-1 -2h15m-2 -3h15m-7 6h15m1 -1h15m-6 -2h15m-1 0h15m-3 -2h15m-7 2h15m9 0h15m9 3h15m-182 8h15m-2 -2h15m-2 0h15m-7 6h15m-2 -4h15m-2 2h15m-2 -3h15m-3 1h15m-6 3h15m2 1h15m-5 -6h15m-5 2h15m-3 -2h15m-167 16h15m-5 -2h15m-2 4h15m-4 -4h15m8 1h15m0 1h15m-4 -4h15m-1 3h15m6 3h15m-2 -2h15m-5 1h15m-3 -2h15m-5 -3h15m0 3h15m-4 2h15m-207 7h15m-3 3h15m1 -1h15m-6 -1h15m20 5h15m-2 -2h15m-2 -3h15m-5 -1h15m-2 2h15m-5 -2h15m0 5h15m-7 1h15m3 -6h15m-9 1h15m3 0h15m-184 15h15m-4 -1h15m8 -2h15m0 4h15m-8 -4h15m1 1h15m-8 2h15m2 -3h15m-2 5h15m4 -5h15m-4 0h15m9 5h15m-183 11h15m-1 -5h15m21 2h15m-3 4h15m-4 -5h15m-2 2h15m-4 -3h15m1 3h15m7 0h15m-159 9h15m-3 5h15m-5 -4h15m-2 4h15m-4 -5h15m0 1h15m-7 2h15m-2 1h15m-2 -1h15m-4 -2h15m-1 3h15m-1 -1h15m-3 2h15m-6 0h15m0 1h15m-5 -1h15m-206 7h15m-2 5h15m-5 -1h15m-4 -1h15m-5 -3h15m0 0h15m-6 5h15m3 1h15m-3 -2h15m-4 1h15m-5 -1h15m-6 -1h15m3 0h15m-4 3h15m-3 -5h15m-6 5h15m1 -6h15m-207 17h15m3 0h15m1 -5h15m-7 3h15m0 2h15m-3 -1h15m-5 -4h15m-2 2h15m-1 3h15m-3 -4h15m-1 5h15m-3 -3h15m-7 0h15m-5 0h15m12 -3h15m11 6h15m-270 8h15m60 0h15m8 -2h15m-6 0h15m-4 6h15m1 -1h15m-3 -4h15m-2 1h15m-8 -2h15m1 2h15m-6 -2h15m-4 2h15m-1 4h15m-1 -2h15m-122 9h15m-3 -1h15m-2 0h15m-6 6h15m-3 -4h15m-6 0h15m21 1h15m9 -1h15m-135 16h15m72 -1h15m-29 19h15" stroke="#9c4ef2" stroke-width="15" fill="none"/>
<path transform="scale(0.1)" d="M2928 598h14m130 21h14m-140 14h14m-56 9h14m20 0h14m8 2h14m-2 -2h14m-1 0h14m49 2h14m-5 1h14m0 0h14m-6 2h14m95 -3h14m-275 11h14m114 4h14m1 -1h14m79 -4h14m-216 16h14m32 0h14m75 -3h14m-5 -2h14m8 0h14m50 2h14m-259 14h14m12 -3h14m13 2h14m19 1h14m-3 2h14m-2 -6h14m21 0h14m12 3h14m-4 2h14m26 1h14m-6 -5h14m-224 11h14m-6 1h14m13 2h14m9 -3h14m12 3h14m-3 1h14m5 -3h14m3 3h14m31 1h14m-178 11h14m10 -4h14m-4 6h14m22 -4h14m11 2h14m22 -4h14m-1 2h14m5 2h14m22 -2h14m1 4h14m-192 9h14m57 3h14m30 -5h14m34 3h14m3 0h14m-123 13h14m43 1h14m25 -2h14m-137 12h14m-22 33h14" stroke="#9c4ef2" stroke-width="14" fill="none"/>
<path transform="scale(0.1)" d="M3263 191h14m20 -2h14m-76 13h14m0 -1h14m0 -2h14m12 4h14m-3 -3h14m-100 15h14m13 -1h14m-4 -3h14m-1 1h14m19 -2h14m11 2h14m-3 -2h14m-133 15h14m10 -1h14m-1 2h14m8 -4h14m-1 0h14m-1 4h14m-1 1h14m-5 -4h14m9 -2h14m1 2h14m-161 11h14m48 4h14m32 -2h14m9 0h14m16 -1h14m21 3h14m-195 11h14m-6 0h14m26 -2h14m21 3h14m10 -4h14m117 0h14m-303 16h14m14 -5h14m5 6h14m2 0h14m0 -2h14m-8 -4h14m73 1h14m19 5h14m12 -4h14m-303 11h14m12 2h14m24 2h14m-6 -2h14m3 1h14m-7 -4h14m26 5h14m-6 0h14m95 -2h14m1 -3h14m7 4h14m8 -1h14m-272 13h14m33 -2h14m21 1h14m20 -1h14m25 -1h14m53 2h14m4 3h14m-8 -5h14m27 3h14m-342 8h14m21 3h14m22 3h14m50 -3h14m-4 -3h14m69 0h14m11 4h14m-267 8h14m26 1h14m20 2h14m1 -2h14m31 5h14m7 -4h14m27 1h14m19 1h14m10 2h14m0 0h14m33 -6h14m-325 12h14m72 6h14m-8 -1h14m2 -2h14m-2 2h14m-4 -5h14m-4 4h14m15 -2h14m56 4h14m19 0h14m11 -2h14m-303 11h14m2 -3h14m10 1h14m18 5h14m10 -2h14m-2 2h14m3 -3h14m6 3h14m3 -4h14m19 -1h14m-1 2h14m11 -2h14m21 4h14m7 -2h14m0 2h14m-3 1h14m-334 9h14m9 0h14m32 -2h14m49 2h14m-2 -2h14m19 1h14m-3 -1h14m10 1h14m24 -2h14m12 3h14m-6 -2h14m-288 12h14m-1 3h14m21 -2h14m23 1h14m6 3h14m3 -5h14m10 0h14m-5 4h14m11 -5h14m12 6h14m-4 -4h14m22 -2h14m-6 6h14m10 -6h14m16 2h14m69 2h14m-389 12h14m2 0h14m-2 -3h14m-3 1h14m-4 4h14m56 -6h14m39 5h14m7 -3h14m13 3h14m-4 -1h14m-245 9h14m12 -1h14m1 5h14m32 -1h14m-4 2h14m-1 -6h14m24 1h14m-4 0h14m-2 -1h14m32 1h14m-2 4h14m0 -3h14m-4 0h14m-1 -2h14m9 2h14m-299 12h14m-1 -2h14m8 2h14m13 0h14m33 -1h14m-7 -1h14m1 2h14m24 2h14m-4 -2h14m0 2h14m7 0h14m48 -4h14m-6 1h14m12 -1h14m-238 13h14m7 0h14m34 3h14m10 -2h14m12 3h14m7 -3h14m-1 3h14m1 -1h14m10 -4h14m-8 0h14m35 3h14m-191 10h14m12 0h14m-3 4h14m-2 -2h14m-2 1h14m7 -3h14m11 1h14m1 0h14m-8 4h14m-69 11h14m9 -4h14m78 2h14m-2 -2h14m-358 13h14m203 2h14m5 0h14m1 -1h14m20 0h14m-81 11h14m-4 1h14m-1 0h14m34 1h14m21 2h14m-6 -5h14m4 -1h14m-7 1h14m-109 15h14m-3 2h14m-35 10h14m10 1h14m9 -2h14m10 -3h14m-4 6h14m27 -2h14m-146 12h14m-8 1h14m48 1h14m9 -6h14m-57 17h14m6 0h14m14 -3h14m-3 3h14m17 -2h14m-153 14h14m35 -3h14m-7 0h14m-2 1h14m11 -1h14m-22 10h14m-4 2h14m0 0h14m-8 3h14m2 -1h14m-134 13h14m23 -5h14m8 6h14m20 -4h14m0 0h14m11 -2h14m-137 13h14m3 -1h14m-8 5h14m4 -5h14m-50 13h14m19 2h14m0 -3h14m-4 6h14m-52 9h14m-36 15h14m44 -5h14" stroke="#0808f8" stroke-width="14" fill="none"/>
<path transform="scale(0.1)" d="M3498 359h14m-60 44h14m-5 4h14m13 -2h14m-8 -4h14m11 6h14m-3 -3h14m-96 10h14m-2 4h14m2 -5h14m-7 6h14m15 -4h14m-5 0h14m-4 1h14m-84 11h14m1 -2h14m-5 1h14m-4 2h14m0 1h14m-61 13h14m-4 0h14m1 0h14m-2 0h14m-2 1h14m-5 0h14m-1 -5h14m-4 4h14m-87 11h14m1 -4h14m0 4h14m-4 -4h14m-72 17h14m29 -5h14m-2 5h14m0 -3h14m1 0h14m-103 14h14m1 0h14m21 -1h14m24 -1h14m-1 1h14m-113 15h14m-2 -2h14m-3 2h14m13 -1h14m-6 -2h14m15 -1h14m-76 10h14m35 5h14m-2 -2h14m-5 -1h14m0 2h14m-125 11h14m3 0h14m-7 1h14m2 1h14m21 -2h14m8 -3h14m-110 18h14m0 0h14m-3 -4h14m-1 1h14m0 -1h14m7 0h14m11 1h14m-99 10h14m-3 -1h14m25 3h14m-6 -1h14m15 4h14m-122 9h14m-1 -1h14m-6 -2h14m26 0h14m-4 6h14m0 -1h14m-74 10h14m-8 2h14m-1 -3h14m-2 4h14m-46 7h14m-5 2h14m2 3h14m-8 -1h14" stroke="#0808f8" stroke-width="14" fill="none"/>
<path transform="scale(0.1)" d="M3152 355h14m24 7h14m-32 18h14m1 -4h14m-2 4h14m-3 -4h14m-4 -1h14m4 5h14m-78 10h14m-1 -2h14m-5 0h14m2 1h14m-5 -3h14m3 0h14m-74 16h14m-7 0h14m-1 1h14m-2 -3h14m8 -2h14m-60 17h14m-2 0h14m0 -4h14m9 1h14m-61 10h14m7 1h14m-60 17h14m68 7h14m-81 25h14" stroke="#c59c92" stroke-width="14" fill="none"/>
<path transform="scale(0.1)" d="M3243 719h14m-4 -3h14m-25 16h14m-1 0h14m1 -1h14m-4 0h14m-5 -3h14m-58 16h14m-5 0h14m-2 1h14m-2 -4h14" stroke="#2d6914" stroke-width="14" fill="none"/>
<path transform="scale(0.1)" d="M3084 751h14m82 27h14m-98 13h14m22 -1h14m-5 -2h14m-47 10h14m-6 1h14m1 -1h14m-6 -1h14m-2 3h14m-3 -3h14m-80 14h14m-4 4h14m-6 -4h14m-2 3h14m3 -2h14m-4 -3h14m0 2h14m-6 0h14m-84 11h14m-2 3h14m-5 0h14m-1 2h14m0 -3h14m-4 -1h14m-85 11h14m8 3h14m3 -1h14m-2 3h14m-5 -1h14m0 -1h14m0 -1h14m-98 13h14m-3 1h14m-5 -3h14m0 2h14m-2 -3h14m0 2h14m9 2h14m-87 7h14m-2 0h14m-4 2h14m1 3h14m-4 1h14m1 -5h14m-7 0h14m-85 11h14m-2 0h14m-4 1h14m2 4h14m-2 0h14m-61 10h14" stroke="#f7922a" stroke-width="14" fill="none"/>
<path transform="scale(0.1)" d="M3351 708h14m52 1h14m-84 27h14m-35 24h14m9 0h14m-2 -2h14m6 -2h14m3 3h14m-4 1h14m-101 9h14m1 -1h14m-2 1h14m0 3h14m-5 -1h14m-1 -4h14m-5 1h14m3 0h14m-110 15h14m20 -4h14m0 2h14m-6 0h14m2 2h14m-3 -3h14m-5 1h14m-108 10h14m-2 1h14m-5 1h14m1 2h14m-2 0h14m0 -2h14m-2 -1h14m-4 3h14m-5 0h14m-105 13h14m-4 -1h14m-1 0h14m0 -1h14m-8 0h14m1 -1h14m-5 4h14m1 0h14m-1 -2h14m-112 10h14m2 0h14m-7 4h14m3 -4h14m-3 4h14m-2 -3h14m-7 0h14m-1 2h14m0 -5h14m-108 17h14m-6 -3h14m-3 1h14m0 3h14m-3 -2h14m-1 -4h14m-3 4h14m-1 -2h14m-1 0h14m-98 10h14m-2 6h14m-3 -3h14m-3 1h14m3 -1h14m-6 -2h14m-58 15h14m-2 -4h14m-6 2h14m-2 0h14m-1 3h14m-52 9h14m-3 -2h14" stroke="#f81010" stroke-width="14" fill="none"/>
<text x="55.50" y="103.50" font-size="6.0" text-anchor="middle" font-weight="bold" fill="#1a1a1a" stroke="#1a1a1a" stroke-width="0.1">t-SNE1</text>
<text x="9.90" y="53.00" font-size="6.0" text-anchor="middle" font-weight="bold" fill="#1a1a1a" stroke="#1a1a1a" stroke-width="0.1" transform="rotate(-90 9.9 53.0)">t-SNE2</text>
<rect x="97.30" y="99.20" width="5.50" height="5.50" fill="#f7922a" stroke="none" stroke-width="0.8"/>
<text x="103.50" y="104.50" font-size="6.2" text-anchor="start" font-weight="bold" fill="#1a1a1a" stroke="#1a1a1a" stroke-width="0.1">CD4+</text>
<rect x="122.80" y="99.20" width="5.50" height="5.50" fill="#f81010" stroke="none" stroke-width="0.8"/>
<text x="129.00" y="104.50" font-size="6.2" text-anchor="start" font-weight="bold" fill="#1a1a1a" stroke="#1a1a1a" stroke-width="0.1">CD8+</text>
<rect x="149.00" y="99.20" width="5.50" height="5.50" fill="#2d6914" stroke="none" stroke-width="0.8"/>
<text x="155.20" y="104.50" font-size="6.2" text-anchor="start" font-weight="bold" fill="#1a1a1a" stroke="#1a1a1a" stroke-width="0.1">NK+</text>
<rect x="174.00" y="99.20" width="5.50" height="5.50" fill="#0808f8" stroke="none" stroke-width="0.8"/>
<text x="180.20" y="104.50" font-size="6.2" text-anchor="start" font-weight="bold" fill="#1a1a1a" stroke="#1a1a1a" stroke-width="0.1">TAMs</text>
<rect x="201.30" y="99.20" width="5.50" height="5.50" fill="#9c4ef2" stroke="none" stroke-width="0.8"/>
<text x="207.50" y="104.50" font-size="6.2" text-anchor="start" font-weight="bold" fill="#1a1a1a" stroke="#1a1a1a" stroke-width="0.1">MDSCs</text>
<rect x="232.10" y="99.20" width="5.50" height="5.50" fill="#c59c92" stroke="none" stroke-width="0.8"/>
<text x="238.30" y="104.50" font-size="6.2" text-anchor="start" font-weight="bold" fill="#1a1a1a" stroke="#1a1a1a" stroke-width="0.1">DCs</text>
<rect x="256.00" y="99.20" width="5.50" height="5.50" fill="#cfcfcf" stroke="none" stroke-width="0.8"/>
<text x="262.20" y="104.50" font-size="6.2" text-anchor="start" font-weight="bold" fill="#1a1a1a" stroke="#1a1a1a" stroke-width="0.1">Others</text>
<text x="2.20" y="120.20" font-size="8.6" text-anchor="start" font-weight="bold" fill="#1a1a1a" stroke="#1a1a1a" stroke-width="0.1">B</text>
<text x="51.90" y="115.40" font-size="6.3" text-anchor="middle" font-weight="bold" fill="#1a1a1a" stroke="#1a1a1a" stroke-width="0.1">CD45+</text>
<line x1="21.20" y1="122.80" x2="21.20" y2="195.00" stroke="#222" stroke-width="0.8"/>
<line x1="19.00" y1="194.80" x2="21.20" y2="194.80" stroke="#222" stroke-width="0.7"/>
<text x="18.40" y="196.80" font-size="5.6" text-anchor="end" font-weight="bold" fill="#222" stroke="#222" stroke-width="0.1">0</text>
<line x1="19.00" y1="180.46" x2="21.20" y2="180.46" stroke="#222" stroke-width="0.7"/>
<text x="18.40" y="182.46" font-size="5.6" text-anchor="end" font-weight="bold" fill="#222" stroke="#222" stroke-width="0.1">20</text>
<line x1="19.00" y1="166.12" x2="21.20" y2="166.12" stroke="#222" stroke-width="0.7"/>
<text x="18.40" y="168.12" font-size="5.6" text-anchor="end" font-weight="bold" fill="#222" stroke="#222" stroke-width="0.1">40</text>
<line x1="19.00" y1="151.78" x2="21.20" y2="151.78" stroke="#222" stroke-width="0.7"/>
<text x="18.40" y="153.78" font-size="5.6" text-anchor="end" font-weight="bold" fill="#222" stroke="#222" stroke-width="0.1">60</text>
<line x1="19.00" y1="137.44" x2="21.20" y2="137.44" stroke="#222" stroke-width="0.7"/>
<text x="18.40" y="139.44" font-size="5.6" text-anchor="end" font-weight="bold" fill="#222" stroke="#222" stroke-width="0.1">80</text>
<line x1="19.00" y1="123.10" x2="21.20" y2="123.10" stroke="#222" stroke-width="0.7"/>
<text x="18.40" y="125.10" font-size="5.6" text-anchor="end" font-weight="bold" fill="#222" stroke="#222" stroke-width="0.1">100</text>
<line x1="21.20" y1="194.80" x2="86.60" y2="194.80" stroke="#222" stroke-width="0.8"/>
<line x1="32.70" y1="194.80" x2="32.70" y2="196.80" stroke="#222" stroke-width="0.6"/>
<line x1="46.30" y1="194.80" x2="46.30" y2="196.80" stroke="#222" stroke-width="0.6"/>
<line x1="60.00" y1="194.80" x2="60.00" y2="196.80" stroke="#222" stroke-width="0.6"/>
<line x1="74.00" y1="194.80" x2="74.00" y2="196.80" stroke="#222" stroke-width="0.6"/>
<path d="M27.50 194.80V151.50H37.90V194.80" fill="none" stroke="#111111" stroke-width="1.2"/>
<path d="M41.10 194.80V156.40H51.50V194.80" fill="none" stroke="#1a1aff" stroke-width="1.2"/>
<path d="M54.80 194.80V151.50H65.20V194.80" fill="none" stroke="#b35ee8" stroke-width="1.2"/>
<path d="M68.80 194.80V145.10H79.20V194.80" fill="none" stroke="#ff1f1f" stroke-width="1.2"/>
<circle cx="32.70" cy="149.90" r="1.62" fill="#111111"/>
<rect x="27.71" y="151.00" width="2.99" height="2.99" fill="#111111"/>
<rect x="34.71" y="151.00" width="2.99" height="2.99" fill="#111111"/>
<circle cx="32.70" cy="155.50" r="1.62" fill="#111111"/>
<rect x="31.21" y="159.50" width="2.99" height="2.99" fill="#111111"/>
<rect x="31.21" y="164.50" width="2.99" height="2.99" fill="#111111"/>
<line x1="32.70" y1="149.10" x2="32.70" y2="158.80" stroke="#111111" stroke-width="0.9"/>
<line x1="30.30" y1="149.10" x2="35.10" y2="149.10" stroke="#111111" stroke-width="0.9"/>
<line x1="30.30" y1="158.80" x2="35.10" y2="158.80" stroke="#111111" stroke-width="0.9"/>
<polygon points="46.30,148.99 48.12,152.27 44.48,152.27" fill="#1a1aff" stroke="none" stroke-width="0.5"/>
<polygon points="43.80,152.59 45.62,155.87 41.98,155.87" fill="#1a1aff" stroke="none" stroke-width="0.5"/>
<polygon points="48.80,152.59 50.62,155.87 46.98,155.87" fill="#1a1aff" stroke="none" stroke-width="0.5"/>
<polygon points="46.30,153.89 48.12,157.17 44.48,157.17" fill="#1a1aff" stroke="none" stroke-width="0.5"/>
<polygon points="42.30,154.29 44.12,157.56 40.48,157.56" fill="#1a1aff" stroke="none" stroke-width="0.5"/>
<polygon points="50.30,154.29 52.12,157.56 48.48,157.56" fill="#1a1aff" stroke="none" stroke-width="0.5"/>
<line x1="46.30" y1="152.00" x2="46.30" y2="159.50" stroke="#1a1aff" stroke-width="0.9"/>
<line x1="43.90" y1="152.00" x2="48.70" y2="152.00" stroke="#1a1aff" stroke-width="0.9"/>
<line x1="43.90" y1="159.50" x2="48.70" y2="159.50" stroke="#1a1aff" stroke-width="0.9"/>
<polygon points="56.20,147.11 58.02,143.83 54.38,143.83" fill="#b35ee8" stroke="none" stroke-width="0.5"/>
<polygon points="60.00,147.11 61.82,143.83 58.18,143.83" fill="#b35ee8" stroke="none" stroke-width="0.5"/>
<polygon points="63.80,147.11 65.62,143.83 61.98,143.83" fill="#b35ee8" stroke="none" stroke-width="0.5"/>
<polygon points="60.00,151.41 61.82,148.13 58.18,148.13" fill="#b35ee8" stroke="none" stroke-width="0.5"/>
<polygon points="60.00,153.91 61.82,150.63 58.18,150.63" fill="#b35ee8" stroke="none" stroke-width="0.5"/>
<polygon points="60.00,173.51 61.82,170.23 58.18,170.23" fill="#b35ee8" stroke="none" stroke-width="0.5"/>
<line x1="60.00" y1="141.90" x2="60.00" y2="162.00" stroke="#b35ee8" stroke-width="0.9"/>
<line x1="57.60" y1="141.90" x2="62.40" y2="141.90" stroke="#b35ee8" stroke-width="0.9"/>
<line x1="57.60" y1="162.00" x2="62.40" y2="162.00" stroke="#b35ee8" stroke-width="0.9"/>
<circle cx="74.00" cy="131.40" r="1.62" fill="#ff1f1f"/>
<circle cx="70.00" cy="145.10" r="1.62" fill="#ff1f1f"/>
<circle cx="72.50" cy="145.10" r="1.62" fill="#ff1f1f"/>
<circle cx="75.50" cy="145.10" r="1.62" fill="#ff1f1f"/>
<circle cx="78.00" cy="145.10" r="1.62" fill="#ff1f1f"/>
<circle cx="74.00" cy="150.70" r="1.62" fill="#ff1f1f"/>
<line x1="74.00" y1="138.20" x2="74.00" y2="150.70" stroke="#ff1f1f" stroke-width="0.9"/>
<line x1="71.60" y1="138.20" x2="76.40" y2="138.20" stroke="#ff1f1f" stroke-width="0.9"/>
<line x1="71.60" y1="150.70" x2="76.40" y2="150.70" stroke="#ff1f1f" stroke-width="0.9"/>
<line x1="46.30" y1="122.30" x2="74.40" y2="122.30" stroke="#3a3a3a" stroke-width="0.8"/>
<text x="60.35" y="124.20" font-size="6.0" text-anchor="middle" font-weight="bold" fill="#222" stroke="#222" stroke-width="0.1">**</text>
<line x1="59.80" y1="127.10" x2="74.40" y2="127.10" stroke="#3a3a3a" stroke-width="0.8"/>
<text x="67.10" y="129.00" font-size="6.0" text-anchor="middle" font-weight="bold" fill="#222" stroke="#222" stroke-width="0.1">*</text>
<text x="8.00" y="159.60" font-size="6.2" text-anchor="middle" font-weight="bold" fill="#1a1a1a" stroke="#1a1a1a" stroke-width="0.1" transform="rotate(-90 8.0 159.6)">% of live cells</text>
<text x="33.30" y="200.30" font-size="5.7" text-anchor="end" font-weight="bold" fill="#1a1a1a" stroke="#1a1a1a" stroke-width="0.1" transform="rotate(-32 33.300000000000004 200.3)">sh<tspan font-style="italic">NC</tspan> IgG</text>
<text x="46.90" y="200.30" font-size="5.7" text-anchor="end" font-weight="bold" fill="#1a1a1a" stroke="#1a1a1a" stroke-width="0.1" transform="rotate(-32 46.9 200.3)">sh<tspan font-style="italic">SMD1</tspan> IgG</text>
<text x="60.60" y="200.30" font-size="5.7" text-anchor="end" font-weight="bold" fill="#1a1a1a" stroke="#1a1a1a" stroke-width="0.1" transform="rotate(-32 60.6 200.3)">sh<tspan font-style="italic">NC</tspan> αPD1</text>
<text x="74.60" y="200.30" font-size="5.7" text-anchor="end" font-weight="bold" fill="#1a1a1a" stroke="#1a1a1a" stroke-width="0.1" transform="rotate(-32 74.6 200.3)">sh<tspan font-style="italic">SMD1</tspan> αPD1</text>
<text x="92.40" y="120.20" font-size="8.6" text-anchor="start" font-weight="bold" fill="#1a1a1a" stroke="#1a1a1a" stroke-width="0.1">C</text>
<line x1="110.50" y1="125.80" x2="110.50" y2="172.00" stroke="#333" stroke-width="0.9"/>
<line x1="110.50" y1="176.50" x2="110.50" y2="197.30" stroke="#333" stroke-width="0.9"/>
<line x1="108.30" y1="126.20" x2="110.50" y2="126.20" stroke="#222" stroke-width="0.7"/>
<text x="107.70" y="128.20" font-size="5.6" text-anchor="end" font-weight="bold" fill="#222" stroke="#222" stroke-width="0.1">50</text>
<line x1="108.30" y1="137.40" x2="110.50" y2="137.40" stroke="#222" stroke-width="0.7"/>
<text x="107.70" y="139.40" font-size="5.6" text-anchor="end" font-weight="bold" fill="#222" stroke="#222" stroke-width="0.1">40</text>
<line x1="108.30" y1="148.60" x2="110.50" y2="148.60" stroke="#222" stroke-width="0.7"/>
<text x="107.70" y="150.60" font-size="5.6" text-anchor="end" font-weight="bold" fill="#222" stroke="#222" stroke-width="0.1">30</text>
<line x1="108.30" y1="159.80" x2="110.50" y2="159.80" stroke="#222" stroke-width="0.7"/>
<text x="107.70" y="161.80" font-size="5.6" text-anchor="end" font-weight="bold" fill="#222" stroke="#222" stroke-width="0.1">20</text>
<line x1="108.30" y1="175.90" x2="110.50" y2="175.90" stroke="#222" stroke-width="0.7"/>
<text x="107.70" y="177.90" font-size="5.6" text-anchor="end" font-weight="bold" fill="#222" stroke="#222" stroke-width="0.1">10</text>
<line x1="108.30" y1="197.10" x2="110.50" y2="197.10" stroke="#222" stroke-width="0.7"/>
<text x="107.70" y="199.10" font-size="5.6" text-anchor="end" font-weight="bold" fill="#222" stroke="#222" stroke-width="0.1">0</text>
<line x1="108.50" y1="172.80" x2="112.50" y2="170.60" stroke="#222" stroke-width="0.7"/>
<line x1="108.50" y1="177.60" x2="112.50" y2="175.40" stroke="#222" stroke-width="0.7"/>
<line x1="110.50" y1="197.00" x2="367.30" y2="197.00" stroke="#222" stroke-width="0.8"/>
<text x="96.60" y="160.30" font-size="6.4" text-anchor="middle" font-weight="bold" fill="#1a1a1a" stroke="#1a1a1a" stroke-width="0.1" transform="rotate(-90 96.6 160.3)">% of CD45+ cells</text>
<rect x="115.08" y="125.58" width="2.24" height="2.24" fill="#111111"/>
<text x="120.10" y="128.70" font-size="5.8" text-anchor="start" font-weight="bold" fill="#1a1a1a" stroke="#1a1a1a" stroke-width="0.1">sh<tspan font-style="italic">NC</tspan> IgG</text>
<polygon points="116.20,132.77 117.56,135.22 114.84,135.22" fill="#1a1aff" stroke="none" stroke-width="0.5"/>
<text x="120.10" y="136.20" font-size="5.8" text-anchor="start" font-weight="bold" fill="#1a1a1a" stroke="#1a1a1a" stroke-width="0.1">sh<tspan font-style="italic">SMD1</tspan> IgG</text>
<polygon points="116.20,143.13 117.56,140.68 114.84,140.68" fill="#b35ee8" stroke="none" stroke-width="0.5"/>
<text x="120.10" y="143.70" font-size="5.8" text-anchor="start" font-weight="bold" fill="#1a1a1a" stroke="#1a1a1a" stroke-width="0.1">sh<tspan font-style="italic">NC</tspan> αPD1</text>
<circle cx="116.20" cy="149.20" r="1.22" fill="#ff1f1f"/>
<text x="120.10" y="151.20" font-size="5.8" text-anchor="start" font-weight="bold" fill="#1a1a1a" stroke="#1a1a1a" stroke-width="0.1">sh<tspan font-style="italic">SMD1</tspan> αPD1</text>
<line x1="135.60" y1="197.00" x2="135.60" y2="199.40" stroke="#222" stroke-width="0.6"/>
<text x="138.00" y="207.00" font-size="6.2" text-anchor="middle" font-weight="normal" fill="#1a1a1a" stroke="#1a1a1a" stroke-width="0.28">CD4+</text>
<line x1="177.30" y1="197.00" x2="177.30" y2="199.40" stroke="#222" stroke-width="0.6"/>
<text x="179.70" y="207.00" font-size="6.2" text-anchor="middle" font-weight="normal" fill="#1a1a1a" stroke="#1a1a1a" stroke-width="0.28">CD8+</text>
<line x1="219.10" y1="197.00" x2="219.10" y2="199.40" stroke="#222" stroke-width="0.6"/>
<text x="221.50" y="207.00" font-size="6.2" text-anchor="middle" font-weight="normal" fill="#1a1a1a" stroke="#1a1a1a" stroke-width="0.28">NK+</text>
<line x1="260.90" y1="197.00" x2="260.90" y2="199.40" stroke="#222" stroke-width="0.6"/>
<text x="263.30" y="207.00" font-size="6.2" text-anchor="middle" font-weight="normal" fill="#1a1a1a" stroke="#1a1a1a" stroke-width="0.28">TAMs</text>
<line x1="302.70" y1="197.00" x2="302.70" y2="199.40" stroke="#222" stroke-width="0.6"/>
<text x="305.10" y="207.00" font-size="6.2" text-anchor="middle" font-weight="normal" fill="#1a1a1a" stroke="#1a1a1a" stroke-width="0.28">MDSCs</text>
<line x1="344.40" y1="197.00" x2="344.40" y2="199.40" stroke="#222" stroke-width="0.6"/>
<text x="346.80" y="207.00" font-size="6.2" text-anchor="middle" font-weight="normal" fill="#1a1a1a" stroke="#1a1a1a" stroke-width="0.28">DCs</text>
<path d="M118.80 197.00V190.40H126.30V197.00" fill="none" stroke="#111111" stroke-width="1.2"/>
<path d="M127.50 197.00V190.00H135.00V197.00" fill="none" stroke="#1a1aff" stroke-width="1.2"/>
<path d="M136.20 197.00V190.40H143.70V197.00" fill="none" stroke="#b35ee8" stroke-width="1.2"/>
<path d="M144.90 197.00V190.60H152.40V197.00" fill="none" stroke="#ff1f1f" stroke-width="1.2"/>
<rect x="118.05" y="188.00" width="2.99" height="2.99" fill="#111111"/>
<rect x="120.05" y="188.50" width="2.99" height="2.99" fill="#111111"/>
<rect x="122.05" y="189.00" width="2.99" height="2.99" fill="#111111"/>
<rect x="124.05" y="189.50" width="2.99" height="2.99" fill="#111111"/>
<circle cx="122.55" cy="191.20" r="1.62" fill="#111111"/>
<rect x="119.05" y="190.00" width="2.99" height="2.99" fill="#111111"/>
<rect x="123.05" y="190.00" width="2.99" height="2.99" fill="#111111"/>
<line x1="122.55" y1="189.00" x2="122.55" y2="192.00" stroke="#111111" stroke-width="0.9"/>
<line x1="120.15" y1="189.00" x2="124.95" y2="189.00" stroke="#111111" stroke-width="0.9"/>
<line x1="120.15" y1="192.00" x2="124.95" y2="192.00" stroke="#111111" stroke-width="0.9"/>
<polygon points="131.25,182.49 133.07,185.77 129.43,185.77" fill="#1a1aff" stroke="none" stroke-width="0.5"/>
<polygon points="128.75,185.09 130.57,188.37 126.93,188.37" fill="#1a1aff" stroke="none" stroke-width="0.5"/>
<polygon points="133.75,185.09 135.57,188.37 131.93,188.37" fill="#1a1aff" stroke="none" stroke-width="0.5"/>
<polygon points="131.25,187.59 133.07,190.87 129.43,190.87" fill="#1a1aff" stroke="none" stroke-width="0.5"/>
<polygon points="128.25,189.09 130.07,192.37 126.43,192.37" fill="#1a1aff" stroke="none" stroke-width="0.5"/>
<polygon points="134.25,189.09 136.07,192.37 132.43,192.37" fill="#1a1aff" stroke="none" stroke-width="0.5"/>
<line x1="131.25" y1="184.60" x2="131.25" y2="192.50" stroke="#1a1aff" stroke-width="0.9"/>
<line x1="128.85" y1="184.60" x2="133.65" y2="184.60" stroke="#1a1aff" stroke-width="0.9"/>
<line x1="128.85" y1="192.50" x2="133.65" y2="192.50" stroke="#1a1aff" stroke-width="0.9"/>
<polygon points="137.45,189.41 139.27,186.13 135.63,186.13" fill="#b35ee8" stroke="none" stroke-width="0.5"/>
<polygon points="139.95,189.91 141.77,186.63 138.13,186.63" fill="#b35ee8" stroke="none" stroke-width="0.5"/>
<polygon points="142.45,189.91 144.27,186.63 140.63,186.63" fill="#b35ee8" stroke="none" stroke-width="0.5"/>
<polygon points="139.95,192.41 141.77,189.13 138.13,189.13" fill="#b35ee8" stroke="none" stroke-width="0.5"/>
<polygon points="137.45,193.91 139.27,190.63 135.63,190.63" fill="#b35ee8" stroke="none" stroke-width="0.5"/>
<polygon points="142.45,193.91 144.27,190.63 140.63,190.63" fill="#b35ee8" stroke="none" stroke-width="0.5"/>
<line x1="139.95" y1="187.50" x2="139.95" y2="192.50" stroke="#b35ee8" stroke-width="0.9"/>
<line x1="137.55" y1="187.50" x2="142.35" y2="187.50" stroke="#b35ee8" stroke-width="0.9"/>
<line x1="137.55" y1="192.50" x2="142.35" y2="192.50" stroke="#b35ee8" stroke-width="0.9"/>
<circle cx="148.65" cy="186.50" r="1.62" fill="#ff1f1f"/>
<circle cx="146.65" cy="189.00" r="1.62" fill="#ff1f1f"/>
<circle cx="150.65" cy="189.00" r="1.62" fill="#ff1f1f"/>
<circle cx="145.65" cy="190.50" r="1.62" fill="#ff1f1f"/>
<circle cx="151.65" cy="190.50" r="1.62" fill="#ff1f1f"/>
<circle cx="148.65" cy="191.00" r="1.62" fill="#ff1f1f"/>
<line x1="148.65" y1="188.50" x2="148.65" y2="192.00" stroke="#ff1f1f" stroke-width="0.9"/>
<line x1="146.25" y1="188.50" x2="151.05" y2="188.50" stroke="#ff1f1f" stroke-width="0.9"/>
<line x1="146.25" y1="192.00" x2="151.05" y2="192.00" stroke="#ff1f1f" stroke-width="0.9"/>
<line x1="121.40" y1="182.40" x2="149.60" y2="182.40" stroke="#3a3a3a" stroke-width="0.8"/>
<text x="135.50" y="181.30" font-size="7.2" text-anchor="middle" font-weight="normal" fill="#222" stroke="#222" stroke-width="0.1">ns</text>
<path d="M160.50 197.00V193.80H168.00V197.00" fill="none" stroke="#111111" stroke-width="1.2"/>
<path d="M169.20 197.00V188.80H176.70V197.00" fill="none" stroke="#1a1aff" stroke-width="1.2"/>
<path d="M177.90 197.00V190.80H185.40V197.00" fill="none" stroke="#b35ee8" stroke-width="1.2"/>
<path d="M186.60 197.00V182.10H194.10V197.00" fill="none" stroke="#ff1f1f" stroke-width="1.2"/>
<rect x="159.75" y="191.50" width="2.99" height="2.99" fill="#111111"/>
<rect x="161.75" y="191.00" width="2.99" height="2.99" fill="#111111"/>
<rect x="163.75" y="192.00" width="2.99" height="2.99" fill="#111111"/>
<rect x="165.75" y="192.50" width="2.99" height="2.99" fill="#111111"/>
<circle cx="164.25" cy="191.80" r="1.62" fill="#111111"/>
<rect x="164.75" y="191.50" width="2.99" height="2.99" fill="#111111"/>
<line x1="164.25" y1="192.00" x2="164.25" y2="195.00" stroke="#111111" stroke-width="0.9"/>
<line x1="161.85" y1="192.00" x2="166.65" y2="192.00" stroke="#111111" stroke-width="0.9"/>
<line x1="161.85" y1="195.00" x2="166.65" y2="195.00" stroke="#111111" stroke-width="0.9"/>
<polygon points="172.95,182.89 174.77,186.17 171.13,186.17" fill="#1a1aff" stroke="none" stroke-width="0.5"/>
<polygon points="170.45,185.09 172.27,188.37 168.63,188.37" fill="#1a1aff" stroke="none" stroke-width="0.5"/>
<polygon points="175.45,185.09 177.27,188.37 173.63,188.37" fill="#1a1aff" stroke="none" stroke-width="0.5"/>
<polygon points="172.95,187.09 174.77,190.37 171.13,190.37" fill="#1a1aff" stroke="none" stroke-width="0.5"/>
<polygon points="169.95,189.09 171.77,192.37 168.13,192.37" fill="#1a1aff" stroke="none" stroke-width="0.5"/>
<polygon points="175.95,189.09 177.77,192.37 174.13,192.37" fill="#1a1aff" stroke="none" stroke-width="0.5"/>
<line x1="172.95" y1="185.00" x2="172.95" y2="192.00" stroke="#1a1aff" stroke-width="0.9"/>
<line x1="170.55" y1="185.00" x2="175.35" y2="185.00" stroke="#1a1aff" stroke-width="0.9"/>
<line x1="170.55" y1="192.00" x2="175.35" y2="192.00" stroke="#1a1aff" stroke-width="0.9"/>
<polygon points="181.65,188.71 183.47,185.44 179.83,185.44" fill="#b35ee8" stroke="none" stroke-width="0.5"/>
<polygon points="179.15,190.91 180.97,187.63 177.33,187.63" fill="#b35ee8" stroke="none" stroke-width="0.5"/>
<polygon points="184.15,190.91 185.97,187.63 182.33,187.63" fill="#b35ee8" stroke="none" stroke-width="0.5"/>
<polygon points="181.65,192.91 183.47,189.63 179.83,189.63" fill="#b35ee8" stroke="none" stroke-width="0.5"/>
<polygon points="178.65,193.91 180.47,190.63 176.83,190.63" fill="#b35ee8" stroke="none" stroke-width="0.5"/>
<polygon points="184.65,193.91 186.47,190.63 182.83,190.63" fill="#b35ee8" stroke="none" stroke-width="0.5"/>
<line x1="181.65" y1="187.50" x2="181.65" y2="193.00" stroke="#b35ee8" stroke-width="0.9"/>
<line x1="179.25" y1="187.50" x2="184.05" y2="187.50" stroke="#b35ee8" stroke-width="0.9"/>
<line x1="179.25" y1="193.00" x2="184.05" y2="193.00" stroke="#b35ee8" stroke-width="0.9"/>
<circle cx="188.35" cy="180.80" r="1.62" fill="#ff1f1f"/>
<circle cx="192.35" cy="180.80" r="1.62" fill="#ff1f1f"/>
<circle cx="187.35" cy="182.50" r="1.62" fill="#ff1f1f"/>
<circle cx="190.35" cy="182.50" r="1.62" fill="#ff1f1f"/>
<circle cx="193.35" cy="182.50" r="1.62" fill="#ff1f1f"/>
<circle cx="190.35" cy="185.50" r="1.62" fill="#ff1f1f"/>
<line x1="190.35" y1="180.00" x2="190.35" y2="186.00" stroke="#ff1f1f" stroke-width="0.9"/>
<line x1="187.95" y1="180.00" x2="192.75" y2="180.00" stroke="#ff1f1f" stroke-width="0.9"/>
<line x1="187.95" y1="186.00" x2="192.75" y2="186.00" stroke="#ff1f1f" stroke-width="0.9"/>
<line x1="171.80" y1="173.10" x2="191.20" y2="173.10" stroke="#3a3a3a" stroke-width="0.8"/>
<text x="181.50" y="175.00" font-size="6.0" text-anchor="middle" font-weight="bold" fill="#222" stroke="#222" stroke-width="0.1">***</text>
<line x1="181.10" y1="178.10" x2="191.20" y2="178.10" stroke="#3a3a3a" stroke-width="0.8"/>
<text x="186.15" y="180.00" font-size="6.0" text-anchor="middle" font-weight="bold" fill="#222" stroke="#222" stroke-width="0.1">***</text>
<path d="M202.30 197.00V192.20H209.80V197.00" fill="none" stroke="#111111" stroke-width="1.2"/>
<path d="M211.00 197.00V195.50H218.50V197.00" fill="none" stroke="#1a1aff" stroke-width="1.2"/>
<path d="M219.70 197.00V193.50H227.20V197.00" fill="none" stroke="#b35ee8" stroke-width="1.2"/>
<path d="M228.40 197.00V192.20H235.90V197.00" fill="none" stroke="#ff1f1f" stroke-width="1.2"/>
<rect x="201.55" y="190.50" width="2.99" height="2.99" fill="#111111"/>
<rect x="203.55" y="190.50" width="2.99" height="2.99" fill="#111111"/>
<rect x="205.55" y="191.00" width="2.99" height="2.99" fill="#111111"/>
<rect x="207.55" y="191.50" width="2.99" height="2.99" fill="#111111"/>
<rect x="204.55" y="190.00" width="2.99" height="2.99" fill="#111111"/>
<rect x="206.55" y="192.50" width="2.99" height="2.99" fill="#111111"/>
<line x1="206.05" y1="191.00" x2="206.05" y2="194.00" stroke="#111111" stroke-width="0.9"/>
<line x1="203.65" y1="191.00" x2="208.45" y2="191.00" stroke="#111111" stroke-width="0.9"/>
<line x1="203.65" y1="194.00" x2="208.45" y2="194.00" stroke="#111111" stroke-width="0.9"/>
<polygon points="211.75,193.09 213.57,196.37 209.93,196.37" fill="#1a1aff" stroke="none" stroke-width="0.5"/>
<polygon points="213.75,192.59 215.57,195.87 211.93,195.87" fill="#1a1aff" stroke="none" stroke-width="0.5"/>
<polygon points="215.75,193.59 217.57,196.87 213.93,196.87" fill="#1a1aff" stroke="none" stroke-width="0.5"/>
<polygon points="217.75,193.09 219.57,196.37 215.93,196.37" fill="#1a1aff" stroke="none" stroke-width="0.5"/>
<line x1="214.75" y1="194.50" x2="214.75" y2="196.50" stroke="#1a1aff" stroke-width="0.9"/>
<line x1="212.35" y1="194.50" x2="217.15" y2="194.50" stroke="#1a1aff" stroke-width="0.9"/>
<line x1="212.35" y1="196.50" x2="217.15" y2="196.50" stroke="#1a1aff" stroke-width="0.9"/>
<polygon points="220.45,194.91 222.27,191.63 218.63,191.63" fill="#b35ee8" stroke="none" stroke-width="0.5"/>
<polygon points="223.45,194.41 225.27,191.13 221.63,191.13" fill="#b35ee8" stroke="none" stroke-width="0.5"/>
<polygon points="225.95,195.41 227.77,192.13 224.13,192.13" fill="#b35ee8" stroke="none" stroke-width="0.5"/>
<polygon points="224.45,195.91 226.27,192.63 222.63,192.63" fill="#b35ee8" stroke="none" stroke-width="0.5"/>
<line x1="223.45" y1="192.00" x2="223.45" y2="195.00" stroke="#b35ee8" stroke-width="0.9"/>
<line x1="221.05" y1="192.00" x2="225.85" y2="192.00" stroke="#b35ee8" stroke-width="0.9"/>
<line x1="221.05" y1="195.00" x2="225.85" y2="195.00" stroke="#b35ee8" stroke-width="0.9"/>
<circle cx="229.15" cy="193.00" r="1.62" fill="#ff1f1f"/>
<circle cx="231.15" cy="192.00" r="1.62" fill="#ff1f1f"/>
<circle cx="233.15" cy="192.50" r="1.62" fill="#ff1f1f"/>
<circle cx="235.15" cy="193.00" r="1.62" fill="#ff1f1f"/>
<circle cx="232.15" cy="191.50" r="1.62" fill="#ff1f1f"/>
<line x1="232.15" y1="191.00" x2="232.15" y2="194.00" stroke="#ff1f1f" stroke-width="0.9"/>
<line x1="229.75" y1="191.00" x2="234.55" y2="191.00" stroke="#ff1f1f" stroke-width="0.9"/>
<line x1="229.75" y1="194.00" x2="234.55" y2="194.00" stroke="#ff1f1f" stroke-width="0.9"/>
<line x1="204.40" y1="188.60" x2="232.50" y2="188.60" stroke="#3a3a3a" stroke-width="0.8"/>
<text x="218.45" y="187.50" font-size="7.2" text-anchor="middle" font-weight="normal" fill="#222" stroke="#222" stroke-width="0.1">ns</text>
<path d="M244.10 171.70V145.80H251.60V171.70M244.10 197.00V177.10M251.60 197.00V177.10" fill="none" stroke="#111111" stroke-width="1.2"/>
<path d="M252.80 171.70V153.90H260.30V171.70M252.80 197.00V177.10M260.30 197.00V177.10" fill="none" stroke="#1a1aff" stroke-width="1.2"/>
<path d="M261.50 171.70V144.50H269.00V171.70M261.50 197.00V177.10M269.00 197.00V177.10" fill="none" stroke="#b35ee8" stroke-width="1.2"/>
<path d="M270.20 171.70V155.20H277.70V171.70M270.20 197.00V177.10M277.70 197.00V177.10" fill="none" stroke="#ff1f1f" stroke-width="1.2"/>
<rect x="243.85" y="139.60" width="2.99" height="2.99" fill="#111111"/>
<rect x="248.85" y="139.60" width="2.99" height="2.99" fill="#111111"/>
<rect x="246.35" y="142.50" width="2.99" height="2.99" fill="#111111"/>
<rect x="243.35" y="145.50" width="2.99" height="2.99" fill="#111111"/>
<rect x="249.35" y="145.50" width="2.99" height="2.99" fill="#111111"/>
<rect x="244.35" y="148.50" width="2.99" height="2.99" fill="#111111"/>
<rect x="246.35" y="152.00" width="2.99" height="2.99" fill="#111111"/>
<line x1="247.85" y1="141.50" x2="247.85" y2="150.00" stroke="#111111" stroke-width="0.9"/>
<line x1="245.45" y1="141.50" x2="250.25" y2="141.50" stroke="#111111" stroke-width="0.9"/>
<line x1="245.45" y1="150.00" x2="250.25" y2="150.00" stroke="#111111" stroke-width="0.9"/>
<polygon points="256.55,147.29 258.37,150.56 254.73,150.56" fill="#1a1aff" stroke="none" stroke-width="0.5"/>
<polygon points="254.05,150.59 255.87,153.87 252.23,153.87" fill="#1a1aff" stroke="none" stroke-width="0.5"/>
<polygon points="259.05,150.59 260.87,153.87 257.23,153.87" fill="#1a1aff" stroke="none" stroke-width="0.5"/>
<polygon points="256.55,152.59 258.37,155.87 254.73,155.87" fill="#1a1aff" stroke="none" stroke-width="0.5"/>
<polygon points="254.05,154.59 255.87,157.87 252.23,157.87" fill="#1a1aff" stroke="none" stroke-width="0.5"/>
<polygon points="259.05,154.59 260.87,157.87 257.23,157.87" fill="#1a1aff" stroke="none" stroke-width="0.5"/>
<line x1="256.55" y1="151.00" x2="256.55" y2="156.50" stroke="#1a1aff" stroke-width="0.9"/>
<line x1="254.15" y1="151.00" x2="258.95" y2="151.00" stroke="#1a1aff" stroke-width="0.9"/>
<line x1="254.15" y1="156.50" x2="258.95" y2="156.50" stroke="#1a1aff" stroke-width="0.9"/>
<polygon points="265.25,133.71 267.07,130.44 263.43,130.44" fill="#b35ee8" stroke="none" stroke-width="0.5"/>
<polygon points="265.25,139.71 267.07,136.44 263.43,136.44" fill="#b35ee8" stroke="none" stroke-width="0.5"/>
<polygon points="262.75,143.91 264.57,140.63 260.93,140.63" fill="#b35ee8" stroke="none" stroke-width="0.5"/>
<polygon points="267.75,143.91 269.57,140.63 265.93,140.63" fill="#b35ee8" stroke="none" stroke-width="0.5"/>
<polygon points="265.25,146.91 267.07,143.63 263.43,143.63" fill="#b35ee8" stroke="none" stroke-width="0.5"/>
<polygon points="262.75,149.91 264.57,146.63 260.93,146.63" fill="#b35ee8" stroke="none" stroke-width="0.5"/>
<polygon points="267.75,149.91 269.57,146.63 265.93,146.63" fill="#b35ee8" stroke="none" stroke-width="0.5"/>
<polygon points="265.25,152.91 267.07,149.63 263.43,149.63" fill="#b35ee8" stroke="none" stroke-width="0.5"/>
<line x1="265.25" y1="137.80" x2="265.25" y2="151.00" stroke="#b35ee8" stroke-width="0.9"/>
<line x1="262.85" y1="137.80" x2="267.65" y2="137.80" stroke="#b35ee8" stroke-width="0.9"/>
<line x1="262.85" y1="151.00" x2="267.65" y2="151.00" stroke="#b35ee8" stroke-width="0.9"/>
<circle cx="273.95" cy="151.90" r="1.62" fill="#ff1f1f"/>
<circle cx="270.95" cy="155.00" r="1.62" fill="#ff1f1f"/>
<circle cx="276.95" cy="155.00" r="1.62" fill="#ff1f1f"/>
<circle cx="271.95" cy="158.00" r="1.62" fill="#ff1f1f"/>
<circle cx="275.95" cy="158.00" r="1.62" fill="#ff1f1f"/>
<circle cx="273.95" cy="161.00" r="1.62" fill="#ff1f1f"/>
<line x1="273.95" y1="152.00" x2="273.95" y2="160.00" stroke="#ff1f1f" stroke-width="0.9"/>
<line x1="271.55" y1="152.00" x2="276.35" y2="152.00" stroke="#ff1f1f" stroke-width="0.9"/>
<line x1="271.55" y1="160.00" x2="276.35" y2="160.00" stroke="#ff1f1f" stroke-width="0.9"/>
<line x1="255.40" y1="123.00" x2="274.20" y2="123.00" stroke="#3a3a3a" stroke-width="0.8"/>
<text x="264.80" y="121.90" font-size="7.2" text-anchor="middle" font-weight="normal" fill="#222" stroke="#222" stroke-width="0.1">ns</text>
<line x1="265.50" y1="128.40" x2="274.20" y2="128.40" stroke="#3a3a3a" stroke-width="0.8"/>
<text x="269.85" y="130.30" font-size="6.0" text-anchor="middle" font-weight="bold" fill="#222" stroke="#222" stroke-width="0.1">***</text>
<path d="M285.90 171.70V143.80H293.40V171.70M285.90 197.00V177.10M293.40 197.00V177.10" fill="none" stroke="#111111" stroke-width="1.2"/>
<path d="M294.60 171.70V143.80H302.10V171.70M294.60 197.00V177.10M302.10 197.00V177.10" fill="none" stroke="#1a1aff" stroke-width="1.2"/>
<path d="M303.30 171.70V151.20H310.80V171.70M303.30 197.00V177.10M310.80 197.00V177.10" fill="none" stroke="#b35ee8" stroke-width="1.2"/>
<path d="M312.00 171.70V149.90H319.50V171.70M312.00 197.00V177.10M319.50 197.00V177.10" fill="none" stroke="#ff1f1f" stroke-width="1.2"/>
<circle cx="289.65" cy="131.10" r="1.62" fill="#111111"/>
<circle cx="289.65" cy="136.40" r="1.62" fill="#111111"/>
<rect x="288.15" y="141.50" width="2.99" height="2.99" fill="#111111"/>
<rect x="285.65" y="143.50" width="2.99" height="2.99" fill="#111111"/>
<rect x="290.65" y="143.50" width="2.99" height="2.99" fill="#111111"/>
<rect x="285.15" y="146.50" width="2.99" height="2.99" fill="#111111"/>
<circle cx="289.65" cy="149.00" r="1.62" fill="#111111"/>
<line x1="289.65" y1="136.50" x2="289.65" y2="147.00" stroke="#111111" stroke-width="0.9"/>
<line x1="287.25" y1="136.50" x2="292.05" y2="136.50" stroke="#111111" stroke-width="0.9"/>
<line x1="287.25" y1="147.00" x2="292.05" y2="147.00" stroke="#111111" stroke-width="0.9"/>
<polygon points="295.35,133.89 297.17,137.17 293.53,137.17" fill="#1a1aff" stroke="none" stroke-width="0.5"/>
<polygon points="301.35,133.89 303.17,137.17 299.53,137.17" fill="#1a1aff" stroke="none" stroke-width="0.5"/>
<polygon points="298.35,136.09 300.17,139.37 296.53,139.37" fill="#1a1aff" stroke="none" stroke-width="0.5"/>
<polygon points="298.35,140.09 300.17,143.37 296.53,143.37" fill="#1a1aff" stroke="none" stroke-width="0.5"/>
<polygon points="295.35,144.09 297.17,147.37 293.53,147.37" fill="#1a1aff" stroke="none" stroke-width="0.5"/>
<polygon points="301.35,144.09 303.17,147.37 299.53,147.37" fill="#1a1aff" stroke="none" stroke-width="0.5"/>
<polygon points="298.35,148.09 300.17,151.37 296.53,151.37" fill="#1a1aff" stroke="none" stroke-width="0.5"/>
<line x1="298.35" y1="135.80" x2="298.35" y2="152.00" stroke="#1a1aff" stroke-width="0.9"/>
<line x1="295.95" y1="135.80" x2="300.75" y2="135.80" stroke="#1a1aff" stroke-width="0.9"/>
<line x1="295.95" y1="152.00" x2="300.75" y2="152.00" stroke="#1a1aff" stroke-width="0.9"/>
<polygon points="307.05,139.41 308.87,136.13 305.23,136.13" fill="#b35ee8" stroke="none" stroke-width="0.5"/>
<polygon points="304.55,151.91 306.37,148.63 302.73,148.63" fill="#b35ee8" stroke="none" stroke-width="0.5"/>
<polygon points="309.55,151.91 311.37,148.63 307.73,148.63" fill="#b35ee8" stroke="none" stroke-width="0.5"/>
<polygon points="307.05,156.91 308.87,153.63 305.23,153.63" fill="#b35ee8" stroke="none" stroke-width="0.5"/>
<polygon points="307.05,162.91 308.87,159.63 305.23,159.63" fill="#b35ee8" stroke="none" stroke-width="0.5"/>
<line x1="307.05" y1="137.10" x2="307.05" y2="161.20" stroke="#b35ee8" stroke-width="0.9"/>
<line x1="304.65" y1="137.10" x2="309.45" y2="137.10" stroke="#b35ee8" stroke-width="0.9"/>
<line x1="304.65" y1="161.20" x2="309.45" y2="161.20" stroke="#b35ee8" stroke-width="0.9"/>
<circle cx="315.75" cy="139.50" r="1.62" fill="#ff1f1f"/>
<circle cx="312.75" cy="146.00" r="1.62" fill="#ff1f1f"/>
<circle cx="318.75" cy="146.00" r="1.62" fill="#ff1f1f"/>
<circle cx="315.75" cy="150.00" r="1.62" fill="#ff1f1f"/>
<circle cx="313.75" cy="155.00" r="1.62" fill="#ff1f1f"/>
<circle cx="315.75" cy="161.00" r="1.62" fill="#ff1f1f"/>
<line x1="315.75" y1="139.10" x2="315.75" y2="158.00" stroke="#ff1f1f" stroke-width="0.9"/>
<line x1="313.35" y1="139.10" x2="318.15" y2="139.10" stroke="#ff1f1f" stroke-width="0.9"/>
<line x1="313.35" y1="158.00" x2="318.15" y2="158.00" stroke="#ff1f1f" stroke-width="0.9"/>
<line x1="289.40" y1="127.30" x2="317.50" y2="127.30" stroke="#3a3a3a" stroke-width="0.8"/>
<text x="303.45" y="126.20" font-size="7.2" text-anchor="middle" font-weight="normal" fill="#222" stroke="#222" stroke-width="0.1">ns</text>
<path d="M327.60 171.70V160.80H335.10V171.70M327.60 197.00V177.10M335.10 197.00V177.10" fill="none" stroke="#111111" stroke-width="1.2"/>
<path d="M336.30 171.70V159.50H343.80V171.70M336.30 197.00V177.10M343.80 197.00V177.10" fill="none" stroke="#1a1aff" stroke-width="1.2"/>
<path d="M345.00 171.70V158.80H352.50V171.70M345.00 197.00V177.10M352.50 197.00V177.10" fill="none" stroke="#b35ee8" stroke-width="1.2"/>
<path d="M353.70 171.70V156.10H361.20V171.70M353.70 197.00V177.10M361.20 197.00V177.10" fill="none" stroke="#ff1f1f" stroke-width="1.2"/>
<rect x="327.35" y="153.00" width="2.99" height="2.99" fill="#111111"/>
<rect x="332.35" y="153.00" width="2.99" height="2.99" fill="#111111"/>
<circle cx="331.35" cy="158.00" r="1.62" fill="#111111"/>
<rect x="326.85" y="158.50" width="2.99" height="2.99" fill="#111111"/>
<rect x="332.85" y="158.50" width="2.99" height="2.99" fill="#111111"/>
<circle cx="331.35" cy="162.50" r="1.62" fill="#111111"/>
<rect x="327.85" y="163.50" width="2.99" height="2.99" fill="#111111"/>
<line x1="331.35" y1="155.50" x2="331.35" y2="164.00" stroke="#111111" stroke-width="0.9"/>
<line x1="328.95" y1="155.50" x2="333.75" y2="155.50" stroke="#111111" stroke-width="0.9"/>
<line x1="328.95" y1="164.00" x2="333.75" y2="164.00" stroke="#111111" stroke-width="0.9"/>
<polygon points="340.05,151.59 341.87,154.87 338.23,154.87" fill="#1a1aff" stroke="none" stroke-width="0.5"/>
<polygon points="337.55,154.59 339.37,157.87 335.73,157.87" fill="#1a1aff" stroke="none" stroke-width="0.5"/>
<polygon points="342.55,154.59 344.37,157.87 340.73,157.87" fill="#1a1aff" stroke="none" stroke-width="0.5"/>
<polygon points="340.05,157.09 341.87,160.37 338.23,160.37" fill="#1a1aff" stroke="none" stroke-width="0.5"/>
<polygon points="337.05,159.09 338.87,162.37 335.23,162.37" fill="#1a1aff" stroke="none" stroke-width="0.5"/>
<line x1="340.05" y1="156.00" x2="340.05" y2="162.00" stroke="#1a1aff" stroke-width="0.9"/>
<line x1="337.65" y1="156.00" x2="342.45" y2="156.00" stroke="#1a1aff" stroke-width="0.9"/>
<line x1="337.65" y1="162.00" x2="342.45" y2="162.00" stroke="#1a1aff" stroke-width="0.9"/>
<polygon points="348.75,151.31 350.57,148.03 346.93,148.03" fill="#b35ee8" stroke="none" stroke-width="0.5"/>
<polygon points="346.25,157.91 348.07,154.63 344.43,154.63" fill="#b35ee8" stroke="none" stroke-width="0.5"/>
<polygon points="351.25,157.91 353.07,154.63 349.43,154.63" fill="#b35ee8" stroke="none" stroke-width="0.5"/>
<polygon points="348.75,161.91 350.57,158.63 346.93,158.63" fill="#b35ee8" stroke="none" stroke-width="0.5"/>
<polygon points="346.25,164.91 348.07,161.63 344.43,161.63" fill="#b35ee8" stroke="none" stroke-width="0.5"/>
<polygon points="351.25,164.91 353.07,161.63 349.43,161.63" fill="#b35ee8" stroke="none" stroke-width="0.5"/>
<line x1="348.75" y1="149.40" x2="348.75" y2="164.00" stroke="#b35ee8" stroke-width="0.9"/>
<line x1="346.35" y1="149.40" x2="351.15" y2="149.40" stroke="#b35ee8" stroke-width="0.9"/>
<line x1="346.35" y1="164.00" x2="351.15" y2="164.00" stroke="#b35ee8" stroke-width="0.9"/>
<circle cx="354.45" cy="154.00" r="1.62" fill="#ff1f1f"/>
<circle cx="357.45" cy="154.50" r="1.62" fill="#ff1f1f"/>
<circle cx="360.45" cy="155.00" r="1.62" fill="#ff1f1f"/>
<circle cx="355.95" cy="156.50" r="1.62" fill="#ff1f1f"/>
<circle cx="358.95" cy="156.50" r="1.62" fill="#ff1f1f"/>
<line x1="357.45" y1="154.00" x2="357.45" y2="158.00" stroke="#ff1f1f" stroke-width="0.9"/>
<line x1="355.05" y1="154.00" x2="359.85" y2="154.00" stroke="#ff1f1f" stroke-width="0.9"/>
<line x1="355.05" y1="158.00" x2="359.85" y2="158.00" stroke="#ff1f1f" stroke-width="0.9"/>
<line x1="330.70" y1="146.80" x2="358.90" y2="146.80" stroke="#3a3a3a" stroke-width="0.8"/>
<text x="344.80" y="145.70" font-size="7.2" text-anchor="middle" font-weight="normal" fill="#222" stroke="#222" stroke-width="0.1">ns</text>
<text x="2.00" y="234.00" font-size="8.6" text-anchor="start" font-weight="bold" fill="#1a1a1a" stroke="#1a1a1a" stroke-width="0.1">D</text>
<text x="41.50" y="233.80" font-size="5.9" text-anchor="middle" font-weight="bold" fill="#1a1a1a" stroke="#1a1a1a" stroke-width="0.1">sh<tspan font-style="italic">NC</tspan> IgG</text>
<text x="110.50" y="233.80" font-size="5.9" text-anchor="middle" font-weight="bold" fill="#1a1a1a" stroke="#1a1a1a" stroke-width="0.1">sh<tspan font-style="italic">SMD1</tspan> IgG</text>
<text x="179.50" y="233.80" font-size="5.9" text-anchor="middle" font-weight="bold" fill="#1a1a1a" stroke="#1a1a1a" stroke-width="0.1">sh<tspan font-style="italic">NC</tspan> αPD1</text>
<text x="247.00" y="233.80" font-size="5.9" text-anchor="middle" font-weight="bold" fill="#1a1a1a" stroke="#1a1a1a" stroke-width="0.1">sh<tspan font-style="italic">SMD1</tspan> αPD1</text>
<rect x="8.50" y="235.50" width="66.20" height="66.30" fill="none" stroke="#9c9c9c" stroke-width="0.7"/>
<rect x="6.90" y="283.20" width="1.20" height="2.40" fill="#333" stroke="none" stroke-width="0.8"/>
<rect x="21.00" y="301.50" width="2.60" height="1.10" fill="#333" stroke="none" stroke-width="0.8"/>
<line x1="6.70" y1="244.50" x2="8.50" y2="244.50" stroke="#777" stroke-width="0.5"/>
<line x1="6.70" y1="256.00" x2="8.50" y2="256.00" stroke="#777" stroke-width="0.5"/>
<line x1="6.70" y1="267.60" x2="8.50" y2="267.60" stroke="#777" stroke-width="0.5"/>
<line x1="7.50" y1="247.00" x2="8.50" y2="247.00" stroke="#aaa" stroke-width="0.35"/>
<line x1="7.50" y1="249.50" x2="8.50" y2="249.50" stroke="#aaa" stroke-width="0.35"/>
<line x1="7.50" y1="252.00" x2="8.50" y2="252.00" stroke="#aaa" stroke-width="0.35"/>
<line x1="7.50" y1="259.00" x2="8.50" y2="259.00" stroke="#aaa" stroke-width="0.35"/>
<line x1="7.50" y1="262.00" x2="8.50" y2="262.00" stroke="#aaa" stroke-width="0.35"/>
<line x1="7.50" y1="264.50" x2="8.50" y2="264.50" stroke="#aaa" stroke-width="0.35"/>
<line x1="19.50" y1="301.80" x2="19.50" y2="303.40" stroke="#777" stroke-width="0.5"/>
<line x1="22.30" y1="301.80" x2="22.30" y2="302.70" stroke="#aaa" stroke-width="0.35"/>
<line x1="25.10" y1="301.80" x2="25.10" y2="302.70" stroke="#aaa" stroke-width="0.35"/>
<line x1="27.90" y1="301.80" x2="27.90" y2="302.70" stroke="#aaa" stroke-width="0.35"/>
<line x1="30.80" y1="301.80" x2="30.80" y2="303.40" stroke="#777" stroke-width="0.5"/>
<line x1="33.60" y1="301.80" x2="33.60" y2="302.70" stroke="#aaa" stroke-width="0.35"/>
<line x1="36.40" y1="301.80" x2="36.40" y2="302.70" stroke="#aaa" stroke-width="0.35"/>
<line x1="39.20" y1="301.80" x2="39.20" y2="302.70" stroke="#aaa" stroke-width="0.35"/>
<line x1="42.10" y1="301.80" x2="42.10" y2="303.40" stroke="#777" stroke-width="0.5"/>
<line x1="44.90" y1="301.80" x2="44.90" y2="302.70" stroke="#aaa" stroke-width="0.35"/>
<line x1="47.70" y1="301.80" x2="47.70" y2="302.70" stroke="#aaa" stroke-width="0.35"/>
<line x1="50.50" y1="301.80" x2="50.50" y2="302.70" stroke="#aaa" stroke-width="0.35"/>
<line x1="53.40" y1="301.80" x2="53.40" y2="303.40" stroke="#777" stroke-width="0.5"/>
<line x1="56.20" y1="301.80" x2="56.20" y2="302.70" stroke="#aaa" stroke-width="0.35"/>
<line x1="59.00" y1="301.80" x2="59.00" y2="302.70" stroke="#aaa" stroke-width="0.35"/>
<line x1="61.80" y1="301.80" x2="61.80" y2="302.70" stroke="#aaa" stroke-width="0.35"/>
<rect x="77.60" y="235.60" width="65.90" height="66.20" fill="none" stroke="#9c9c9c" stroke-width="0.7"/>
<rect x="76.00" y="283.20" width="1.20" height="2.40" fill="#333" stroke="none" stroke-width="0.8"/>
<rect x="90.10" y="301.50" width="2.60" height="1.10" fill="#333" stroke="none" stroke-width="0.8"/>
<line x1="75.80" y1="244.50" x2="77.60" y2="244.50" stroke="#777" stroke-width="0.5"/>
<line x1="75.80" y1="256.00" x2="77.60" y2="256.00" stroke="#777" stroke-width="0.5"/>
<line x1="75.80" y1="267.60" x2="77.60" y2="267.60" stroke="#777" stroke-width="0.5"/>
<line x1="76.60" y1="247.00" x2="77.60" y2="247.00" stroke="#aaa" stroke-width="0.35"/>
<line x1="76.60" y1="249.50" x2="77.60" y2="249.50" stroke="#aaa" stroke-width="0.35"/>
<line x1="76.60" y1="252.00" x2="77.60" y2="252.00" stroke="#aaa" stroke-width="0.35"/>
<line x1="76.60" y1="259.00" x2="77.60" y2="259.00" stroke="#aaa" stroke-width="0.35"/>
<line x1="76.60" y1="262.00" x2="77.60" y2="262.00" stroke="#aaa" stroke-width="0.35"/>
<line x1="76.60" y1="264.50" x2="77.60" y2="264.50" stroke="#aaa" stroke-width="0.35"/>
<line x1="88.60" y1="301.80" x2="88.60" y2="303.40" stroke="#777" stroke-width="0.5"/>
<line x1="91.40" y1="301.80" x2="91.40" y2="302.70" stroke="#aaa" stroke-width="0.35"/>
<line x1="94.20" y1="301.80" x2="94.20" y2="302.70" stroke="#aaa" stroke-width="0.35"/>
<line x1="97.00" y1="301.80" x2="97.00" y2="302.70" stroke="#aaa" stroke-width="0.35"/>
<line x1="99.90" y1="301.80" x2="99.90" y2="303.40" stroke="#777" stroke-width="0.5"/>
<line x1="102.70" y1="301.80" x2="102.70" y2="302.70" stroke="#aaa" stroke-width="0.35"/>
<line x1="105.50" y1="301.80" x2="105.50" y2="302.70" stroke="#aaa" stroke-width="0.35"/>
<line x1="108.30" y1="301.80" x2="108.30" y2="302.70" stroke="#aaa" stroke-width="0.35"/>
<line x1="111.20" y1="301.80" x2="111.20" y2="303.40" stroke="#777" stroke-width="0.5"/>
<line x1="114.00" y1="301.80" x2="114.00" y2="302.70" stroke="#aaa" stroke-width="0.35"/>
<line x1="116.80" y1="301.80" x2="116.80" y2="302.70" stroke="#aaa" stroke-width="0.35"/>
<line x1="119.60" y1="301.80" x2="119.60" y2="302.70" stroke="#aaa" stroke-width="0.35"/>
<line x1="122.50" y1="301.80" x2="122.50" y2="303.40" stroke="#777" stroke-width="0.5"/>
<line x1="125.30" y1="301.80" x2="125.30" y2="302.70" stroke="#aaa" stroke-width="0.35"/>
<line x1="128.10" y1="301.80" x2="128.10" y2="302.70" stroke="#aaa" stroke-width="0.35"/>
<line x1="130.90" y1="301.80" x2="130.90" y2="302.70" stroke="#aaa" stroke-width="0.35"/>
<rect x="146.10" y="235.60" width="66.50" height="66.20" fill="none" stroke="#9c9c9c" stroke-width="0.7"/>
<rect x="144.50" y="283.20" width="1.20" height="2.40" fill="#333" stroke="none" stroke-width="0.8"/>
<rect x="158.60" y="301.50" width="2.60" height="1.10" fill="#333" stroke="none" stroke-width="0.8"/>
<line x1="144.30" y1="244.50" x2="146.10" y2="244.50" stroke="#777" stroke-width="0.5"/>
<line x1="144.30" y1="256.00" x2="146.10" y2="256.00" stroke="#777" stroke-width="0.5"/>
<line x1="144.30" y1="267.60" x2="146.10" y2="267.60" stroke="#777" stroke-width="0.5"/>
<line x1="145.10" y1="247.00" x2="146.10" y2="247.00" stroke="#aaa" stroke-width="0.35"/>
<line x1="145.10" y1="249.50" x2="146.10" y2="249.50" stroke="#aaa" stroke-width="0.35"/>
<line x1="145.10" y1="252.00" x2="146.10" y2="252.00" stroke="#aaa" stroke-width="0.35"/>
<line x1="145.10" y1="259.00" x2="146.10" y2="259.00" stroke="#aaa" stroke-width="0.35"/>
<line x1="145.10" y1="262.00" x2="146.10" y2="262.00" stroke="#aaa" stroke-width="0.35"/>
<line x1="145.10" y1="264.50" x2="146.10" y2="264.50" stroke="#aaa" stroke-width="0.35"/>
<line x1="157.10" y1="301.80" x2="157.10" y2="303.40" stroke="#777" stroke-width="0.5"/>
<line x1="159.90" y1="301.80" x2="159.90" y2="302.70" stroke="#aaa" stroke-width="0.35"/>
<line x1="162.70" y1="301.80" x2="162.70" y2="302.70" stroke="#aaa" stroke-width="0.35"/>
<line x1="165.50" y1="301.80" x2="165.50" y2="302.70" stroke="#aaa" stroke-width="0.35"/>
<line x1="168.40" y1="301.80" x2="168.40" y2="303.40" stroke="#777" stroke-width="0.5"/>
<line x1="171.20" y1="301.80" x2="171.20" y2="302.70" stroke="#aaa" stroke-width="0.35"/>
<line x1="174.00" y1="301.80" x2="174.00" y2="302.70" stroke="#aaa" stroke-width="0.35"/>
<line x1="176.80" y1="301.80" x2="176.80" y2="302.70" stroke="#aaa" stroke-width="0.35"/>
<line x1="179.70" y1="301.80" x2="179.70" y2="303.40" stroke="#777" stroke-width="0.5"/>
<line x1="182.50" y1="301.80" x2="182.50" y2="302.70" stroke="#aaa" stroke-width="0.35"/>
<line x1="185.30" y1="301.80" x2="185.30" y2="302.70" stroke="#aaa" stroke-width="0.35"/>
<line x1="188.10" y1="301.80" x2="188.10" y2="302.70" stroke="#aaa" stroke-width="0.35"/>
<line x1="191.00" y1="301.80" x2="191.00" y2="303.40" stroke="#777" stroke-width="0.5"/>
<line x1="193.80" y1="301.80" x2="193.80" y2="302.70" stroke="#aaa" stroke-width="0.35"/>
<line x1="196.60" y1="301.80" x2="196.60" y2="302.70" stroke="#aaa" stroke-width="0.35"/>
<line x1="199.40" y1="301.80" x2="199.40" y2="302.70" stroke="#aaa" stroke-width="0.35"/>
<rect x="214.70" y="235.60" width="65.60" height="66.40" fill="none" stroke="#9c9c9c" stroke-width="0.7"/>
<rect x="213.10" y="283.20" width="1.20" height="2.40" fill="#333" stroke="none" stroke-width="0.8"/>
<rect x="227.20" y="301.70" width="2.60" height="1.10" fill="#333" stroke="none" stroke-width="0.8"/>
<line x1="212.90" y1="244.50" x2="214.70" y2="244.50" stroke="#777" stroke-width="0.5"/>
<line x1="212.90" y1="256.00" x2="214.70" y2="256.00" stroke="#777" stroke-width="0.5"/>
<line x1="212.90" y1="267.60" x2="214.70" y2="267.60" stroke="#777" stroke-width="0.5"/>
<line x1="213.70" y1="247.00" x2="214.70" y2="247.00" stroke="#aaa" stroke-width="0.35"/>
<line x1="213.70" y1="249.50" x2="214.70" y2="249.50" stroke="#aaa" stroke-width="0.35"/>
<line x1="213.70" y1="252.00" x2="214.70" y2="252.00" stroke="#aaa" stroke-width="0.35"/>
<line x1="213.70" y1="259.00" x2="214.70" y2="259.00" stroke="#aaa" stroke-width="0.35"/>
<line x1="213.70" y1="262.00" x2="214.70" y2="262.00" stroke="#aaa" stroke-width="0.35"/>
<line x1="213.70" y1="264.50" x2="214.70" y2="264.50" stroke="#aaa" stroke-width="0.35"/>
<line x1="225.70" y1="302.00" x2="225.70" y2="303.60" stroke="#777" stroke-width="0.5"/>
<line x1="228.50" y1="302.00" x2="228.50" y2="302.90" stroke="#aaa" stroke-width="0.35"/>
<line x1="231.30" y1="302.00" x2="231.30" y2="302.90" stroke="#aaa" stroke-width="0.35"/>
<line x1="234.10" y1="302.00" x2="234.10" y2="302.90" stroke="#aaa" stroke-width="0.35"/>
<line x1="237.00" y1="302.00" x2="237.00" y2="303.60" stroke="#777" stroke-width="0.5"/>
<line x1="239.80" y1="302.00" x2="239.80" y2="302.90" stroke="#aaa" stroke-width="0.35"/>
<line x1="242.60" y1="302.00" x2="242.60" y2="302.90" stroke="#aaa" stroke-width="0.35"/>
<line x1="245.40" y1="302.00" x2="245.40" y2="302.90" stroke="#aaa" stroke-width="0.35"/>
<line x1="248.30" y1="302.00" x2="248.30" y2="303.60" stroke="#777" stroke-width="0.5"/>
<line x1="251.10" y1="302.00" x2="251.10" y2="302.90" stroke="#aaa" stroke-width="0.35"/>
<line x1="253.90" y1="302.00" x2="253.90" y2="302.90" stroke="#aaa" stroke-width="0.35"/>
<line x1="256.70" y1="302.00" x2="256.70" y2="302.90" stroke="#aaa" stroke-width="0.35"/>
<line x1="259.60" y1="302.00" x2="259.60" y2="303.60" stroke="#777" stroke-width="0.5"/>
<line x1="262.40" y1="302.00" x2="262.40" y2="302.90" stroke="#aaa" stroke-width="0.35"/>
<line x1="265.20" y1="302.00" x2="265.20" y2="302.90" stroke="#aaa" stroke-width="0.35"/>
<line x1="268.00" y1="302.00" x2="268.00" y2="302.90" stroke="#aaa" stroke-width="0.35"/>
<path d="M53.12 253.62L50.38 252.50L48.00 251.88L45.75 251.88L43.38 251.12L41.50 251.25L39.38 251.00L37.38 251.50L33.25 251.50L31.00 252.50L30.00 253.50L29.12 254.88L28.12 254.50L27.38 254.50L26.50 254.88L25.88 255.50L25.25 256.75L25.00 258.38L25.00 259.88L26.00 261.50L26.00 266.25L25.62 269.25L24.62 273.00L23.50 275.12L23.00 276.62L21.62 279.00L21.25 281.50L21.25 286.25L21.50 287.88L23.75 292.00L25.12 293.62L27.25 294.25L30.00 294.25L33.00 293.62L35.62 291.50L38.38 288.50L40.75 287.12L43.00 285.25L44.62 284.50L51.00 279.88L52.38 278.50L52.75 277.75L52.62 275.38L52.00 273.12L52.38 269.88L53.12 268.50L53.38 266.50L54.38 264.00L54.75 261.38L55.75 260.00L56.00 259.25L55.50 257.50Z" fill="#1428ff" fill-rule="evenodd"/>
<path d="M39.12 279.88L39.75 280.50L42.00 281.38L42.75 282.12L42.75 282.50L41.75 283.50L41.75 284.12L43.62 284.00L46.50 282.00L46.50 281.75L44.00 281.00L43.00 279.62L40.12 279.50ZM44.62 277.75L43.88 278.00L44.00 278.62L44.75 278.38ZM39.00 275.00L38.88 275.62L39.25 277.12L39.88 277.62L40.88 277.38L41.12 277.00L40.50 275.75L39.88 275.12ZM52.00 275.62L51.62 274.00L51.00 273.38L49.88 272.88L49.50 273.00L48.38 274.25L46.62 274.25L46.00 274.62L46.00 274.88L46.62 275.38L47.25 275.38L48.62 274.88L50.88 276.38L51.50 276.38ZM26.38 256.38L26.12 256.88L26.25 257.62L27.12 258.00L28.25 257.75L27.00 256.00ZM52.25 255.25L50.75 254.75L49.62 253.62L48.25 253.00L45.75 253.62L45.00 253.38L44.50 252.50L43.62 252.38L42.62 253.25L42.25 253.25L40.88 251.75L39.75 251.62L39.50 251.88L39.50 252.38L40.00 253.38L40.88 253.75L40.88 254.00L39.62 254.12L38.00 253.75L37.88 254.75L37.12 255.62L35.38 256.25L33.50 256.25L33.38 256.12L34.12 255.50L34.12 254.75L33.38 253.88L32.62 253.62L31.62 254.75L31.62 256.12L29.62 257.12L29.00 257.75L28.88 258.50L29.25 259.88L29.12 260.75L28.62 261.62L27.50 262.00L26.88 263.00L27.12 263.88L26.62 264.12L26.50 267.88L25.88 271.50L24.00 275.38L23.75 276.38L22.25 279.00L22.00 280.00L21.75 283.38L22.00 287.50L24.00 291.38L25.25 293.00L26.12 293.50L27.62 293.75L29.62 293.75L32.00 293.38L33.00 292.88L35.00 291.00L35.88 289.12L36.00 288.00L37.00 286.12L37.38 284.88L38.12 284.38L38.12 283.88L37.50 283.12L37.38 281.62L37.62 279.75L36.88 278.25L37.00 276.50L36.62 274.75L35.88 273.38L36.00 273.00L41.75 272.62L46.62 271.62L49.62 270.25L50.88 269.00L52.50 268.00L52.75 266.25L53.75 263.88L53.50 262.12L53.62 260.62L55.00 259.12L55.12 258.50L54.50 257.62L53.50 257.00Z" fill="#0a6eff" fill-rule="evenodd"/>
<path d="M52.00 257.25L51.38 257.12L49.12 255.62L48.50 255.50L47.25 254.75L46.50 254.62L43.00 254.88L41.12 255.62L39.12 255.38L38.12 255.88L37.12 256.75L34.88 257.62L31.50 257.38L30.25 258.25L30.12 259.12L30.88 260.75L30.00 261.38L29.25 262.38L29.38 264.75L27.75 265.62L28.00 266.38L27.88 268.25L28.25 268.75L29.38 268.75L30.62 268.12L31.62 267.12L32.75 266.88L33.25 267.38L33.00 267.88L33.00 269.12L31.88 270.50L30.50 271.25L29.25 271.25L28.12 270.50L27.75 270.50L27.00 272.12L26.38 272.75L25.75 273.00L25.12 273.88L24.00 276.88L22.50 279.50L22.88 280.50L22.88 281.38L22.38 282.25L22.12 283.38L22.38 287.38L24.12 290.88L25.50 292.75L27.12 293.38L30.00 293.38L32.00 293.00L32.75 292.50L34.75 288.88L36.25 284.25L36.25 280.12L35.62 278.88L36.00 276.50L34.50 272.12L36.38 272.12L38.38 271.62L40.88 271.88L43.00 271.00L47.00 270.62L47.88 270.12L49.38 268.38L50.88 267.75L51.25 267.38L51.50 266.00L52.62 264.50L52.62 260.75L52.38 259.50L52.75 258.38ZM41.62 265.12L42.00 264.75L42.88 265.00L43.50 265.88L43.12 266.25L42.12 266.12L41.62 265.75ZM45.62 263.75L46.50 263.88L47.25 264.88L47.25 266.00L46.50 266.75L45.00 266.88L44.25 266.38L44.12 265.38L44.62 264.38Z" fill="#00b4ff" fill-rule="evenodd"/>
<path d="M31.75 272.38L30.50 272.62L29.12 272.38L28.25 272.50L25.62 275.00L23.88 279.25L23.88 281.25L22.88 284.00L23.25 286.50L24.12 288.50L24.38 290.62L24.75 291.38L25.88 292.62L26.75 293.00L29.88 293.12L31.12 292.88L33.38 289.50L33.88 288.38L34.12 287.00L35.00 285.12L35.25 280.62L34.75 279.12L35.00 276.50L33.88 273.38ZM39.00 269.25L39.00 269.75L39.75 270.25L40.38 270.12L40.50 269.75L40.25 269.25L39.75 269.00L39.25 269.00ZM49.00 257.12L48.50 256.62L45.88 255.88L44.25 255.88L40.50 256.88L38.50 257.00L37.00 258.00L35.38 260.00L34.38 260.12L33.50 260.75L32.88 262.12L32.88 263.25L33.50 264.00L34.62 264.12L35.62 263.88L37.12 263.00L39.62 263.75L41.25 263.75L45.62 262.75L47.38 261.75L49.00 261.38L49.50 260.88L49.62 259.62L49.12 258.38Z" fill="#10e8e0" fill-rule="evenodd"/>
<path d="M29.62 273.88L28.25 274.12L27.00 275.00L26.25 275.88L25.50 277.62L24.00 284.38L24.00 286.50L25.25 290.00L25.88 291.00L27.88 292.88L29.25 292.88L31.12 291.38L31.62 290.00L33.00 288.25L34.12 284.62L34.25 280.00L34.00 279.12L34.00 277.25L32.38 274.88L31.12 274.62ZM35.62 261.38L34.75 261.50L34.25 262.00L34.00 262.75L34.25 263.00L35.50 262.75L36.00 262.12ZM47.50 257.88L47.25 257.50L46.00 257.00L44.50 257.00L43.38 257.50L40.38 257.75L39.00 258.25L37.75 259.62L37.62 260.50L38.00 261.50L38.50 262.00L40.00 262.75L42.25 262.75L45.75 261.50L46.62 260.25L46.75 259.38Z" fill="#40ff70" fill-rule="evenodd"/>
<path d="M29.88 275.25L29.12 275.25L27.25 276.50L26.00 278.88L25.25 281.25L25.00 282.88L25.25 285.00L24.88 285.75L24.88 287.12L25.50 288.75L26.50 290.25L28.25 291.12L29.62 291.00L30.38 290.50L31.12 289.12L32.00 288.25L32.88 286.25L33.25 284.75L33.50 280.00L33.12 277.88L32.25 276.88ZM45.75 258.62L45.12 258.12L44.50 258.12L42.62 259.12L41.12 259.12L40.88 259.38L40.88 260.00L41.88 260.62L44.62 260.75L45.50 260.12L45.75 259.62Z" fill="#a0ff20" fill-rule="evenodd"/>
<path d="M30.00 276.62L28.75 276.75L27.62 277.62L26.38 279.75L25.75 282.00L25.75 283.12L26.12 284.00L25.75 287.12L26.62 289.12L28.38 289.88L29.12 289.88L29.75 289.38L31.88 286.25L32.50 284.50L32.75 280.00L31.88 277.88L31.25 277.25Z" fill="#ffee00" fill-rule="evenodd"/>
<path d="M29.75 277.50L28.88 277.62L28.12 278.25L26.88 280.62L26.50 282.00L26.50 283.00L26.88 284.00L26.62 286.25L27.00 287.00L27.62 287.62L28.25 287.88L29.00 287.75L30.50 286.75L31.88 283.75L31.88 280.12L30.62 278.00Z" fill="#ff9a00" fill-rule="evenodd"/>
<path d="M29.75 280.00L29.12 280.12L27.75 281.50L27.75 285.88L28.38 286.62L29.25 286.62L29.75 286.25L30.00 285.75L30.00 284.38L31.12 283.12L30.88 281.25Z" fill="#ff1a00" fill-rule="evenodd"/>
<path d="M120.72 255.22L114.35 253.10L111.47 253.35L109.47 254.22L106.72 254.85L102.22 251.47L101.22 250.97L99.97 250.72L99.35 250.97L98.60 251.72L96.85 254.60L95.10 256.48L94.60 257.48L94.47 262.98L94.85 263.85L94.85 264.85L95.60 266.60L95.72 267.98L95.10 269.98L92.85 274.48L91.85 277.60L91.47 279.48L91.72 287.35L91.97 288.23L92.97 289.73L95.47 291.98L96.85 292.60L98.10 292.60L103.72 291.10L107.85 286.98L108.85 286.35L111.85 283.10L112.97 279.60L114.47 277.98L116.47 274.23L116.97 272.23L117.72 270.73L122.85 265.60L123.22 264.73L123.60 262.10L123.47 260.10L122.10 257.98L121.85 257.10Z" fill="#1428ff" fill-rule="evenodd"/>
<path d="M111.22 281.98L110.47 282.48L110.60 282.98L111.22 282.85ZM113.35 276.73L112.97 276.48L111.47 276.98L109.85 276.73L109.22 277.10L109.10 277.73L109.47 278.35L110.22 278.85L112.97 277.35ZM120.10 256.85L118.85 256.48L117.85 256.60L117.35 257.73L117.47 259.23L114.85 258.35L112.60 256.60L111.97 255.60L112.22 254.85L112.72 254.35L114.35 254.47L114.47 254.22L114.10 253.85L113.35 253.72L111.22 254.10L109.85 254.85L108.72 255.10L108.22 255.60L108.47 256.10L107.60 256.48L105.72 256.48L104.85 256.23L100.60 256.35L99.97 256.98L99.72 258.48L99.35 259.23L98.10 259.23L96.85 259.98L96.85 260.85L97.22 261.35L98.47 261.60L99.10 262.98L99.47 262.73L100.85 263.85L100.35 264.35L99.47 263.35L98.47 263.35L96.10 263.98L95.47 264.48L95.47 265.10L96.22 266.73L96.35 267.98L95.72 269.48L95.47 270.98L94.47 272.35L93.22 275.10L91.97 279.98L92.35 287.60L93.35 289.35L95.85 291.60L96.97 292.10L98.10 292.10L101.10 291.35L103.35 290.48L104.35 289.60L104.72 288.10L104.35 286.98L105.60 284.73L106.35 284.23L107.72 284.35L107.97 283.98L107.97 283.48L107.60 282.98L106.72 282.60L105.97 282.73L105.47 281.85L104.97 280.10L104.97 277.48L104.60 276.48L104.60 274.85L103.97 272.85L102.97 271.48L100.97 269.73L100.97 269.48L102.35 269.35L103.60 269.98L104.85 270.23L105.22 270.60L105.10 272.23L105.60 272.60L106.60 272.35L107.72 271.23L108.72 271.35L110.10 272.60L111.72 272.48L112.10 271.98L111.22 271.23L110.85 270.35L111.97 269.23L113.72 268.73L114.85 267.98L116.97 267.35L117.72 266.73L118.60 265.48L119.60 263.23L120.22 262.48L122.10 262.48L122.22 261.98L121.85 261.10L120.10 259.48Z" fill="#0a6eff" fill-rule="evenodd"/>
<path d="M103.22 265.48L102.85 265.10L101.85 265.35L101.22 265.85L101.22 266.73L101.85 266.85L103.10 266.35L103.35 266.10ZM98.72 264.23L97.85 264.35L96.72 264.98L96.47 265.35L96.97 267.10L96.72 270.73L97.10 271.10L97.22 270.23L97.60 269.85L98.72 269.98L99.47 270.73L98.97 271.35L96.60 272.10L95.35 272.73L94.60 273.48L93.72 274.85L92.35 279.73L92.47 286.23L92.72 287.73L93.35 288.85L95.85 291.23L96.72 291.73L98.60 291.73L102.10 290.48L103.47 288.85L103.47 286.73L104.60 283.85L104.10 280.73L104.10 278.48L103.60 276.85L103.47 274.98L102.22 272.73L101.10 271.60L100.22 271.35L99.72 270.48L100.35 268.10L100.35 266.98L99.60 264.98ZM109.60 263.85L108.72 264.23L108.10 264.85L107.60 265.85L107.60 266.85L106.22 267.73L106.35 268.73L107.10 269.60L109.10 270.10L109.72 269.60L108.85 267.60L109.47 265.98L110.22 264.98L110.22 264.23ZM105.22 260.23L105.47 260.98L106.22 261.73L108.47 262.60L109.97 262.73L111.35 262.10L112.60 262.23L113.10 261.98L114.22 262.98L115.47 263.23L115.97 263.10L116.47 262.48L116.35 261.48L115.72 260.60L114.72 260.48L113.60 260.85L112.85 259.48L111.97 259.60L109.72 258.48L108.35 258.48L107.60 258.23L106.35 258.35L105.72 258.98Z" fill="#00b4ff" fill-rule="evenodd"/>
<path d="M99.35 272.73L98.60 272.73L96.22 273.48L95.35 274.23L94.47 275.60L94.22 276.98L92.60 280.60L92.97 287.60L93.72 288.85L95.47 290.60L96.47 291.35L97.47 291.60L99.10 291.35L100.85 290.60L101.10 289.98L102.60 288.23L102.85 286.10L103.60 284.10L103.47 280.85L102.85 277.23L101.47 274.73L99.85 272.98ZM108.10 260.35L108.72 261.10L109.22 261.23L109.85 260.85L109.47 260.23L108.72 260.10Z" fill="#10e8e0" fill-rule="evenodd"/>
<path d="M96.72 274.48L95.97 274.98L95.22 277.23L93.60 280.48L93.35 286.48L93.60 287.35L94.97 289.73L96.10 290.85L97.22 291.35L98.10 291.35L99.60 290.98L101.72 288.10L102.22 285.35L102.85 283.73L102.85 281.60L102.22 278.10L100.97 275.85L99.47 274.73Z" fill="#40ff70" fill-rule="evenodd"/>
<path d="M96.97 275.98L94.47 280.35L94.10 283.23L94.10 286.48L95.47 288.35L96.10 289.85L96.85 290.60L97.60 290.98L98.35 290.98L98.97 290.60L100.85 287.85L101.35 285.23L102.10 283.10L102.10 280.35L101.10 277.48L99.97 276.23Z" fill="#a0ff20" fill-rule="evenodd"/>
<path d="M99.47 277.10L97.60 277.23L96.60 278.10L95.47 279.85L94.72 283.10L94.85 286.23L96.35 288.10L96.72 289.10L97.47 289.73L98.47 289.60L99.72 287.98L100.35 286.35L101.47 281.85L101.35 280.35L100.72 278.35L100.35 277.73Z" fill="#ffee00" fill-rule="evenodd"/>
<path d="M98.97 278.10L97.85 278.35L96.72 279.35L96.22 280.23L95.97 281.73L95.47 282.85L95.35 283.98L95.72 285.60L96.10 286.35L97.35 287.48L98.10 287.48L99.35 286.35L100.60 282.48L100.60 280.98L99.47 278.35Z" fill="#ff9a00" fill-rule="evenodd"/>
<path d="M98.60 280.35L97.97 280.35L97.60 280.60L96.35 283.23L96.35 284.35L96.85 285.10L97.47 285.48L97.97 285.48L98.72 284.98L99.60 282.98L99.60 281.73L98.97 280.60Z" fill="#ff1a00" fill-rule="evenodd"/>
<circle cx="118.4" cy="281.4" r="1.1" fill="#0a1eff"/>
<path d="M187.85 254.22L186.10 253.35L182.60 252.10L180.35 252.10L176.97 253.10L173.22 253.72L171.85 254.47L169.10 255.22L167.47 256.10L166.60 256.85L166.60 257.73L167.72 260.48L169.47 262.60L169.47 265.48L167.60 267.73L166.85 268.35L165.72 268.85L164.22 270.35L162.10 273.35L161.10 275.60L160.10 276.98L158.85 279.60L158.72 282.48L158.10 284.48L158.22 286.35L159.85 289.48L161.97 292.48L163.60 294.10L164.35 294.48L165.97 294.73L170.10 294.73L171.72 294.48L173.10 293.73L176.47 289.98L177.22 288.48L178.22 285.35L178.85 281.85L178.72 279.73L177.72 277.60L177.85 276.35L180.47 274.48L183.10 273.23L185.97 271.10L188.97 267.85L189.35 267.10L189.47 265.73L188.85 262.60L188.85 260.35L189.35 258.23L189.47 256.23L189.10 255.35Z" fill="#1428ff" fill-rule="evenodd"/>
<path d="M169.60 267.48L167.22 269.85L166.97 270.73L166.60 271.10L164.60 271.10L162.85 273.48L162.35 275.35L160.97 277.60L160.97 279.10L160.22 280.35L160.10 281.85L159.47 284.35L158.97 285.23L159.10 285.73L159.47 285.73L160.10 286.35L160.47 287.23L160.60 289.23L162.22 291.73L163.97 293.60L164.97 293.98L167.47 294.23L170.10 294.10L171.47 293.85L172.47 293.35L175.10 290.73L176.10 289.35L176.97 287.23L177.60 284.60L177.47 283.23L177.72 281.85L177.35 279.85L176.47 277.98L176.47 276.10L175.85 274.10L173.35 271.73L172.47 269.85L171.97 269.48L170.97 269.23L170.47 268.73L170.10 267.85ZM177.60 266.23L177.97 267.10L180.22 267.85L180.60 268.23L181.22 269.85L181.60 269.85L182.60 268.48L184.35 268.85L184.97 270.35L185.22 270.48L185.72 270.10L185.72 269.73L184.97 268.73L185.85 267.73L185.97 266.73L185.10 265.48L184.60 265.48L182.47 267.73L181.72 267.60L181.10 266.98L180.85 266.10L180.22 265.48L179.60 265.23L178.85 265.35ZM174.10 265.23L173.10 265.60L172.60 266.35L172.85 267.10L173.72 268.10L174.10 268.10L174.47 267.73L174.72 266.60L174.72 265.60ZM182.85 263.73L182.22 263.60L181.35 264.10L181.22 264.98L181.72 265.48L182.47 265.48L183.22 264.98L183.35 264.48ZM176.85 262.23L175.60 262.23L175.10 262.73L174.97 263.73L175.47 264.35L176.47 264.48L177.10 263.85L177.22 262.60ZM187.22 257.85L186.47 257.85L185.47 258.48L184.22 258.60L183.60 258.98L184.10 259.85L184.10 260.98L183.72 261.73L183.72 262.60L185.35 264.35L185.97 264.23L186.72 263.23L185.97 261.23L186.22 260.35L186.72 259.85L187.47 260.23L187.72 260.85L187.72 262.60L188.10 262.60L187.97 260.73L188.35 259.73L188.35 258.73ZM178.85 257.35L178.60 257.60L178.60 259.23L178.85 259.60L179.60 259.73L180.10 259.23L180.10 258.23L179.72 257.48ZM169.10 256.10L168.72 256.48L168.72 256.85L169.97 257.98L170.10 258.73L170.72 258.98L170.85 258.35L170.35 257.60L170.22 255.97L169.72 255.85ZM182.85 254.35L182.97 254.85L183.60 254.72L183.60 254.35ZM179.85 253.35L179.72 254.10L180.10 254.47L180.72 254.47L180.97 253.85L180.47 253.35Z" fill="#0a6eff" fill-rule="evenodd"/>
<path d="M171.22 272.10L169.10 271.98L167.35 272.48L166.22 273.10L164.47 273.23L163.85 273.85L163.22 275.73L162.22 277.35L161.97 279.48L161.22 281.73L161.35 283.60L161.10 285.60L161.60 288.48L161.97 289.60L163.35 291.35L163.97 292.60L164.47 293.10L165.60 293.60L169.72 293.73L171.97 292.60L172.85 291.85L173.60 290.35L175.85 287.23L176.35 282.23L175.85 279.73L174.97 278.23L175.10 275.98L173.22 273.48Z" fill="#00b4ff" fill-rule="evenodd"/>
<path d="M169.60 273.23L168.35 273.23L167.85 273.48L166.97 274.60L166.35 274.85L165.10 274.85L164.60 275.23L163.47 277.35L162.35 281.35L162.47 283.73L162.22 284.73L162.22 286.73L162.97 289.10L166.47 292.60L166.97 292.85L168.60 292.73L169.97 291.98L171.35 291.60L172.10 290.98L173.60 287.73L174.85 286.23L174.97 284.23L175.35 283.23L175.10 281.23L173.85 278.60L173.60 276.23L172.22 274.48Z" fill="#10e8e0" fill-rule="evenodd"/>
<path d="M169.85 274.85L168.85 274.85L167.72 275.60L165.85 276.23L164.35 277.85L163.22 281.35L163.22 286.10L164.10 287.60L164.85 289.60L167.22 291.73L169.60 291.10L171.10 290.35L171.97 289.23L172.97 286.98L173.97 285.48L174.10 282.35L172.60 276.98L171.72 275.60Z" fill="#40ff70" fill-rule="evenodd"/>
<path d="M170.10 276.10L168.60 276.23L166.10 277.35L165.10 278.48L164.10 281.23L164.22 283.48L163.85 284.48L163.97 285.73L165.97 289.23L167.72 290.48L168.97 290.35L171.10 288.85L173.10 284.85L172.72 279.98L172.35 278.73L171.22 276.73Z" fill="#a0ff20" fill-rule="evenodd"/>
<path d="M169.60 277.10L168.47 277.23L166.47 278.60L165.85 279.35L164.97 281.48L165.10 283.60L164.72 284.48L164.72 285.60L166.35 287.85L168.10 289.23L169.10 289.10L170.10 288.35L171.97 285.23L172.22 283.98L171.85 279.35L171.35 278.48L170.35 277.48Z" fill="#ffee00" fill-rule="evenodd"/>
<path d="M169.60 278.48L168.72 278.48L166.72 279.85L165.97 281.35L166.10 283.23L165.60 284.85L165.72 285.60L167.85 287.48L168.47 287.73L169.22 287.48L170.85 285.48L171.35 283.98L171.22 280.10L170.97 279.48Z" fill="#ff9a00" fill-rule="evenodd"/>
<path d="M168.47 280.10L167.60 280.48L166.97 281.23L167.10 284.23L167.47 284.85L169.10 285.23L170.22 284.48L170.47 283.10L169.85 280.35L169.47 280.10Z" fill="#ff1a00" fill-rule="evenodd"/>
<path d="M248.20 252.10L247.32 252.10L245.07 253.22L241.07 253.10L239.07 252.60L237.45 252.60L234.95 254.35L233.07 256.10L232.82 256.60L232.82 257.73L233.07 258.35L232.95 261.23L233.45 263.35L232.32 268.23L230.70 270.35L230.20 271.73L224.95 276.85L224.95 278.23L225.95 281.85L226.95 284.23L227.07 285.73L227.82 288.85L231.70 293.23L233.07 293.98L236.95 295.10L238.95 294.85L243.20 292.48L244.57 290.98L245.70 288.60L246.07 286.85L246.20 284.23L245.95 279.10L246.70 276.10L246.70 273.85L244.95 269.35L245.20 268.73L246.82 266.73L246.70 263.23L247.57 262.35L249.57 261.23L250.20 260.60L250.82 258.48L250.70 255.22Z" fill="#1428ff" fill-rule="evenodd"/>
<path d="M232.45 269.85L232.07 269.85L231.45 270.35L231.20 270.98L231.32 271.35L231.95 271.35L232.32 270.98ZM236.57 269.60L235.45 269.98L234.20 271.60L233.20 271.98L230.57 275.10L230.32 276.73L229.82 277.98L229.57 280.48L228.57 282.48L228.82 286.85L228.70 288.73L231.32 292.10L232.70 293.23L236.70 294.48L238.20 294.48L240.95 293.23L243.07 291.73L243.82 290.85L244.95 288.60L245.57 284.10L245.32 278.98L245.70 276.85L244.95 275.48L244.82 273.73L243.70 273.10L242.82 272.23L242.45 271.48L240.57 269.85L239.70 269.73L238.07 269.98L237.20 269.60ZM234.20 264.85L234.07 265.48L234.57 265.48L234.70 264.98ZM244.32 263.73L243.20 264.23L242.45 265.10L242.45 265.85L243.07 266.60L242.82 268.23L243.20 268.73L243.70 268.73L244.45 268.23L245.82 266.35L245.70 266.23L245.32 266.60L244.20 266.60L243.70 266.23L243.70 265.35L244.45 264.35L245.07 264.35L245.70 264.85L245.45 264.23ZM236.95 256.85L236.32 256.98L235.95 257.73L235.95 259.10L236.20 259.60L236.45 259.60L236.82 258.60L237.45 257.85L237.45 257.48ZM244.95 256.48L243.95 255.97L243.32 255.97L239.95 258.35L239.95 258.73L240.70 259.60L240.70 260.35L240.07 261.60L240.20 262.23L240.70 262.23L241.45 261.60L241.70 261.10L241.82 259.60L243.20 258.23L245.20 257.10ZM242.57 254.35L242.70 254.60L243.20 254.72L243.70 254.22L243.45 253.97L242.82 253.97Z" fill="#0a6eff" fill-rule="evenodd"/>
<path d="M239.07 271.73L237.95 272.10L236.70 273.10L234.20 273.48L233.20 274.10L232.45 275.23L232.07 276.73L230.95 278.73L230.70 280.35L229.82 282.85L230.07 287.10L231.07 291.23L232.57 292.73L236.70 294.10L238.57 293.98L241.57 292.35L242.95 290.23L244.07 287.85L244.57 284.85L244.45 282.10L244.82 280.73L244.82 279.35L243.95 276.35L242.95 274.60L241.45 272.98L240.07 271.98Z" fill="#00b4ff" fill-rule="evenodd"/>
<path d="M238.95 273.48L238.07 273.60L237.20 274.10L235.07 274.48L233.82 275.35L231.82 279.23L230.70 283.23L231.20 286.60L231.82 288.35L232.20 291.10L232.57 292.10L233.57 292.85L237.07 293.85L239.95 292.85L240.57 292.23L242.07 288.85L243.07 287.73L243.45 286.85L243.57 282.10L243.95 280.60L243.70 279.35L242.82 276.85L242.32 276.10L240.45 274.23Z" fill="#10e8e0" fill-rule="evenodd"/>
<path d="M238.45 274.98L235.95 275.23L234.57 276.35L232.70 279.35L231.82 281.73L231.70 284.60L232.07 286.73L233.32 290.35L234.57 291.48L236.82 292.48L237.82 292.35L239.32 291.60L240.70 289.10L242.32 286.98L242.70 282.73L243.07 281.10L242.82 279.85L241.20 276.73L239.70 275.35Z" fill="#40ff70" fill-rule="evenodd"/>
<path d="M238.20 276.23L236.57 276.23L235.95 276.48L233.82 279.10L232.82 281.60L232.95 286.85L234.07 289.48L234.82 290.10L236.45 290.73L237.57 290.60L238.45 290.23L240.70 287.85L241.57 285.85L242.07 282.10L241.95 280.48L240.45 277.60L239.45 276.60Z" fill="#a0ff20" fill-rule="evenodd"/>
<path d="M238.20 277.48L236.32 277.85L235.07 279.10L234.32 280.35L233.70 282.48L233.57 286.10L234.57 288.35L235.20 288.98L236.45 289.35L237.95 289.23L239.95 287.60L240.70 285.73L240.70 284.35L241.20 282.48L241.07 280.73L239.82 278.48L239.07 277.73Z" fill="#ffee00" fill-rule="evenodd"/>
<path d="M237.95 278.73L236.82 279.10L235.82 279.85L234.32 283.35L234.45 285.85L235.20 287.23L236.07 287.85L237.82 287.98L238.45 287.73L239.20 286.98L239.82 285.35L239.82 283.85L240.32 282.23L240.32 281.35L239.45 279.73L238.70 278.98Z" fill="#ff9a00" fill-rule="evenodd"/>
<path d="M237.57 281.10L237.07 281.10L235.07 283.60L235.20 285.23L236.20 286.23L237.57 286.10L238.32 285.60L238.70 284.98L238.82 283.60L238.32 281.60Z" fill="#ff1a00" fill-rule="evenodd"/>
<rect x="34.40" y="245.60" width="33.30" height="29.40" fill="none" stroke="#ef6a5a" stroke-width="0.9"/>
<text x="51.65" y="244.40" font-size="6.3" text-anchor="middle" font-weight="bold" fill="#333" stroke="#333" stroke-width="0.1">36.9%</text>
<rect x="103.00" y="245.40" width="33.70" height="29.60" fill="none" stroke="#ef6a5a" stroke-width="0.9"/>
<text x="120.45" y="244.40" font-size="6.3" text-anchor="middle" font-weight="bold" fill="#333" stroke="#333" stroke-width="0.1">21.5%</text>
<rect x="172.20" y="245.70" width="33.20" height="29.60" fill="none" stroke="#ef6a5a" stroke-width="0.9"/>
<text x="189.40" y="244.40" font-size="6.3" text-anchor="middle" font-weight="bold" fill="#333" stroke="#333" stroke-width="0.1">16.8%</text>
<rect x="240.20" y="245.70" width="33.60" height="29.60" fill="none" stroke="#ef6a5a" stroke-width="0.9"/>
<text x="257.60" y="244.40" font-size="6.3" text-anchor="middle" font-weight="bold" fill="#333" stroke="#333" stroke-width="0.1">6.15%</text>
<path d="M3.4 307.2V286.5M3.4 307.2H27.5" stroke="#222" stroke-width="0.7" fill="none"/>
<polygon points="3.40,284.00 1.80,287.80 5.00,287.80" fill="#222" stroke="none" stroke-width="0.5"/>
<polygon points="29.60,307.20 25.80,305.60 25.80,308.80" fill="#222" stroke="none" stroke-width="0.5"/>
<text x="30.60" y="309.30" font-size="6.3" text-anchor="start" font-weight="bold" fill="#1a1a1a" stroke="#1a1a1a" stroke-width="0.1">CD25+</text>
<text x="5.10" y="271.60" font-size="5.9" text-anchor="middle" font-weight="bold" fill="#1a1a1a" stroke="#1a1a1a" stroke-width="0.1" transform="rotate(-90 5.1 271.6)">FOXP3+</text>
<line x1="301.50" y1="232.00" x2="301.50" y2="303.40" stroke="#222" stroke-width="0.8"/>
<line x1="299.30" y1="303.20" x2="301.50" y2="303.20" stroke="#222" stroke-width="0.7"/>
<text x="298.70" y="305.20" font-size="5.6" text-anchor="end" font-weight="bold" fill="#222" stroke="#222" stroke-width="0.1">0</text>
<line x1="299.30" y1="289.02" x2="301.50" y2="289.02" stroke="#222" stroke-width="0.7"/>
<text x="298.70" y="291.02" font-size="5.6" text-anchor="end" font-weight="bold" fill="#222" stroke="#222" stroke-width="0.1">10</text>
<line x1="299.30" y1="274.84" x2="301.50" y2="274.84" stroke="#222" stroke-width="0.7"/>
<text x="298.70" y="276.84" font-size="5.6" text-anchor="end" font-weight="bold" fill="#222" stroke="#222" stroke-width="0.1">20</text>
<line x1="299.30" y1="260.66" x2="301.50" y2="260.66" stroke="#222" stroke-width="0.7"/>
<text x="298.70" y="262.66" font-size="5.6" text-anchor="end" font-weight="bold" fill="#222" stroke="#222" stroke-width="0.1">30</text>
<line x1="299.30" y1="246.48" x2="301.50" y2="246.48" stroke="#222" stroke-width="0.7"/>
<text x="298.70" y="248.48" font-size="5.6" text-anchor="end" font-weight="bold" fill="#222" stroke="#222" stroke-width="0.1">40</text>
<line x1="299.30" y1="232.30" x2="301.50" y2="232.30" stroke="#222" stroke-width="0.7"/>
<text x="298.70" y="234.30" font-size="5.6" text-anchor="end" font-weight="bold" fill="#222" stroke="#222" stroke-width="0.1">50</text>
<line x1="301.50" y1="303.20" x2="364.60" y2="303.20" stroke="#222" stroke-width="0.8"/>
<text x="286.20" y="268.00" font-size="5.8" text-anchor="middle" font-weight="bold" fill="#1a1a1a" stroke="#1a1a1a" stroke-width="0.1" transform="rotate(-90 286.2 268)">% of CD4+ T cells</text>
<text x="331.80" y="227.30" font-size="6.3" text-anchor="middle" font-weight="bold" fill="#1a1a1a" stroke="#1a1a1a" stroke-width="0.1">Tregs</text>
<path d="M307.30 303.20V254.40H317.10V303.20" fill="none" stroke="#111111" stroke-width="1.2"/>
<path d="M321.00 303.20V281.80H330.80V303.20" fill="none" stroke="#1a1aff" stroke-width="1.2"/>
<path d="M334.70 303.20V283.70H344.50V303.20" fill="none" stroke="#b35ee8" stroke-width="1.2"/>
<path d="M348.40 303.20V291.50H358.20V303.20" fill="none" stroke="#ff1f1f" stroke-width="1.2"/>
<rect x="310.70" y="234.91" width="2.99" height="2.99" fill="#111111"/>
<circle cx="312.20" cy="246.00" r="1.62" fill="#111111"/>
<rect x="310.70" y="247.50" width="2.99" height="2.99" fill="#111111"/>
<rect x="307.20" y="253.50" width="2.99" height="2.99" fill="#111111"/>
<rect x="314.20" y="253.50" width="2.99" height="2.99" fill="#111111"/>
<rect x="307.20" y="263.50" width="2.99" height="2.99" fill="#111111"/>
<rect x="314.20" y="263.50" width="2.99" height="2.99" fill="#111111"/>
<rect x="310.70" y="257.50" width="2.99" height="2.99" fill="#111111"/>
<line x1="312.20" y1="243.60" x2="312.20" y2="265.10" stroke="#111111" stroke-width="0.9"/>
<line x1="309.80" y1="243.60" x2="314.60" y2="243.60" stroke="#111111" stroke-width="0.9"/>
<line x1="309.80" y1="265.10" x2="314.60" y2="265.10" stroke="#111111" stroke-width="0.9"/>
<polygon points="322.40,270.09 324.22,273.37 320.58,273.37" fill="#1a1aff" stroke="none" stroke-width="0.5"/>
<polygon points="329.40,270.09 331.22,273.37 327.58,273.37" fill="#1a1aff" stroke="none" stroke-width="0.5"/>
<polygon points="325.90,274.09 327.72,277.37 324.08,277.37" fill="#1a1aff" stroke="none" stroke-width="0.5"/>
<polygon points="322.40,279.09 324.22,282.37 320.58,282.37" fill="#1a1aff" stroke="none" stroke-width="0.5"/>
<polygon points="329.40,279.09 331.22,282.37 327.58,282.37" fill="#1a1aff" stroke="none" stroke-width="0.5"/>
<polygon points="325.90,283.09 327.72,286.37 324.08,286.37" fill="#1a1aff" stroke="none" stroke-width="0.5"/>
<polygon points="322.40,286.09 324.22,289.37 320.58,289.37" fill="#1a1aff" stroke="none" stroke-width="0.5"/>
<polygon points="329.40,286.09 331.22,289.37 327.58,289.37" fill="#1a1aff" stroke="none" stroke-width="0.5"/>
<line x1="325.90" y1="275.00" x2="325.90" y2="288.50" stroke="#1a1aff" stroke-width="0.9"/>
<line x1="323.50" y1="275.00" x2="328.30" y2="275.00" stroke="#1a1aff" stroke-width="0.9"/>
<line x1="323.50" y1="288.50" x2="328.30" y2="288.50" stroke="#1a1aff" stroke-width="0.9"/>
<polygon points="336.60,280.91 338.42,277.63 334.78,277.63" fill="#b35ee8" stroke="none" stroke-width="0.5"/>
<polygon points="342.60,280.91 344.42,277.63 340.78,277.63" fill="#b35ee8" stroke="none" stroke-width="0.5"/>
<polygon points="339.60,282.91 341.42,279.63 337.78,279.63" fill="#b35ee8" stroke="none" stroke-width="0.5"/>
<polygon points="336.10,285.91 337.92,282.63 334.28,282.63" fill="#b35ee8" stroke="none" stroke-width="0.5"/>
<polygon points="343.10,285.91 344.92,282.63 341.28,282.63" fill="#b35ee8" stroke="none" stroke-width="0.5"/>
<polygon points="339.60,288.91 341.42,285.63 337.78,285.63" fill="#b35ee8" stroke="none" stroke-width="0.5"/>
<polygon points="339.60,291.91 341.42,288.63 337.78,288.63" fill="#b35ee8" stroke="none" stroke-width="0.5"/>
<line x1="339.60" y1="278.50" x2="339.60" y2="289.00" stroke="#b35ee8" stroke-width="0.9"/>
<line x1="337.20" y1="278.50" x2="342.00" y2="278.50" stroke="#b35ee8" stroke-width="0.9"/>
<line x1="337.20" y1="289.00" x2="342.00" y2="289.00" stroke="#b35ee8" stroke-width="0.9"/>
<circle cx="350.30" cy="289.50" r="1.62" fill="#ff1f1f"/>
<circle cx="353.30" cy="289.00" r="1.62" fill="#ff1f1f"/>
<circle cx="356.30" cy="289.50" r="1.62" fill="#ff1f1f"/>
<circle cx="349.80" cy="292.00" r="1.62" fill="#ff1f1f"/>
<circle cx="356.80" cy="292.00" r="1.62" fill="#ff1f1f"/>
<circle cx="353.30" cy="295.00" r="1.62" fill="#ff1f1f"/>
<line x1="353.30" y1="289.00" x2="353.30" y2="294.00" stroke="#ff1f1f" stroke-width="0.9"/>
<line x1="350.90" y1="289.00" x2="355.70" y2="289.00" stroke="#ff1f1f" stroke-width="0.9"/>
<line x1="350.90" y1="294.00" x2="355.70" y2="294.00" stroke="#ff1f1f" stroke-width="0.9"/>
<line x1="326.40" y1="267.10" x2="353.80" y2="267.10" stroke="#3a3a3a" stroke-width="0.8"/>
<text x="340.10" y="269.00" font-size="6.0" text-anchor="middle" font-weight="bold" fill="#222" stroke="#222" stroke-width="0.1">**</text>
<line x1="340.10" y1="273.90" x2="353.80" y2="273.90" stroke="#3a3a3a" stroke-width="0.8"/>
<text x="346.95" y="275.80" font-size="6.0" text-anchor="middle" font-weight="bold" fill="#222" stroke="#222" stroke-width="0.1">*</text>
<rect x="318.48" y="232.08" width="2.24" height="2.24" fill="#111111"/>
<text x="324.20" y="235.20" font-size="5.8" text-anchor="start" font-weight="bold" fill="#1a1a1a" stroke="#1a1a1a" stroke-width="0.1">sh<tspan font-style="italic">NC</tspan> IgG</text>
<polygon points="319.60,239.12 320.97,241.57 318.24,241.57" fill="#1a1aff" stroke="none" stroke-width="0.5"/>
<text x="324.20" y="242.55" font-size="5.8" text-anchor="start" font-weight="bold" fill="#1a1a1a" stroke="#1a1a1a" stroke-width="0.1">sh<tspan font-style="italic">SMD1</tspan> IgG</text>
<polygon points="319.60,249.33 320.97,246.88 318.24,246.88" fill="#b35ee8" stroke="none" stroke-width="0.5"/>
<text x="324.20" y="249.90" font-size="5.8" text-anchor="start" font-weight="bold" fill="#1a1a1a" stroke="#1a1a1a" stroke-width="0.1">sh<tspan font-style="italic">NC</tspan> αPD1</text>
<circle cx="319.60" cy="255.25" r="1.22" fill="#ff1f1f"/>
<text x="324.20" y="257.25" font-size="5.8" text-anchor="start" font-weight="bold" fill="#1a1a1a" stroke="#1a1a1a" stroke-width="0.1">sh<tspan font-style="italic">SMD1</tspan> αPD1</text>
<text x="2.40" y="323.90" font-size="8.6" text-anchor="start" font-weight="bold" fill="#1a1a1a" stroke="#1a1a1a" stroke-width="0.1">E</text>
<text x="55.40" y="322.80" font-size="5.9" text-anchor="middle" font-weight="bold" fill="#1a1a1a" stroke="#1a1a1a" stroke-width="0.1">Gated on F4/80+TAMs</text>
<g stroke="#c8c8c8" stroke-width="0.4">
<line x1="6.40" y1="411.50" x2="10.70" y2="406.40"/>
<line x1="10.00" y1="411.50" x2="14.30" y2="406.40"/>
<line x1="13.60" y1="411.50" x2="17.90" y2="406.40"/>
<line x1="17.20" y1="411.50" x2="21.50" y2="406.40"/>
<line x1="20.80" y1="411.50" x2="25.10" y2="406.40"/>
<line x1="24.40" y1="411.50" x2="28.70" y2="406.40"/>
<line x1="28.00" y1="411.50" x2="32.30" y2="406.40"/>
<line x1="31.60" y1="411.50" x2="35.90" y2="406.40"/>
<line x1="35.20" y1="411.50" x2="39.50" y2="406.40"/>
<line x1="38.80" y1="411.50" x2="43.10" y2="406.40"/>
<line x1="42.40" y1="411.50" x2="46.70" y2="406.40"/>
<line x1="46.00" y1="411.50" x2="50.30" y2="406.40"/>
<line x1="49.60" y1="411.50" x2="53.90" y2="406.40"/>
<line x1="53.20" y1="411.50" x2="57.50" y2="406.40"/>
<line x1="56.80" y1="411.50" x2="61.10" y2="406.40"/>
<line x1="60.40" y1="411.50" x2="64.70" y2="406.40"/>
<line x1="64.00" y1="411.50" x2="68.30" y2="406.40"/>
<line x1="67.60" y1="411.50" x2="71.90" y2="406.40"/>
<line x1="71.20" y1="411.50" x2="75.50" y2="406.40"/>
<line x1="74.80" y1="411.50" x2="79.10" y2="406.40"/>
<line x1="78.40" y1="411.50" x2="82.70" y2="406.40"/>
<line x1="82.00" y1="411.50" x2="86.30" y2="406.40"/>
<line x1="85.60" y1="411.50" x2="89.90" y2="406.40"/>
<line x1="89.20" y1="411.50" x2="93.50" y2="406.40"/>
<line x1="92.80" y1="411.50" x2="97.10" y2="406.40"/>
<line x1="10.70" y1="406.40" x2="15.00" y2="401.40"/>
<line x1="14.30" y1="406.40" x2="18.60" y2="401.40"/>
<line x1="17.90" y1="406.40" x2="22.20" y2="401.40"/>
<line x1="21.50" y1="406.40" x2="25.80" y2="401.40"/>
<line x1="25.10" y1="406.40" x2="29.40" y2="401.40"/>
<line x1="28.70" y1="406.40" x2="33.00" y2="401.40"/>
<line x1="32.30" y1="406.40" x2="36.60" y2="401.40"/>
<line x1="35.90" y1="406.40" x2="40.20" y2="401.40"/>
<line x1="39.50" y1="406.40" x2="43.80" y2="401.40"/>
<line x1="43.10" y1="406.40" x2="47.40" y2="401.40"/>
<line x1="46.70" y1="406.40" x2="51.00" y2="401.40"/>
<line x1="50.30" y1="406.40" x2="54.60" y2="401.40"/>
<line x1="53.90" y1="406.40" x2="58.20" y2="401.40"/>
<line x1="57.50" y1="406.40" x2="61.80" y2="401.40"/>
<line x1="61.10" y1="406.40" x2="65.40" y2="401.40"/>
<line x1="64.70" y1="406.40" x2="69.00" y2="401.40"/>
<line x1="68.30" y1="406.40" x2="72.60" y2="401.40"/>
<line x1="71.90" y1="406.40" x2="76.20" y2="401.40"/>
<line x1="75.50" y1="406.40" x2="79.80" y2="401.40"/>
<line x1="79.10" y1="406.40" x2="83.40" y2="401.40"/>
<line x1="82.70" y1="406.40" x2="87.00" y2="401.40"/>
<line x1="86.30" y1="406.40" x2="90.60" y2="401.40"/>
<line x1="89.90" y1="406.40" x2="94.20" y2="401.40"/>
<line x1="93.50" y1="406.40" x2="97.80" y2="401.40"/>
<line x1="97.10" y1="406.40" x2="101.40" y2="401.40"/>
<line x1="15.00" y1="401.40" x2="19.30" y2="396.60"/>
<line x1="18.60" y1="401.40" x2="22.90" y2="396.60"/>
<line x1="22.20" y1="401.40" x2="26.50" y2="396.60"/>
<line x1="25.80" y1="401.40" x2="30.10" y2="396.60"/>
<line x1="29.40" y1="401.40" x2="33.70" y2="396.60"/>
<line x1="33.00" y1="401.40" x2="37.30" y2="396.60"/>
<line x1="36.60" y1="401.40" x2="40.90" y2="396.60"/>
<line x1="40.20" y1="401.40" x2="44.50" y2="396.60"/>
<line x1="43.80" y1="401.40" x2="48.10" y2="396.60"/>
<line x1="47.40" y1="401.40" x2="51.70" y2="396.60"/>
<line x1="51.00" y1="401.40" x2="55.30" y2="396.60"/>
<line x1="54.60" y1="401.40" x2="58.90" y2="396.60"/>
<line x1="58.20" y1="401.40" x2="62.50" y2="396.60"/>
<line x1="61.80" y1="401.40" x2="66.10" y2="396.60"/>
<line x1="65.40" y1="401.40" x2="69.70" y2="396.60"/>
<line x1="69.00" y1="401.40" x2="73.30" y2="396.60"/>
<line x1="72.60" y1="401.40" x2="76.90" y2="396.60"/>
<line x1="76.20" y1="401.40" x2="80.50" y2="396.60"/>
<line x1="79.80" y1="401.40" x2="84.10" y2="396.60"/>
<line x1="83.40" y1="401.40" x2="87.70" y2="396.60"/>
<line x1="87.00" y1="401.40" x2="91.30" y2="396.60"/>
<line x1="90.60" y1="401.40" x2="94.90" y2="396.60"/>
<line x1="94.20" y1="401.40" x2="98.50" y2="396.60"/>
<line x1="97.80" y1="401.40" x2="102.10" y2="396.60"/>
<line x1="101.40" y1="401.40" x2="105.70" y2="396.60"/>
</g>
<line x1="6.40" y1="411.50" x2="19.30" y2="396.60" stroke="#888" stroke-width="0.5"/>
<line x1="19.30" y1="396.60" x2="109.10" y2="396.60" stroke="#ff3030" stroke-width="0.8"/>
<line x1="15.00" y1="401.40" x2="104.80" y2="401.40" stroke="#b366ff" stroke-width="0.8"/>
<line x1="10.70" y1="406.40" x2="100.50" y2="406.40" stroke="#2a2aff" stroke-width="0.8"/>
<line x1="6.40" y1="411.50" x2="96.20" y2="411.50" stroke="#333333" stroke-width="0.8"/>
<polygon points="46.60,396.60 46.91,395.04 46.54,395.26 46.74,393.88 47.05,393.25 46.56,391.34 46.91,391.77 46.66,390.74 47.24,389.26 47.46,387.96 46.86,388.27 47.29,385.79 47.23,386.53 47.32,384.32 47.23,383.08 47.49,382.91 47.36,381.64 47.58,380.70 47.33,379.93 47.77,380.01 47.57,378.75 48.11,378.48 47.79,376.00 48.12,376.18 47.98,375.66 48.21,374.56 48.21,372.71 48.46,372.85 48.33,371.26 48.14,369.51 48.33,369.98 48.48,367.95 48.63,368.00 48.52,366.50 48.83,365.84 48.61,364.95 48.41,363.99 48.95,362.28 48.93,363.07 48.69,361.10 49.33,360.39 49.07,359.97 48.91,359.23 49.49,357.70 49.20,356.91 49.32,355.45 48.99,355.78 49.63,354.56 49.64,353.84 49.54,352.80 49.53,351.45 49.91,349.63 49.49,349.65 49.75,348.63 49.71,347.46 49.97,346.88 49.91,346.11 50.00,345.00 49.96,343.21 50.37,342.54 50.68,342.84 50.85,341.78 51.03,339.87 50.64,339.69 50.74,337.57 51.07,337.96 51.50,335.86 51.25,335.34 51.74,334.07 51.71,333.15 52.00,333.19 52.17,331.55 52.26,330.08 52.50,330.00 52.56,328.91 53.35,327.40 53.14,327.17 53.86,326.39 53.57,324.39 54.20,324.30 54.89,324.73 55.41,325.82 55.80,327.50 57.40,327.60 57.62,328.82 58.11,328.90 57.96,330.84 58.24,330.70 58.37,331.91 58.50,333.00 58.96,333.74 59.09,334.34 59.60,336.20 60.19,336.18 60.49,334.12 60.87,333.26 60.81,333.17 60.83,331.42 61.50,331.00 61.60,330.88 62.70,329.97 62.80,328.60 62.80,329.61 63.62,331.02 63.53,331.61 63.65,331.90 64.00,333.00 64.38,333.41 64.28,334.75 64.87,335.10 65.00,336.38 65.52,337.37 65.15,339.34 65.63,339.02 66.00,340.50 66.83,342.25 67.04,341.96 68.12,343.44 68.50,344.00 69.35,345.41 70.57,345.95 71.40,345.90 72.45,345.07 72.96,343.82 73.50,343.50 74.41,342.35 75.80,342.70 75.99,344.54 76.67,345.37 77.00,346.00 77.66,346.11 78.50,345.00 78.61,343.71 79.09,343.66 79.56,342.82 79.58,340.34 79.80,340.00 79.62,340.19 80.37,341.03 80.50,343.22 80.51,343.31 80.49,345.01 80.53,345.53 80.72,345.55 81.09,347.90 81.20,348.10 81.62,349.84 82.31,349.65 82.20,351.61 83.00,352.00 82.93,353.20 83.72,353.08 83.48,353.84 83.83,356.43 83.87,355.75 84.51,356.87 84.85,357.51 85.12,358.89 85.00,360.00 85.09,361.62 85.46,361.32 85.82,361.93 85.59,362.70 86.03,365.28 86.38,365.46 86.34,365.84 87.23,367.80 86.85,368.78 87.45,368.31 87.60,369.70 88.11,371.42 88.68,371.76 89.07,371.85 89.34,372.79 90.00,374.00 90.24,374.11 90.76,376.59 91.30,376.85 91.52,378.23 92.00,378.30 92.21,378.90 92.92,379.87 92.86,381.86 93.37,381.80 93.74,383.19 94.00,384.00 94.04,384.39 94.46,385.24 94.84,386.64 95.63,386.64 96.13,387.87 96.30,389.10 97.11,389.94 97.40,390.18 97.65,392.18 98.50,392.50 98.89,394.18 100.10,394.75 100.25,395.70 101.00,396.00 101.90,396.07 102.80,396.13 103.70,396.20 104.60,396.27 105.50,396.33 106.40,396.40 107.30,396.47 108.20,396.53 109.10,396.60" fill="#ff5656" stroke="none" stroke-width="0.5" fill-opacity="1"/>
<polygon points="41.00,401.40 41.33,401.22 40.82,398.86 41.28,399.19 41.05,398.01 41.28,397.00 41.04,396.04 41.23,394.89 41.66,394.44 41.41,393.89 41.28,392.17 41.17,390.60 41.40,390.37 41.81,389.32 41.64,388.64 41.34,387.26 41.45,386.49 42.05,385.87 41.57,385.22 42.00,384.66 42.12,383.49 42.09,382.62 42.25,381.05 41.77,381.11 42.17,379.86 42.09,378.48 42.39,377.61 42.37,376.72 42.45,375.57 42.22,375.53 42.55,374.08 42.32,373.42 42.26,371.70 42.20,371.55 42.31,370.97 42.38,370.06 42.67,369.22 42.60,367.58 42.68,366.90 42.48,365.44 42.99,364.85 42.49,364.11 42.94,363.51 42.65,362.74 42.60,361.56 42.78,360.50 43.21,358.91 43.03,357.80 42.89,358.08 43.34,356.14 43.28,355.56 43.10,354.02 43.34,353.33 43.56,352.28 43.46,351.27 43.20,350.35 43.40,350.20 43.60,349.84 44.36,347.97 44.37,347.44 44.86,347.54 45.50,345.90 45.49,344.24 45.84,344.24 45.67,342.52 45.84,341.46 46.12,341.72 46.22,341.01 46.28,340.03 46.07,338.49 46.22,337.86 46.40,336.05 46.28,336.36 46.55,334.98 46.48,333.95 46.80,333.00 46.83,332.79 47.12,331.27 47.40,329.38 47.27,328.62 47.52,327.50 48.01,326.65 48.42,326.36 48.30,325.40 49.12,326.96 49.26,326.71 49.80,328.00 50.08,328.60 50.43,330.20 50.30,331.34 50.70,331.88 50.90,333.00 50.76,333.12 50.97,334.68 51.21,336.10 51.32,336.02 51.50,337.14 51.82,338.52 52.00,339.40 52.34,340.03 52.76,340.81 52.90,342.94 53.01,343.03 52.96,344.20 53.50,345.00 53.80,345.74 53.81,346.22 54.26,348.08 54.90,348.50 54.78,349.51 55.20,350.20 55.33,351.94 55.75,351.36 55.73,352.46 56.18,354.61 56.25,354.26 56.50,356.00 56.74,356.76 57.06,357.33 57.11,358.02 57.78,359.40 57.91,359.82 58.05,360.91 58.23,362.13 58.50,363.20 58.79,364.43 58.97,364.25 59.80,365.01 60.22,366.74 59.98,367.65 60.82,368.43 61.00,369.00 61.48,370.19 61.94,370.44 62.30,371.98 62.92,372.38 63.61,373.89 63.90,374.00 64.64,375.49 64.77,375.27 65.31,376.38 66.09,377.08 66.50,378.00 67.20,379.44 67.54,380.04 68.77,380.07 69.05,380.50 69.49,381.14 70.40,382.60 71.33,384.11 71.40,384.60 72.09,384.91 73.00,386.39 73.50,387.00 74.07,387.62 74.63,387.81 75.31,389.87 75.71,389.22 76.09,390.93 76.80,391.30 77.58,392.61 78.34,392.98 79.38,394.12 80.00,394.00 80.60,394.62 81.35,394.91 82.72,395.65 83.30,396.00 84.11,396.11 84.84,397.22 85.98,398.21 86.50,398.50 87.31,399.33 88.04,400.24 89.08,400.39 89.80,400.50 90.74,400.56 91.67,400.61 92.61,400.67 93.55,400.73 94.49,400.78 95.42,400.84 96.36,400.89 97.30,400.95 98.24,401.01 99.17,401.06 100.11,401.12 101.05,401.17 101.99,401.23 102.92,401.29 103.86,401.34 104.80,401.40" fill="#9d3cff" stroke="none" stroke-width="0.5" fill-opacity="0.62"/>
<polygon points="34.00,406.40 34.08,405.02 34.17,404.35 33.84,403.91 34.44,401.90 34.06,401.43 34.28,401.85 34.33,400.66 34.15,399.40 34.71,398.48 34.67,397.38 34.24,396.74 34.67,395.98 34.31,394.26 34.68,394.36 35.02,393.19 35.10,392.28 35.07,390.80 35.21,389.98 34.66,389.86 34.80,387.61 35.00,388.20 34.96,386.68 35.07,385.56 35.26,384.37 35.54,383.88 35.61,383.15 35.70,382.56 35.16,381.32 35.78,380.76 35.55,379.93 35.34,378.68 35.65,377.98 35.34,376.09 36.05,376.21 35.97,373.93 35.55,373.60 36.04,372.48 35.57,372.62 35.62,371.25 35.88,370.53 36.40,369.91 36.46,368.33 35.85,367.07 35.86,366.69 36.18,365.06 36.05,364.89 36.61,362.96 36.73,362.54 36.36,362.69 36.51,361.00 36.62,360.42 36.69,359.36 36.66,359.14 36.86,357.32 36.61,356.06 36.82,356.49 36.50,354.81 36.96,353.66 37.03,352.04 37.00,352.00 36.98,351.24 37.58,350.23 37.79,349.32 38.37,348.37 38.18,346.14 38.80,346.00 40.10,344.80 41.13,346.22 41.50,347.00 42.42,347.10 43.40,348.10 43.67,349.24 44.07,349.81 44.67,350.79 45.00,352.00 45.23,352.58 45.30,354.37 46.13,354.94 46.08,355.42 46.60,356.70 46.73,358.18 47.18,357.99 47.26,359.84 47.74,360.09 48.13,361.94 48.25,362.91 48.80,363.20 49.25,363.87 49.44,365.81 49.55,365.59 49.94,367.09 50.50,368.00 51.03,369.46 50.92,369.25 51.47,371.29 51.54,372.20 51.79,371.89 52.07,374.00 52.46,374.10 52.75,375.14 53.10,376.20 53.43,377.72 54.58,376.83 55.19,379.16 55.74,379.12 56.00,380.00 56.40,381.57 57.44,382.04 57.81,382.69 58.29,382.82 58.69,383.51 59.60,384.80 60.05,385.76 60.47,386.96 61.54,387.93 62.00,388.00 63.09,389.42 63.66,390.04 64.58,389.10 65.06,390.05 66.00,391.30 67.02,391.94 68.00,392.00 69.12,392.31 69.49,393.14 70.40,393.40 71.19,393.85 71.65,395.16 71.76,395.83 72.50,397.00 73.28,397.79 73.81,397.86 74.37,399.93 74.70,399.90 75.11,401.18 76.49,401.53 77.00,402.00 77.50,401.92 78.35,403.05 79.00,404.20 80.08,404.76 81.20,405.60 82.12,405.64 83.04,405.68 83.96,405.71 84.88,405.75 85.80,405.79 86.71,405.83 87.63,405.87 88.55,405.90 89.47,405.94 90.39,405.98 91.31,406.02 92.23,406.06 93.15,406.10 94.07,406.13 94.99,406.17 95.90,406.21 96.82,406.25 97.74,406.29 98.66,406.32 99.58,406.36 100.50,406.40" fill="#0a0aff" stroke="none" stroke-width="0.5" fill-opacity="0.85"/>
<polygon points="28.20,411.50 28.11,410.34 28.19,409.60 28.36,408.37 28.58,408.32 28.42,407.27 28.50,406.14 28.50,404.87 28.90,404.01 28.91,403.73 28.73,402.80 28.97,401.41 29.13,400.93 28.89,400.18 29.19,399.01 29.06,398.01 29.09,397.07 29.46,396.63 29.30,395.35 29.48,394.81 29.65,393.88 29.55,392.61 29.62,391.80 29.63,390.46 29.59,390.21 29.89,388.55 29.92,387.88 29.91,387.17 29.92,386.80 29.99,385.31 30.08,384.63 30.34,383.46 30.33,382.52 30.21,382.20 30.33,380.46 30.50,380.00 30.60,379.36 30.54,377.92 30.64,376.95 30.78,375.91 30.94,375.85 30.99,374.78 30.78,373.15 31.02,373.19 31.14,371.73 31.14,371.03 30.94,369.79 30.97,369.04 31.35,368.06 31.02,367.10 31.14,365.91 31.27,365.74 31.21,364.34 31.40,364.12 31.30,362.44 31.40,361.37 31.44,361.09 31.63,359.54 31.88,358.84 31.75,357.80 31.75,357.55 31.83,356.85 31.86,355.20 31.91,354.08 32.15,353.38 32.04,353.06 32.00,351.35 32.03,350.65 32.20,350.00 32.45,348.82 32.22,347.83 32.53,347.71 32.56,346.86 32.76,345.87 32.90,344.85 32.74,343.64 33.15,342.45 33.27,342.24 33.26,340.77 33.36,340.32 33.41,339.43 33.57,338.36 33.60,337.30 34.30,336.13 34.50,335.89 35.20,334.50 36.23,334.22 36.90,333.00 36.99,334.17 37.30,335.40 37.79,336.47 38.00,337.00 38.12,337.61 38.53,339.24 38.92,340.40 39.00,341.20 39.02,341.84 39.25,343.46 39.51,344.34 39.99,345.19 40.12,346.18 40.20,347.10 40.47,347.81 40.87,348.95 40.99,349.45 41.20,350.40 41.28,350.83 41.73,352.29 42.04,353.46 42.21,353.64 42.54,355.17 42.94,355.31 42.90,357.03 43.29,357.64 43.52,358.79 43.86,359.13 43.97,360.77 44.40,361.20 44.82,361.71 45.14,363.39 45.64,363.83 45.69,365.08 46.11,366.08 46.73,366.40 47.09,367.42 47.48,368.07 47.56,368.98 48.00,370.19 48.59,371.14 48.80,372.00 48.99,373.08 49.60,373.56 50.06,374.60 50.19,375.48 50.89,376.11 51.25,377.09 51.59,378.59 51.97,379.16 52.48,379.67 52.87,380.69 53.10,381.60 53.78,382.22 54.22,383.51 54.57,383.98 55.19,385.12 55.64,385.82 56.18,386.06 56.73,387.60 57.40,388.10 58.00,389.19 58.64,389.56 59.19,390.29 60.17,390.76 60.71,391.23 61.22,392.07 61.76,392.45 62.73,394.07 63.37,394.61 63.90,395.00 64.41,396.10 65.20,396.38 66.03,397.02 66.69,397.86 67.21,397.87 67.90,399.08 68.58,399.67 69.27,400.00 69.79,400.76 70.40,401.50 71.28,402.46 71.89,402.43 72.85,403.01 73.76,404.25 74.36,404.21 75.11,405.19 75.81,405.35 76.80,406.00 77.70,406.16 78.61,407.15 79.62,407.30 80.18,408.04 81.20,408.40 82.36,408.27 83.31,409.49 84.04,409.40 84.99,409.19 86.23,409.62 87.14,410.59 88.00,410.50 88.91,410.61 89.82,410.72 90.73,410.83 91.64,410.94 92.56,411.06 93.47,411.17 94.38,411.28 95.29,411.39 96.20,411.50" fill="#000000" stroke="#000" stroke-width="0.4" fill-opacity="0.6"/>
<line x1="24.00" y1="411.50" x2="24.00" y2="413.30" stroke="#555" stroke-width="0.4"/>
<line x1="33.50" y1="411.50" x2="33.50" y2="413.30" stroke="#555" stroke-width="0.4"/>
<line x1="43.00" y1="411.50" x2="43.00" y2="413.30" stroke="#555" stroke-width="0.4"/>
<line x1="52.50" y1="411.50" x2="52.50" y2="413.30" stroke="#555" stroke-width="0.4"/>
<line x1="62.00" y1="411.50" x2="62.00" y2="413.30" stroke="#555" stroke-width="0.4"/>
<line x1="71.50" y1="411.50" x2="71.50" y2="413.30" stroke="#555" stroke-width="0.4"/>
<line x1="81.00" y1="411.50" x2="81.00" y2="413.30" stroke="#555" stroke-width="0.4"/>
<line x1="90.50" y1="411.50" x2="90.50" y2="413.30" stroke="#555" stroke-width="0.4"/>
<rect x="24.60" y="411.60" width="4.60" height="1.40" fill="#222" stroke="none" stroke-width="0.8"/>
<text x="50.80" y="420.60" font-size="6.3" text-anchor="middle" font-weight="bold" fill="#1a1a1a" stroke="#1a1a1a" stroke-width="0.1">CD11C+TAMs</text>
<text x="2.70" y="429.00" font-size="6.0" text-anchor="start" font-weight="bold" fill="#111" stroke="#111" stroke-width="0.1">–sh<tspan font-style="italic">NC</tspan> IgG</text>
<text x="2.70" y="435.70" font-size="6.0" text-anchor="start" font-weight="bold" fill="#1a1aff" stroke="#1a1aff" stroke-width="0.1">–sh<tspan font-style="italic">SMD1</tspan> IgG</text>
<text x="55.00" y="429.00" font-size="6.0" text-anchor="start" font-weight="bold" fill="#b158ff" stroke="#b158ff" stroke-width="0.1">–sh<tspan font-style="italic">NC</tspan> αPD1</text>
<text x="55.00" y="435.70" font-size="6.0" text-anchor="start" font-weight="bold" fill="#ff2020" stroke="#ff2020" stroke-width="0.1">–sh<tspan font-style="italic">SMD1</tspan> αPD1</text>
<line x1="129.00" y1="330.50" x2="129.00" y2="402.30" stroke="#222" stroke-width="0.8"/>
<line x1="126.80" y1="402.10" x2="129.00" y2="402.10" stroke="#222" stroke-width="0.7"/>
<text x="126.20" y="404.10" font-size="5.6" text-anchor="end" font-weight="bold" fill="#222" stroke="#222" stroke-width="0.1">0</text>
<line x1="126.80" y1="378.38" x2="129.00" y2="378.38" stroke="#222" stroke-width="0.7"/>
<text x="126.20" y="380.38" font-size="5.6" text-anchor="end" font-weight="bold" fill="#222" stroke="#222" stroke-width="0.1">20</text>
<line x1="126.80" y1="354.66" x2="129.00" y2="354.66" stroke="#222" stroke-width="0.7"/>
<text x="126.20" y="356.66" font-size="5.6" text-anchor="end" font-weight="bold" fill="#222" stroke="#222" stroke-width="0.1">40</text>
<line x1="126.80" y1="330.94" x2="129.00" y2="330.94" stroke="#222" stroke-width="0.7"/>
<text x="126.20" y="332.94" font-size="5.6" text-anchor="end" font-weight="bold" fill="#222" stroke="#222" stroke-width="0.1">60</text>
<line x1="129.00" y1="402.10" x2="190.50" y2="402.10" stroke="#222" stroke-width="0.8"/>
<text x="116.20" y="367.50" font-size="6.0" text-anchor="middle" font-weight="bold" fill="#1a1a1a" stroke="#1a1a1a" stroke-width="0.1" transform="rotate(-90 116.2 367.5)">% CD11C+TAMs</text>
<line x1="141.00" y1="402.10" x2="141.00" y2="404.10" stroke="#222" stroke-width="0.6"/>
<line x1="155.30" y1="402.10" x2="155.30" y2="404.10" stroke="#222" stroke-width="0.6"/>
<line x1="168.50" y1="402.10" x2="168.50" y2="404.10" stroke="#222" stroke-width="0.6"/>
<line x1="181.60" y1="402.10" x2="181.60" y2="404.10" stroke="#222" stroke-width="0.6"/>
<path d="M136.10 402.10V368.30H145.90V402.10" fill="none" stroke="#111111" stroke-width="1.2"/>
<path d="M150.40 402.10V365.40H160.20V402.10" fill="none" stroke="#1a1aff" stroke-width="1.2"/>
<path d="M163.60 402.10V369.50H173.40V402.10" fill="none" stroke="#b35ee8" stroke-width="1.2"/>
<path d="M176.70 402.10V353.80H186.50V402.10" fill="none" stroke="#ff1f1f" stroke-width="1.2"/>
<rect x="136.00" y="354.00" width="2.99" height="2.99" fill="#111111"/>
<rect x="143.00" y="357.50" width="2.99" height="2.99" fill="#111111"/>
<rect x="139.50" y="363.50" width="2.99" height="2.99" fill="#111111"/>
<rect x="136.50" y="370.50" width="2.99" height="2.99" fill="#111111"/>
<rect x="139.50" y="372.50" width="2.99" height="2.99" fill="#111111"/>
<rect x="136.00" y="379.50" width="2.99" height="2.99" fill="#111111"/>
<rect x="143.00" y="379.50" width="2.99" height="2.99" fill="#111111"/>
<line x1="141.00" y1="357.50" x2="141.00" y2="377.00" stroke="#111111" stroke-width="0.9"/>
<line x1="138.60" y1="357.50" x2="143.40" y2="357.50" stroke="#111111" stroke-width="0.9"/>
<line x1="138.60" y1="377.00" x2="143.40" y2="377.00" stroke="#111111" stroke-width="0.9"/>
<polygon points="155.30,348.09 157.12,351.37 153.48,351.37" fill="#1a1aff" stroke="none" stroke-width="0.5"/>
<polygon points="152.30,355.09 154.12,358.37 150.48,358.37" fill="#1a1aff" stroke="none" stroke-width="0.5"/>
<polygon points="158.30,355.09 160.12,358.37 156.48,358.37" fill="#1a1aff" stroke="none" stroke-width="0.5"/>
<polygon points="155.30,363.09 157.12,366.37 153.48,366.37" fill="#1a1aff" stroke="none" stroke-width="0.5"/>
<polygon points="151.80,370.09 153.62,373.37 149.98,373.37" fill="#1a1aff" stroke="none" stroke-width="0.5"/>
<polygon points="158.80,370.09 160.62,373.37 156.98,373.37" fill="#1a1aff" stroke="none" stroke-width="0.5"/>
<polygon points="155.30,375.09 157.12,378.37 153.48,378.37" fill="#1a1aff" stroke="none" stroke-width="0.5"/>
<line x1="155.30" y1="357.00" x2="155.30" y2="374.00" stroke="#1a1aff" stroke-width="0.9"/>
<line x1="152.90" y1="357.00" x2="157.70" y2="357.00" stroke="#1a1aff" stroke-width="0.9"/>
<line x1="152.90" y1="374.00" x2="157.70" y2="374.00" stroke="#1a1aff" stroke-width="0.9"/>
<polygon points="165.00,355.41 166.82,352.13 163.18,352.13" fill="#b35ee8" stroke="none" stroke-width="0.5"/>
<polygon points="172.00,355.41 173.82,352.13 170.18,352.13" fill="#b35ee8" stroke="none" stroke-width="0.5"/>
<polygon points="168.50,358.91 170.32,355.63 166.68,355.63" fill="#b35ee8" stroke="none" stroke-width="0.5"/>
<polygon points="168.50,368.91 170.32,365.63 166.68,365.63" fill="#b35ee8" stroke="none" stroke-width="0.5"/>
<polygon points="165.50,375.91 167.32,372.63 163.68,372.63" fill="#b35ee8" stroke="none" stroke-width="0.5"/>
<polygon points="171.50,377.91 173.32,374.63 169.68,374.63" fill="#b35ee8" stroke="none" stroke-width="0.5"/>
<polygon points="168.50,384.91 170.32,381.63 166.68,381.63" fill="#b35ee8" stroke="none" stroke-width="0.5"/>
<line x1="168.50" y1="355.50" x2="168.50" y2="383.00" stroke="#b35ee8" stroke-width="0.9"/>
<line x1="166.10" y1="355.50" x2="170.90" y2="355.50" stroke="#b35ee8" stroke-width="0.9"/>
<line x1="166.10" y1="383.00" x2="170.90" y2="383.00" stroke="#b35ee8" stroke-width="0.9"/>
<circle cx="178.60" cy="346.00" r="1.62" fill="#ff1f1f"/>
<circle cx="184.60" cy="346.00" r="1.62" fill="#ff1f1f"/>
<circle cx="181.60" cy="348.00" r="1.62" fill="#ff1f1f"/>
<circle cx="178.10" cy="355.00" r="1.62" fill="#ff1f1f"/>
<circle cx="185.10" cy="355.00" r="1.62" fill="#ff1f1f"/>
<circle cx="181.60" cy="358.00" r="1.62" fill="#ff1f1f"/>
<line x1="181.60" y1="348.00" x2="181.60" y2="358.00" stroke="#ff1f1f" stroke-width="0.9"/>
<line x1="179.20" y1="348.00" x2="184.00" y2="348.00" stroke="#ff1f1f" stroke-width="0.9"/>
<line x1="179.20" y1="358.00" x2="184.00" y2="358.00" stroke="#ff1f1f" stroke-width="0.9"/>
<line x1="154.30" y1="334.50" x2="180.90" y2="334.50" stroke="#3a3a3a" stroke-width="0.8"/>
<text x="167.60" y="336.40" font-size="6.0" text-anchor="middle" font-weight="bold" fill="#222" stroke="#222" stroke-width="0.1">*</text>
<line x1="167.60" y1="341.30" x2="180.90" y2="341.30" stroke="#3a3a3a" stroke-width="0.8"/>
<text x="174.25" y="343.20" font-size="6.0" text-anchor="middle" font-weight="bold" fill="#222" stroke="#222" stroke-width="0.1">*</text>
<text x="144.00" y="409.00" font-size="5.8" text-anchor="end" font-weight="bold" fill="#1a1a1a" stroke="#1a1a1a" stroke-width="0.1" transform="rotate(-34 144.0 409.0)">sh<tspan font-style="italic">NC</tspan> IgG</text>
<text x="158.30" y="409.00" font-size="5.8" text-anchor="end" font-weight="bold" fill="#1a1a1a" stroke="#1a1a1a" stroke-width="0.1" transform="rotate(-34 158.3 409.0)">sh<tspan font-style="italic">SMD1</tspan> IgG</text>
<text x="171.50" y="409.00" font-size="5.8" text-anchor="end" font-weight="bold" fill="#1a1a1a" stroke="#1a1a1a" stroke-width="0.1" transform="rotate(-34 171.5 409.0)">sh<tspan font-style="italic">NC</tspan> αPD1</text>
<text x="184.60" y="409.00" font-size="5.8" text-anchor="end" font-weight="bold" fill="#1a1a1a" stroke="#1a1a1a" stroke-width="0.1" transform="rotate(-34 184.6 409.0)">sh<tspan font-style="italic">SMD1</tspan> αPD1</text>
<text x="198.50" y="323.60" font-size="8.6" text-anchor="start" font-weight="bold" fill="#1a1a1a" stroke="#1a1a1a" stroke-width="0.1">F</text>
<text x="246.20" y="322.80" font-size="6.15" text-anchor="middle" font-weight="bold" fill="#1a1a1a" stroke="#1a1a1a" stroke-width="0.1">M1.TAMs/M2.TAMs</text>
<line x1="215.40" y1="331.10" x2="215.40" y2="402.20" stroke="#222" stroke-width="0.8"/>
<line x1="213.20" y1="402.00" x2="215.40" y2="402.00" stroke="#222" stroke-width="0.7"/>
<text x="212.60" y="404.00" font-size="5.6" text-anchor="end" font-weight="bold" fill="#222" stroke="#222" stroke-width="0.1">0</text>
<line x1="213.20" y1="387.90" x2="215.40" y2="387.90" stroke="#222" stroke-width="0.7"/>
<text x="212.60" y="389.90" font-size="5.6" text-anchor="end" font-weight="bold" fill="#222" stroke="#222" stroke-width="0.1">5</text>
<line x1="213.20" y1="373.80" x2="215.40" y2="373.80" stroke="#222" stroke-width="0.7"/>
<text x="212.60" y="375.80" font-size="5.6" text-anchor="end" font-weight="bold" fill="#222" stroke="#222" stroke-width="0.1">10</text>
<line x1="213.20" y1="359.70" x2="215.40" y2="359.70" stroke="#222" stroke-width="0.7"/>
<text x="212.60" y="361.70" font-size="5.6" text-anchor="end" font-weight="bold" fill="#222" stroke="#222" stroke-width="0.1">15</text>
<line x1="213.20" y1="345.60" x2="215.40" y2="345.60" stroke="#222" stroke-width="0.7"/>
<text x="212.60" y="347.60" font-size="5.6" text-anchor="end" font-weight="bold" fill="#222" stroke="#222" stroke-width="0.1">20</text>
<line x1="213.20" y1="331.50" x2="215.40" y2="331.50" stroke="#222" stroke-width="0.7"/>
<text x="212.60" y="333.50" font-size="5.6" text-anchor="end" font-weight="bold" fill="#222" stroke="#222" stroke-width="0.1">25</text>
<line x1="215.40" y1="402.00" x2="280.40" y2="402.00" stroke="#222" stroke-width="0.8"/>
<text x="202.10" y="367.35" font-size="5.8" text-anchor="middle" font-weight="bold" fill="#1a1a1a" stroke="#1a1a1a" stroke-width="0.1" transform="rotate(-90 202.1 367.35)">Ratio</text>
<line x1="227.50" y1="402.00" x2="227.50" y2="404.00" stroke="#222" stroke-width="0.6"/>
<line x1="241.30" y1="402.00" x2="241.30" y2="404.00" stroke="#222" stroke-width="0.6"/>
<line x1="254.80" y1="402.00" x2="254.80" y2="404.00" stroke="#222" stroke-width="0.6"/>
<line x1="268.40" y1="402.00" x2="268.40" y2="404.00" stroke="#222" stroke-width="0.6"/>
<path d="M222.50 402.00V396.92H232.50V402.00" fill="none" stroke="#111111" stroke-width="1.2"/>
<path d="M236.30 402.00V376.62H246.30V402.00" fill="none" stroke="#1a1aff" stroke-width="1.2"/>
<path d="M249.80 402.00V377.75H259.80V402.00" fill="none" stroke="#b35ee8" stroke-width="1.2"/>
<path d="M263.40 402.00V361.11H273.40V402.00" fill="none" stroke="#ff1f1f" stroke-width="1.2"/>
<rect x="226.00" y="390.07" width="2.99" height="2.99" fill="#111111"/>
<rect x="223.00" y="396.27" width="2.99" height="2.99" fill="#111111"/>
<rect x="229.00" y="396.27" width="2.99" height="2.99" fill="#111111"/>
<rect x="226.00" y="397.69" width="2.99" height="2.99" fill="#111111"/>
<rect x="224.00" y="398.25" width="2.99" height="2.99" fill="#111111"/>
<rect x="228.00" y="397.97" width="2.99" height="2.99" fill="#111111"/>
<line x1="227.50" y1="393.54" x2="227.50" y2="400.31" stroke="#111111" stroke-width="0.9"/>
<line x1="225.10" y1="393.54" x2="229.90" y2="393.54" stroke="#111111" stroke-width="0.9"/>
<line x1="225.10" y1="400.31" x2="229.90" y2="400.31" stroke="#111111" stroke-width="0.9"/>
<polygon points="241.30,359.76 243.12,363.04 239.48,363.04" fill="#1a1aff" stroke="none" stroke-width="0.5"/>
<polygon points="238.30,370.48 240.12,373.75 236.48,373.75" fill="#1a1aff" stroke="none" stroke-width="0.5"/>
<polygon points="244.30,370.48 246.12,373.75 242.48,373.75" fill="#1a1aff" stroke="none" stroke-width="0.5"/>
<polygon points="237.80,378.94 239.62,382.22 235.98,382.22" fill="#1a1aff" stroke="none" stroke-width="0.5"/>
<polygon points="244.80,378.94 246.62,382.22 242.98,382.22" fill="#1a1aff" stroke="none" stroke-width="0.5"/>
<polygon points="241.30,385.99 243.12,389.26 239.48,389.26" fill="#1a1aff" stroke="none" stroke-width="0.5"/>
<line x1="241.30" y1="365.90" x2="241.30" y2="386.49" stroke="#1a1aff" stroke-width="0.9"/>
<line x1="238.90" y1="365.90" x2="243.70" y2="365.90" stroke="#1a1aff" stroke-width="0.9"/>
<line x1="238.90" y1="386.49" x2="243.70" y2="386.49" stroke="#1a1aff" stroke-width="0.9"/>
<polygon points="251.80,368.66 253.62,365.38 249.98,365.38" fill="#b35ee8" stroke="none" stroke-width="0.5"/>
<polygon points="257.80,368.66 259.62,365.38 255.98,365.38" fill="#b35ee8" stroke="none" stroke-width="0.5"/>
<polygon points="254.80,375.71 256.62,372.44 252.98,372.44" fill="#b35ee8" stroke="none" stroke-width="0.5"/>
<polygon points="251.30,379.10 253.12,375.82 249.48,375.82" fill="#b35ee8" stroke="none" stroke-width="0.5"/>
<polygon points="258.30,379.10 260.12,375.82 256.48,375.82" fill="#b35ee8" stroke="none" stroke-width="0.5"/>
<polygon points="254.80,389.81 256.62,386.53 252.98,386.53" fill="#b35ee8" stroke="none" stroke-width="0.5"/>
<line x1="254.80" y1="370.13" x2="254.80" y2="384.52" stroke="#b35ee8" stroke-width="0.9"/>
<line x1="252.40" y1="370.13" x2="257.20" y2="370.13" stroke="#b35ee8" stroke-width="0.9"/>
<line x1="252.40" y1="384.52" x2="257.20" y2="384.52" stroke="#b35ee8" stroke-width="0.9"/>
<circle cx="268.40" cy="341.09" r="1.62" fill="#ff1f1f"/>
<circle cx="265.40" cy="362.52" r="1.62" fill="#ff1f1f"/>
<circle cx="271.40" cy="362.52" r="1.62" fill="#ff1f1f"/>
<circle cx="268.40" cy="368.16" r="1.62" fill="#ff1f1f"/>
<circle cx="264.90" cy="370.98" r="1.62" fill="#ff1f1f"/>
<circle cx="271.90" cy="370.98" r="1.62" fill="#ff1f1f"/>
<line x1="268.40" y1="349.55" x2="268.40" y2="372.11" stroke="#ff1f1f" stroke-width="0.9"/>
<line x1="266.00" y1="349.55" x2="270.80" y2="349.55" stroke="#ff1f1f" stroke-width="0.9"/>
<line x1="266.00" y1="372.11" x2="270.80" y2="372.11" stroke="#ff1f1f" stroke-width="0.9"/>
<line x1="240.70" y1="331.90" x2="268.50" y2="331.90" stroke="#3a3a3a" stroke-width="0.8"/>
<text x="254.60" y="333.80" font-size="6.0" text-anchor="middle" font-weight="bold" fill="#222" stroke="#222" stroke-width="0.1">*</text>
<line x1="254.00" y1="338.70" x2="268.50" y2="338.70" stroke="#3a3a3a" stroke-width="0.8"/>
<text x="261.25" y="340.60" font-size="6.0" text-anchor="middle" font-weight="bold" fill="#222" stroke="#222" stroke-width="0.1">*</text>
<text x="230.50" y="409.00" font-size="5.8" text-anchor="end" font-weight="bold" fill="#1a1a1a" stroke="#1a1a1a" stroke-width="0.1" transform="rotate(-34 230.5 409.0)">sh<tspan font-style="italic">NC</tspan> IgG</text>
<text x="244.30" y="409.00" font-size="5.8" text-anchor="end" font-weight="bold" fill="#1a1a1a" stroke="#1a1a1a" stroke-width="0.1" transform="rotate(-34 244.3 409.0)">sh<tspan font-style="italic">SMD1</tspan> IgG</text>
<text x="257.80" y="409.00" font-size="5.8" text-anchor="end" font-weight="bold" fill="#1a1a1a" stroke="#1a1a1a" stroke-width="0.1" transform="rotate(-34 257.8 409.0)">sh<tspan font-style="italic">NC</tspan> αPD1</text>
<text x="271.40" y="409.00" font-size="5.8" text-anchor="end" font-weight="bold" fill="#1a1a1a" stroke="#1a1a1a" stroke-width="0.1" transform="rotate(-34 271.4 409.0)">sh<tspan font-style="italic">SMD1</tspan> αPD1</text>
<text x="286.00" y="323.60" font-size="8.6" text-anchor="start" font-weight="bold" fill="#1a1a1a" stroke="#1a1a1a" stroke-width="0.1">G</text>
<text x="330.80" y="325.20" font-size="6.15" text-anchor="middle" font-weight="bold" fill="#1a1a1a" stroke="#1a1a1a" stroke-width="0.1">CD8+T/Tregs</text>
<line x1="300.50" y1="332.05" x2="300.50" y2="403.40" stroke="#222" stroke-width="0.8"/>
<line x1="298.30" y1="403.20" x2="300.50" y2="403.20" stroke="#222" stroke-width="0.7"/>
<text x="297.70" y="405.20" font-size="5.6" text-anchor="end" font-weight="bold" fill="#222" stroke="#222" stroke-width="0.1">0</text>
<line x1="298.30" y1="389.05" x2="300.50" y2="389.05" stroke="#222" stroke-width="0.7"/>
<text x="297.70" y="391.05" font-size="5.6" text-anchor="end" font-weight="bold" fill="#222" stroke="#222" stroke-width="0.1">5</text>
<line x1="298.30" y1="374.90" x2="300.50" y2="374.90" stroke="#222" stroke-width="0.7"/>
<text x="297.70" y="376.90" font-size="5.6" text-anchor="end" font-weight="bold" fill="#222" stroke="#222" stroke-width="0.1">10</text>
<line x1="298.30" y1="360.75" x2="300.50" y2="360.75" stroke="#222" stroke-width="0.7"/>
<text x="297.70" y="362.75" font-size="5.6" text-anchor="end" font-weight="bold" fill="#222" stroke="#222" stroke-width="0.1">15</text>
<line x1="298.30" y1="346.60" x2="300.50" y2="346.60" stroke="#222" stroke-width="0.7"/>
<text x="297.70" y="348.60" font-size="5.6" text-anchor="end" font-weight="bold" fill="#222" stroke="#222" stroke-width="0.1">20</text>
<line x1="298.30" y1="332.45" x2="300.50" y2="332.45" stroke="#222" stroke-width="0.7"/>
<text x="297.70" y="334.45" font-size="5.6" text-anchor="end" font-weight="bold" fill="#222" stroke="#222" stroke-width="0.1">25</text>
<line x1="300.50" y1="403.20" x2="365.50" y2="403.20" stroke="#222" stroke-width="0.8"/>
<text x="287.20" y="368.43" font-size="5.8" text-anchor="middle" font-weight="bold" fill="#1a1a1a" stroke="#1a1a1a" stroke-width="0.1" transform="rotate(-90 287.2 368.425)">Ratio</text>
<line x1="312.60" y1="403.20" x2="312.60" y2="405.20" stroke="#222" stroke-width="0.6"/>
<line x1="326.00" y1="403.20" x2="326.00" y2="405.20" stroke="#222" stroke-width="0.6"/>
<line x1="339.80" y1="403.20" x2="339.80" y2="405.20" stroke="#222" stroke-width="0.6"/>
<line x1="353.60" y1="403.20" x2="353.60" y2="405.20" stroke="#222" stroke-width="0.6"/>
<path d="M307.60 403.20V398.11H317.60V403.20" fill="none" stroke="#111111" stroke-width="1.2"/>
<path d="M321.00 403.20V377.73H331.00V403.20" fill="none" stroke="#1a1aff" stroke-width="1.2"/>
<path d="M334.80 403.20V378.86H344.80V403.20" fill="none" stroke="#b35ee8" stroke-width="1.2"/>
<path d="M348.60 403.20V362.16H358.60V403.20" fill="none" stroke="#ff1f1f" stroke-width="1.2"/>
<circle cx="312.60" cy="392.73" r="1.62" fill="#111111"/>
<rect x="308.11" y="397.46" width="2.99" height="2.99" fill="#111111"/>
<rect x="314.11" y="397.46" width="2.99" height="2.99" fill="#111111"/>
<circle cx="312.60" cy="400.37" r="1.62" fill="#111111"/>
<rect x="309.11" y="399.44" width="2.99" height="2.99" fill="#111111"/>
<rect x="313.11" y="399.16" width="2.99" height="2.99" fill="#111111"/>
<line x1="312.60" y1="394.71" x2="312.60" y2="401.50" stroke="#111111" stroke-width="0.9"/>
<line x1="310.20" y1="394.71" x2="315.00" y2="394.71" stroke="#111111" stroke-width="0.9"/>
<line x1="310.20" y1="401.50" x2="315.00" y2="401.50" stroke="#111111" stroke-width="0.9"/>
<polygon points="326.00,360.82 327.82,364.10 324.18,364.10" fill="#1a1aff" stroke="none" stroke-width="0.5"/>
<polygon points="323.00,371.57 324.82,374.85 321.18,374.85" fill="#1a1aff" stroke="none" stroke-width="0.5"/>
<polygon points="329.00,371.57 330.82,374.85 327.18,374.85" fill="#1a1aff" stroke="none" stroke-width="0.5"/>
<polygon points="322.50,380.06 324.32,383.34 320.68,383.34" fill="#1a1aff" stroke="none" stroke-width="0.5"/>
<polygon points="329.50,380.06 331.32,383.34 327.68,383.34" fill="#1a1aff" stroke="none" stroke-width="0.5"/>
<polygon points="326.00,387.14 327.82,390.42 324.18,390.42" fill="#1a1aff" stroke="none" stroke-width="0.5"/>
<line x1="326.00" y1="366.98" x2="326.00" y2="387.63" stroke="#1a1aff" stroke-width="0.9"/>
<line x1="323.60" y1="366.98" x2="328.40" y2="366.98" stroke="#1a1aff" stroke-width="0.9"/>
<line x1="323.60" y1="387.63" x2="328.40" y2="387.63" stroke="#1a1aff" stroke-width="0.9"/>
<polygon points="336.80,369.74 338.62,366.46 334.98,366.46" fill="#b35ee8" stroke="none" stroke-width="0.5"/>
<polygon points="342.80,369.74 344.62,366.46 340.98,366.46" fill="#b35ee8" stroke="none" stroke-width="0.5"/>
<polygon points="339.80,376.81 341.62,373.53 337.98,373.53" fill="#b35ee8" stroke="none" stroke-width="0.5"/>
<polygon points="336.30,380.21 338.12,376.93 334.48,376.93" fill="#b35ee8" stroke="none" stroke-width="0.5"/>
<polygon points="343.30,380.21 345.12,376.93 341.48,376.93" fill="#b35ee8" stroke="none" stroke-width="0.5"/>
<polygon points="339.80,390.96 341.62,387.69 337.98,387.69" fill="#b35ee8" stroke="none" stroke-width="0.5"/>
<line x1="339.80" y1="371.22" x2="339.80" y2="385.65" stroke="#b35ee8" stroke-width="0.9"/>
<line x1="337.40" y1="371.22" x2="342.20" y2="371.22" stroke="#b35ee8" stroke-width="0.9"/>
<line x1="337.40" y1="385.65" x2="342.20" y2="385.65" stroke="#b35ee8" stroke-width="0.9"/>
<circle cx="353.60" cy="342.07" r="1.62" fill="#ff1f1f"/>
<circle cx="350.60" cy="363.58" r="1.62" fill="#ff1f1f"/>
<circle cx="356.60" cy="363.58" r="1.62" fill="#ff1f1f"/>
<circle cx="353.60" cy="369.24" r="1.62" fill="#ff1f1f"/>
<circle cx="350.10" cy="372.07" r="1.62" fill="#ff1f1f"/>
<circle cx="357.10" cy="372.07" r="1.62" fill="#ff1f1f"/>
<line x1="353.60" y1="350.56" x2="353.60" y2="373.20" stroke="#ff1f1f" stroke-width="0.9"/>
<line x1="351.20" y1="350.56" x2="356.00" y2="350.56" stroke="#ff1f1f" stroke-width="0.9"/>
<line x1="351.20" y1="373.20" x2="356.00" y2="373.20" stroke="#ff1f1f" stroke-width="0.9"/>
<line x1="325.90" y1="333.10" x2="353.70" y2="333.10" stroke="#3a3a3a" stroke-width="0.8"/>
<text x="339.80" y="335.00" font-size="6.0" text-anchor="middle" font-weight="bold" fill="#222" stroke="#222" stroke-width="0.1">**</text>
<line x1="339.20" y1="339.60" x2="353.70" y2="339.60" stroke="#3a3a3a" stroke-width="0.8"/>
<text x="346.45" y="341.50" font-size="6.0" text-anchor="middle" font-weight="bold" fill="#222" stroke="#222" stroke-width="0.1">**</text>
<text x="315.60" y="410.20" font-size="5.8" text-anchor="end" font-weight="bold" fill="#1a1a1a" stroke="#1a1a1a" stroke-width="0.1" transform="rotate(-34 315.6 410.2)">sh<tspan font-style="italic">NC</tspan> IgG</text>
<text x="329.00" y="410.20" font-size="5.8" text-anchor="end" font-weight="bold" fill="#1a1a1a" stroke="#1a1a1a" stroke-width="0.1" transform="rotate(-34 329.0 410.2)">sh<tspan font-style="italic">SMD1</tspan> IgG</text>
<text x="342.80" y="410.20" font-size="5.8" text-anchor="end" font-weight="bold" fill="#1a1a1a" stroke="#1a1a1a" stroke-width="0.1" transform="rotate(-34 342.8 410.2)">sh<tspan font-style="italic">NC</tspan> αPD1</text>
<text x="356.60" y="410.20" font-size="5.8" text-anchor="end" font-weight="bold" fill="#1a1a1a" stroke="#1a1a1a" stroke-width="0.1" transform="rotate(-34 356.6 410.2)">sh<tspan font-style="italic">SMD1</tspan> αPD1</text>
</svg></body></html>
